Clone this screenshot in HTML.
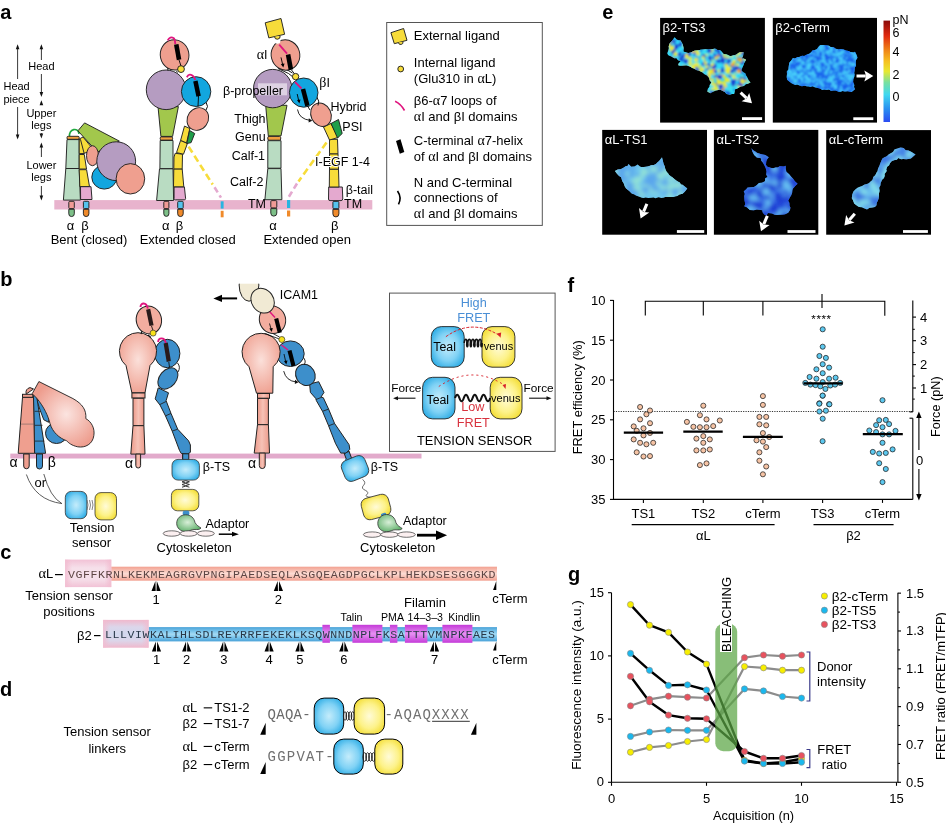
<!DOCTYPE html>
<html><head><meta charset="utf-8"><style>
html,body{margin:0;padding:0;background:#fff;width:946px;height:823px;overflow:hidden}
svg{display:block;filter:blur(0.4px)}
text{font-family:"Liberation Sans",sans-serif}
.m{font-family:"Liberation Mono",monospace}
</style></head><body>
<svg width="946" height="823" viewBox="0 0 946 823">
<text x="0.3" y="18.6" font-size="20" font-weight="bold" font-family="Liberation Sans, sans-serif">a</text>
<text x="0.3" y="285.6" font-size="20" font-weight="bold" font-family="Liberation Sans, sans-serif">b</text>
<text x="0.2" y="559.4" font-size="20" font-weight="bold" font-family="Liberation Sans, sans-serif">c</text>
<text x="0" y="695.5" font-size="20" font-weight="bold" font-family="Liberation Sans, sans-serif">d</text>
<text x="602.2" y="18.8" font-size="20" font-weight="bold" font-family="Liberation Sans, sans-serif">e</text>
<text x="567.6" y="291.5" font-size="20" font-weight="bold" font-family="Liberation Sans, sans-serif">f</text>
<text x="568" y="580.5" font-size="20" font-weight="bold" font-family="Liberation Sans, sans-serif">g</text>
<rect x="54.3" y="200.1" width="318" height="9.4" fill="#e8b3cd"/>
<line x1="17.6" y1="46" x2="17.6" y2="79" stroke="#222" stroke-width="0.9"/>
<line x1="17.6" y1="107" x2="17.6" y2="138" stroke="#222" stroke-width="0.9"/>
<path d="M15.8,49.3 L17.6,44.3 L19.400000000000002,49.3 Z" fill="#111"/>
<path d="M15.8,134.5 L17.6,139.5 L19.400000000000002,134.5 Z" fill="#111"/>
<text x="16.6" y="89.8" font-size="11" text-anchor="middle">Head</text>
<text x="16.6" y="103.3" font-size="11" text-anchor="middle">piece</text>
<line x1="41.4" y1="46" x2="41.4" y2="60" stroke="#222" stroke-width="0.9"/>
<line x1="41.4" y1="74" x2="41.4" y2="95" stroke="#222" stroke-width="0.9"/>
<path d="M39.6,49.3 L41.4,44.3 L43.199999999999996,49.3 Z" fill="#111"/>
<path d="M39.6,92.1 L41.4,97.1 L43.199999999999996,92.1 Z" fill="#111"/>
<text x="41.4" y="70.2" font-size="11" text-anchor="middle">Head</text>
<line x1="41.4" y1="102" x2="41.4" y2="105" stroke="#222" stroke-width="0.9"/>
<path d="M39.6,105.2 L41.4,100.2 L43.199999999999996,105.2 Z" fill="#111"/>
<path d="M39.6,133.5 L41.4,138.5 L43.199999999999996,133.5 Z" fill="#111"/>
<line x1="41.4" y1="133" x2="41.4" y2="137" stroke="#222" stroke-width="0.9"/>
<text x="41.4" y="116.7" font-size="11" text-anchor="middle">Upper</text>
<text x="41.4" y="129.1" font-size="11" text-anchor="middle">legs</text>
<line x1="41.4" y1="144" x2="41.4" y2="157" stroke="#222" stroke-width="0.9"/>
<path d="M39.6,147.6 L41.4,142.6 L43.199999999999996,147.6 Z" fill="#111"/>
<line x1="41.4" y1="186" x2="41.4" y2="199" stroke="#222" stroke-width="0.9"/>
<path d="M39.6,195.5 L41.4,200.5 L43.199999999999996,195.5 Z" fill="#111"/>
<text x="41.4" y="168.5" font-size="11" text-anchor="middle">Lower</text>
<text x="41.4" y="180.9" font-size="11" text-anchor="middle">legs</text>
<path d="M69.5,136.5 C69,129 78,126.5 79,134" fill="none" stroke="#1faa3f" stroke-width="1.6"/>
<polygon points="77.9,130.8 84.6,122.9 119.3,141.1 97.4,152.1" fill="#a2c74c" stroke="#222" stroke-width="0.95" stroke-linejoin="round"/>
<polygon points="79.2,139 83,137 92,148 88,152 82,154" fill="#f7dc3a" stroke="#222" stroke-width="0.95"/>
<ellipse cx="92.5" cy="155.7" rx="6" ry="10" fill="#ef9f8f" stroke="#222" stroke-width="0.95"/>
<ellipse cx="104.3" cy="177.2" rx="12.5" ry="11.9" fill="#12a6df" stroke="#222" stroke-width="0.95"/>
<circle cx="116.2" cy="161.2" r="19.4" fill="#b59cc1" stroke="#222" stroke-width="0.95"/>
<ellipse cx="130.4" cy="178.8" rx="14.3" ry="15.2" fill="#ef9f8f" stroke="#222" stroke-width="0.95"/>
<rect x="67" y="136.3" width="12.2" height="3" rx="1.2" fill="#f0a040" stroke="#222" stroke-width="0.95"/>
<polygon points="67,139.6 79.2,139.6 79.2,168.5 65.8,168.5" fill="#b9dcc2" stroke="#222" stroke-width="0.95" stroke-linejoin="round"/>
<polygon points="65.8,168.5 79.2,168.5 80.4,200.1 63.4,200.1" fill="#b9dcc2" stroke="#222" stroke-width="0.95" stroke-linejoin="round"/>
<polygon points="79.2,139.5 80.5,139.5 84.2,153.6 79.2,153.6" fill="#f7dc3a" stroke="#222" stroke-width="0.95"/>
<polygon points="79.2,154.5 84.3,154.5 86.5,169 79.2,169" fill="#f7dc3a" stroke="#222" stroke-width="0.95"/>
<polygon points="79.2,169.7 86.6,169.7 89.5,186.6 79.8,186.6" fill="#f7dc3a" stroke="#222" stroke-width="0.95"/>
<path d="M80.5,186.7 H91 L92,199.5 H80.6 Z" fill="#e4a9cf" stroke="#222" stroke-width="0.95"/>
<rect x="68.8" y="201.3" width="5.5" height="7.3" rx="1" fill="#f09a96" stroke="#222" stroke-width="0.95"/>
<path d="M68.8,209.3 h5.5 v4.5 a2.75,2.75 0 0 1 -5.5,0 Z" fill="#7dc088" stroke="#222" stroke-width="0.95"/>
<rect x="83.4" y="201.3" width="5.5" height="7.3" rx="1" fill="#55c3ee" stroke="#222" stroke-width="0.95"/>
<path d="M83.4,209.3 h5.5 v4.5 a2.75,2.75 0 0 1 -5.5,0 Z" fill="#f08a2a" stroke="#222" stroke-width="0.95"/>
<polygon points="158,106.6 178.4,106.6 172.6,136.4 160.9,136.4" fill="#a2c74c" stroke="#222" stroke-width="0.95"/>
<circle cx="166.1" cy="89.8" r="19.8" fill="#b59cc1" stroke="#222" stroke-width="0.95"/>
<rect x="160.2" y="136.9" width="12.4" height="3.2" rx="1.2" fill="#f0a040" stroke="#222" stroke-width="0.95"/>
<polygon points="160.2,140.5 173,140.5 173,168.5 159.9,168.5" fill="#b9dcc2" stroke="#222" stroke-width="0.95"/>
<polygon points="159.5,168.8 173,168.8 173.6,200.5 156.6,200.5" fill="#b9dcc2" stroke="#222" stroke-width="0.95"/>
<rect x="163.8" y="201.3" width="5.1" height="7.3" rx="1" fill="#f09a96" stroke="#222" stroke-width="0.95"/>
<path d="M163.8,209.3 h5.1 v4.5 a2.55,2.55 0 0 1 -5.1,0 Z" fill="#7dc088" stroke="#222" stroke-width="0.95"/>
<path d="M174.1,186.9 H184.4 L185.6,198.5 Q185.6,199.8 184.3,199.8 H175.3 Q174.1,199.8 174.1,198.5 Z" fill="#e4a9cf" stroke="#222" stroke-width="0.95"/>
<path d="M173.8,168.9 H182.2 L183.8,186.8 H173.5 Z" fill="#f7dc3a" stroke="#222" stroke-width="0.95" stroke-linejoin="round"/>
<path d="M175.2,153.3 L182.5,154.2 L182.2,168.9 H173.8 L174,157 Z" fill="#f7dc3a" stroke="#222" stroke-width="0.95" stroke-linejoin="round"/>
<path d="M180.6,140.4 L187.4,143.5 L183.5,154.2 L176.5,152.6 Z" fill="#f7dc3a" stroke="#222" stroke-width="0.95" stroke-linejoin="round"/>
<path d="M184.5,126.1 L189.8,128.5 L186.6,142.9 L180.6,140.4 Z" fill="#f7dc3a" stroke="#222" stroke-width="0.95" stroke-linejoin="round"/>
<path d="M189.6,130.5 L194.7,133.5 L191.1,142.6 L186.8,143.6 Z" fill="#1f9f4a" stroke="#222" stroke-width="0.95" stroke-linejoin="round"/>
<rect x="177.7" y="201.3" width="5.5" height="7.3" rx="1" fill="#55c3ee" stroke="#222" stroke-width="0.95"/>
<path d="M177.7,209.3 h5.5 v4.5 a2.75,2.75 0 0 1 -5.5,0 Z" fill="#f08a2a" stroke="#222" stroke-width="0.95"/>
<ellipse cx="197.8" cy="119" rx="10.3" ry="11.8" transform="rotate(35 197.8 119)" fill="#ef9f8f" stroke="#222" stroke-width="0.95"/>
<path d="M206,102 Q209,107 206,110" fill="none" stroke="#111" stroke-width="1"/>
<ellipse cx="196.1" cy="91.6" rx="14.7" ry="14.9" fill="#12a6df" stroke="#222" stroke-width="0.95"/>
<path d="M186.8,77.2 Q189.5,72.5 193.5,76.5 L195.5,80" fill="none" stroke="#e0157f" stroke-width="1.8"/>
<polygon points="193.2,81.5 197.6,80.6 200.8,95.8 196.4,96.7" fill="#000"/>
<line x1="198.5" y1="96" x2="198" y2="106.5" stroke="#000" stroke-width="0.9"/>
<line x1="167.5" y1="66" x2="168" y2="70.5" stroke="#000" stroke-width="0.9"/><line x1="176.5" y1="71" x2="177.5" y2="72.5" stroke="#000" stroke-width="0.9"/>
<ellipse cx="174.6" cy="54.9" rx="14.3" ry="15.2" transform="rotate(-12 174.6 54.9)" fill="#ef9f8f" stroke="#222" stroke-width="0.95"/>
<path d="M167.7,40.5 Q170,35.8 173.8,38.2 Q175,39.5 175.3,44" fill="none" stroke="#e0157f" stroke-width="1.8"/>
<polygon points="174,44.8 178.5,43.9 181.3,59.3 176.8,60.2" fill="#000"/>
<line x1="179" y1="60" x2="181" y2="66" stroke="#000" stroke-width="0.9"/>
<circle cx="181" cy="69.1" r="3.4" fill="#f7dc3a" stroke="#222" stroke-width="0.95"/>
<path d="M188.6,146.6 L212.7,184.5" stroke="#f7dc3a" stroke-width="2.6" stroke-dasharray="7,3.8"/>
<path d="M214.5,187.3 L221,197.6" stroke="#e4a9cf" stroke-width="2.6" stroke-dasharray="6,3.5"/>
<rect x="220.7" y="201.3" width="2.9" height="7.3" fill="#28b4e0"/><rect x="220.7" y="210.8" width="2.9" height="6.5" fill="#f08a2a"/>
<polygon points="265.7,105.3 287,105.3 281,135.9 268.3,135.9" fill="#a2c74c" stroke="#222" stroke-width="0.95"/>
<circle cx="272.7" cy="88.6" r="19.2" fill="#b59cc1" stroke="#222" stroke-width="0.95"/>
<rect x="258" y="83.3" width="29" height="12" fill="#fff" fill-opacity="0.55"/>
<rect x="267.8" y="136.4" width="12.9" height="3.8" rx="1.2" fill="#f0a040" stroke="#222" stroke-width="0.95"/>
<polygon points="267.8,140.7 281,140.7 281,168.2 267.8,168.2" fill="#b9dcc2" stroke="#222" stroke-width="0.95"/>
<polygon points="267.8,168.6 281,168.6 281.9,199.7 264.9,199.7" fill="#b9dcc2" stroke="#222" stroke-width="0.95"/>
<rect x="270.8" y="200.6" width="6" height="7.3" rx="1" fill="#f09a96" stroke="#222" stroke-width="0.95"/>
<path d="M270.8,208.6 h6 v4.5 a3.0,3.0 0 0 1 -6,0 Z" fill="#7dc088" stroke="#222" stroke-width="0.95"/>
<path d="M328.7,187 H342.3 L342.8,199 Q342.5,200.6 341,200.6 H330 Q328.5,200.6 328.5,199 Z" fill="#e4a9cf" stroke="#222" stroke-width="0.95"/>
<path d="M329.5,169.1 H338.5 L339,187 H329.3 Z" fill="#f7dc3a" stroke="#222" stroke-width="0.95"/>
<path d="M329.5,153.8 H338 L338.5,169.1 H329.5 Z" fill="#f7dc3a" stroke="#222" stroke-width="0.95"/>
<path d="M329.5,139.3 H337.5 L338,153.8 H329.5 Z" fill="#f7dc3a" stroke="#222" stroke-width="0.95"/>
<path d="M323.5,127 L331,123.5 L338,137.5 L329.5,140 Z" fill="#f7dc3a" stroke="#222" stroke-width="0.95"/>
<path d="M331,123.5 L338.5,119.5 L342.2,133.5 L337.5,138 Z" fill="#1f9f4a" stroke="#222" stroke-width="0.95"/>
<rect x="332.9" y="201.4" width="6" height="7.3" rx="1" fill="#55c3ee" stroke="#222" stroke-width="0.95"/>
<path d="M332.9,209.4 h6 v4.5 a3.0,3.0 0 0 1 -6,0 Z" fill="#f08a2a" stroke="#222" stroke-width="0.95"/>
<ellipse cx="321" cy="114.7" rx="10" ry="12" transform="rotate(-25 321 114.7)" fill="#ef9f8f" stroke="#222" stroke-width="0.95"/>
<path d="M297.5,109.5 Q299,119 310.5,120.5" fill="none" stroke="#111" stroke-width="0.9"/><path d="M308.8,118.2 L312.3,120.7 L308.6,122.5 Z" fill="#111"/>
<path d="M316.8,97 Q320,101 318,105.5" fill="none" stroke="#111" stroke-width="1"/>
<ellipse cx="303.7" cy="92.6" rx="14.3" ry="14.6" fill="#12a6df" stroke="#222" stroke-width="0.95"/>
<line x1="295" y1="82" x2="301.5" y2="88.5" stroke="#e0157f" stroke-width="1.8"/>
<polygon points="300.8,89.5 305.2,88.5 309.6,105.2 305.2,106.2" fill="#000"/>
<line x1="307.5" y1="106" x2="310" y2="110" stroke="#000" stroke-width="0.9"/>
<path d="M297.2,94 L299,102" stroke="#000" stroke-width="0.9"/><path d="M297,100 L299.4,103.5 L300.5,99.5 Z" fill="#000"/>
<path d="M278,68.5 L288.5,73.5 L293,77" fill="none" stroke="#000" stroke-width="0.9"/><path d="M283,67.5 L292.5,73" fill="none" stroke="#000" stroke-width="0.9"/>
<ellipse cx="285.5" cy="55" rx="14.3" ry="15.2" transform="rotate(-15 285.5 55)" fill="#ef9f8f" stroke="#222" stroke-width="0.95"/>
<circle cx="277.3" cy="40.5" r="3.2" fill="#fff"/>
<line x1="279.2" y1="44.6" x2="287" y2="53.7" stroke="#e0157f" stroke-width="1.8"/>
<polygon points="285.8,55 290.3,54 293.2,69.2 288.7,70.2" fill="#000"/>
<line x1="291.5" y1="70" x2="295" y2="74.5" stroke="#000" stroke-width="0.9"/>
<path d="M281,57.4 L283,66" stroke="#000" stroke-width="0.9"/><path d="M280.8,64 L283.3,67.5 L284.5,63.5 Z" fill="#000"/>
<circle cx="295.6" cy="76.6" r="3.2" fill="#f7dc3a" stroke="#222" stroke-width="0.95"/>
<polygon points="265.2,22.8 281,18.5 284.6,34.3 268.8,37.9" fill="#f7dc3a" stroke="#222" stroke-width="0.95"/>
<path d="M274.5,36.8 a2.8,2.8 0 0 0 5.6,-0.8" fill="#f7dc3a" stroke="#222" stroke-width="0.95"/>
<path d="M326.5,142.5 L298.5,181.5" stroke="#f7dc3a" stroke-width="2.6" stroke-dasharray="7,3.8"/>
<path d="M297,183.5 L288.7,197" stroke="#e4a9cf" stroke-width="2.6" stroke-dasharray="6,3.5"/>
<rect x="287" y="200" width="3.2" height="8" fill="#28b4e0"/><rect x="287" y="210.5" width="3.2" height="6" fill="#f08a2a"/>
<text x="234.3" y="123.2" font-size="12.5">Thigh</text>
<text x="235.1" y="141" font-size="12.5">Genu</text>
<text x="231.7" y="159.7" font-size="12.5">Calf-1</text>
<text x="230" y="186.1" font-size="12.5">Calf-2</text>
<text x="247.9" y="208.2" font-size="12.5">TM</text>
<text x="223" y="94.5" font-size="12.5">&#946;-propeller</text>
<text x="330.4" y="111.3" font-size="12.5">Hybrid</text>
<text x="342.3" y="130.8" font-size="12.5">PSI</text>
<text x="345.7" y="193.8" font-size="12.5">&#946;-tail</text>
<text x="344" y="208.2" font-size="12.5">TM</text>
<text x="315" y="165.7" font-size="12.5" stroke="#fff" stroke-width="2" paint-order="stroke">I-EGF 1-4</text>
<text x="256.7" y="58.6" font-size="12.5"><tspan font-family="Liberation Serif" font-size="14">&#945;</tspan>I</text>
<text x="319.3" y="86.5" font-size="12.5"><tspan font-family="Liberation Serif" font-size="14">&#946;</tspan>I</text>
<text x="70.6" y="229.9" font-size="13" font-family="Liberation Serif" text-anchor="middle">&#945;</text>
<text x="84.9" y="229.9" font-size="13" font-family="Liberation Serif" text-anchor="middle">&#946;</text>
<text x="165.8" y="229.9" font-size="13" font-family="Liberation Serif" text-anchor="middle">&#945;</text>
<text x="179.5" y="229.9" font-size="13" font-family="Liberation Serif" text-anchor="middle">&#946;</text>
<text x="272.9" y="229.9" font-size="13" font-family="Liberation Serif" text-anchor="middle">&#945;</text>
<text x="334.8" y="229.9" font-size="13" font-family="Liberation Serif" text-anchor="middle">&#946;</text>
<text x="89" y="243.5" font-size="13" text-anchor="middle">Bent (closed)</text>
<text x="187.7" y="243.5" font-size="13" text-anchor="middle">Extended closed</text>
<text x="307.2" y="243.5" font-size="13" text-anchor="middle">Extended open</text>
<rect x="386.7" y="22.5" width="155.6" height="202.9" fill="none" stroke="#555" stroke-width="1"/>
<polygon points="390.9,32.7 403.6,28.5 407,40.3 394.3,43.7" fill="#f7dc3a" stroke="#222" stroke-width="0.95"/>
<path d="M398.4,42.6 a2.3,2.3 0 0 0 4.6,-0.9" fill="#f7dc3a" stroke="#222" stroke-width="0.95"/>
<circle cx="400.7" cy="69" r="2.9" fill="#f7dc3a" stroke="#222" stroke-width="0.95"/>
<path d="M395.1,101.2 Q401,104 404.5,110.5" fill="none" stroke="#e0157f" stroke-width="1.6"/>
<polygon points="396,141 400.5,139.3 404.3,152 399.8,153.7" fill="#000"/>
<path d="M397.5,191 Q402,197.5 398.5,204.4" fill="none" stroke="#000" stroke-width="1.6"/>
<text x="413.8" y="40.4" font-size="13">External ligand</text>
<text x="413.8" y="67" font-size="13">Internal ligand</text>
<text x="413.8" y="83" font-size="13">(Glu310 in <tspan font-family="Liberation Serif" font-size="14">&#945;</tspan>L)</text>
<text x="413.8" y="104.9" font-size="13">&#946;6-<tspan font-family="Liberation Serif" font-size="14">&#945;</tspan>7 loops of</text>
<text x="413.8" y="120.8" font-size="13"><tspan font-family="Liberation Serif" font-size="14">&#945;</tspan>I and &#946;I domains</text>
<text x="413.8" y="145.2" font-size="13">C-terminal <tspan font-family="Liberation Serif" font-size="14">&#945;</tspan>7-helix</text>
<text x="413.8" y="160.9" font-size="13">of <tspan font-family="Liberation Serif" font-size="14">&#945;</tspan>I and &#946;I domains</text>
<text x="413.8" y="186.6" font-size="13">N and C-terminal</text>
<text x="413.8" y="202.3" font-size="13">connections of</text>
<text x="413.8" y="218.4" font-size="13"><tspan font-family="Liberation Serif" font-size="14">&#945;</tspan>I and &#946;I domains</text>
<defs>
<radialGradient id="salR" cx="0.55" cy="0.5" r="0.55"><stop offset="0" stop-color="#fbe4e0"/><stop offset="1" stop-color="#ee9d8e"/></radialGradient>
<radialGradient id="salH" cx="0.5" cy="0.45" r="0.6"><stop offset="0" stop-color="#fbe0da"/><stop offset="1" stop-color="#ef9f8f"/></radialGradient>
<linearGradient id="salL" x1="0" y1="0" x2="1" y2="0"><stop offset="0" stop-color="#ec9a8a"/><stop offset="0.5" stop-color="#f6c2b6"/><stop offset="1" stop-color="#ec9a8a"/></linearGradient>
<radialGradient id="grR" cx="0.45" cy="0.45" r="0.6"><stop offset="0" stop-color="#d8efd8"/><stop offset="1" stop-color="#5fb06a"/></radialGradient>
</defs>
<rect x="10.3" y="453.6" width="411.2" height="4.9" fill="#e2aacb"/>
<ellipse cx="56.5" cy="433.2" rx="11" ry="10.3" fill="#3d8fcb" stroke="#222" stroke-width="1"/>
<polygon points="36.5,399.2 41.9,401.6 49.8,408.9 48.6,422.3 43.8,419.8 40.1,410.1" fill="#3d8fcb" stroke="#222" stroke-width="1"/>
<polygon points="33.4,395.5 36.5,395.5 45.6,453.3 34.6,453.3" fill="#3d8fcb" stroke="#222" stroke-width="1"/>
<line x1="34.6" y1="411.3" x2="41.0" y2="411.3" stroke="#222" stroke-width="0.8"/>
<line x1="34.6" y1="425.3" x2="42.5" y2="425.3" stroke="#222" stroke-width="0.8"/>
<line x1="34.6" y1="441.1" x2="44.3" y2="441.1" stroke="#222" stroke-width="0.8"/>
<path d="M36.5,454 h6 v12 a3,3 0 0 1 -6,0 Z" fill="#3d8fcb" stroke="#222" stroke-width="1"/>
<path d="M22.5,397.3 H33.5 L34.6,453.3 H18.2 Z" fill="#ef9f8f" stroke="#222" stroke-width="1"/>
<rect x="22.5" y="394.3" width="10.3" height="3" fill="#ef9f8f" stroke="#222" stroke-width="1"/>
<line x1="21" y1="424.1" x2="34" y2="424.1" stroke="#555" stroke-width="0.5"/>
<path d="M23.7,454 h5.5 v12 a2.75,2.75 0 0 1 -5.5,0 Z" fill="#ef9f8f" stroke="#222" stroke-width="1"/>
<g transform="translate(0,370) scale(0.12155)">
<path d="M265,195 L320,95 L600,235 C680,280 712,330 706,400 C752,425 782,480 772,540 C762,610 702,642 640,632 C590,622 562,598 548,582 C490,562 432,512 412,442 C397,382 362,302 302,232 Z" fill="url(#salR)" stroke="#222" stroke-width="7.5" stroke-linejoin="round"/>
</g>
<path d="M26.2,394 Q25,389 30,387.6 L33.5,389 Z" fill="#ef9f8f" stroke="#222" stroke-width="1"/>
<text x="13.5" y="467.2" font-size="14" font-family="Liberation Serif" text-anchor="middle">&#945;</text>
<text x="51.7" y="467.2" font-size="14" font-family="Liberation Serif" text-anchor="middle">&#946;</text>
<path d="M26.4,474.5 Q35,500 61.9,503.6 M43.8,474 Q50,497 61.9,503.6" fill="none" stroke="#333" stroke-width="0.8"/>
<text x="34.5" y="486.7" font-size="13">or</text>
<rect x="65.3" y="491.4" width="21.6" height="27.3" rx="6" fill="url(#cyG)" stroke="#333" stroke-width="0.8"/>
<path d="M87,500 q2,5 0,10 M89.5,500 q2,5 0,10 M92,500 q2,5 0,10" fill="none" stroke="#666" stroke-width="0.8"/>
<rect x="95" y="492.6" width="21.5" height="27.3" rx="6" fill="url(#yeG)" stroke="#333" stroke-width="0.8"/>
<text x="92.1" y="532.1" font-size="13" text-anchor="middle">Tension</text>
<text x="91.5" y="547.2" font-size="13" text-anchor="middle">sensor</text>
<path d="M182.5,453.5 h5.5 v6.5 h-5.5 Z" fill="#3d8fcb" stroke="#222" stroke-width="1"/>
<path d="M158.2,387.9 L168.5,392.8 L166.1,400.7 L171.0,413.4 L177.7,429.2 L188.6,440.8 L190.4,445.0 L190.4,452.3 L187.4,454.1 L181.3,453.5 L179.5,450.5 L172.2,431.1 L165.5,415.9 L160.0,405.0 L155.2,398.9 Z" fill="#3d8fcb" stroke="#222" stroke-width="1" stroke-linejoin="round"/>
<path d="M160,404.5 L166,401.5 M165.5,415.9 L171,413.4 M172.2,431.1 L177.7,429.2" stroke="#222" stroke-width="0.9"/>
<ellipse cx="167.9" cy="378.5" rx="8.3" ry="12" transform="rotate(40 167.9 378.5)" fill="#3d8fcb" stroke="#222" stroke-width="1"/>
<path d="M177.5,363 Q181,367 178,372" fill="none" stroke="#111" stroke-width="0.9"/>
<ellipse cx="167.3" cy="353.5" rx="12.6" ry="14.2" fill="#3d8fcb" stroke="#222" stroke-width="1"/>
<path d="M158.2,342 C158.2,337.5 164.5,336.5 165.8,343" fill="none" stroke="#e0157f" stroke-width="1.9"/>
<polygon points="163.6,343.5 167.8,342.6 170.9,361 166.7,361.9" fill="#2a1a1a"/>
<line x1="168.8" y1="362" x2="169.5" y2="367.5" stroke="#000" stroke-width="0.8"/>
<path d="M138,332.7 A18.6,18.6 0 0 1 150,365.5 L145,392.8 H131.9 L126,365.5 A18.6,18.6 0 0 1 138,332.7 Z" fill="url(#salH)" stroke="#222" stroke-width="1"/>
<rect x="131.9" y="393" width="13.1" height="5" fill="url(#salL)" stroke="#222" stroke-width="1"/>
<path d="M133,398.3 H143.9 V425.7 H133 Z" fill="url(#salL)" stroke="#222" stroke-width="1"/>
<path d="M133,425.7 H143.9 L145,454.1 H130.8 Z" fill="url(#salL)" stroke="#222" stroke-width="1"/>
<path d="M135.8,454.1 h4.8 v11.5 a2.4,2.4 0 0 1 -4.8,0 Z" fill="url(#salL)" stroke="#222" stroke-width="1"/>
<line x1="142.5" y1="329.5" x2="141" y2="334" stroke="#111" stroke-width="1.1"/><line x1="148" y1="335" x2="151" y2="337.5" stroke="#111" stroke-width="1.1"/>
<ellipse cx="148.9" cy="320" rx="12.6" ry="14" transform="rotate(-15 148.9 320)" fill="#f3ad9f" stroke="#222" stroke-width="1"/>
<path d="M140.5,307 C140.5,302.5 146.5,301.5 147.8,308.6" fill="none" stroke="#e0157f" stroke-width="1.9"/>
<polygon points="146.1,309.7 150.2,308.8 153.6,325.2 149.5,326.1" fill="#2a1a1a"/>
<line x1="151.5" y1="326" x2="153" y2="330.5" stroke="#000" stroke-width="0.8"/>
<circle cx="153.1" cy="333.1" r="3" fill="#f7e21a" stroke="#333" stroke-width="0.7"/>
<text x="13.5" y="0" font-size="1"> </text>
<text x="129" y="467.5" font-size="14" font-family="Liberation Serif" text-anchor="middle">&#945;</text>
<rect x="182.7" y="453.8" width="6.1" height="6" fill="#3d8fcb" stroke="#222" stroke-width="1"/>
<rect x="172" y="459.4" width="27.4" height="20.7" rx="6" fill="url(#cyG)" stroke="#333" stroke-width="0.8"/>
<path d="M182,481.8 q3.7,-2.2 7.4,0 q-3.7,2.2 -7.4,0.1 M182,484.5 q3.7,-2.2 7.4,0 q-3.7,2.2 -7.4,0.1 M182,487.2 q3.7,-2.2 7.4,0" fill="none" stroke="#333" stroke-width="1"/>
<rect x="171.4" y="489.4" width="27.4" height="21.4" rx="6" fill="url(#yeG)" stroke="#333" stroke-width="0.8"/>
<rect x="182.7" y="510.8" width="6.7" height="5" rx="2" fill="#3d8fcb"/>
<path d="M185.5,514.8 C180.5,514.8 176.7,518.5 176.7,523.3 C176.7,528 180.5,531.5 185.5,531.5 C189,531.5 191.5,529.5 194,529.5 C197,529.5 199.5,530 201,528 C199,526.5 196.5,525.5 195,522.5 C194,518 191,514.8 185.5,514.8 Z" fill="url(#grR)" stroke="#333" stroke-width="0.8"/>
<ellipse cx="171.7" cy="533.5" rx="8.5" ry="2.7" fill="#fbeff0" stroke="#333" stroke-width="0.7"/>
<ellipse cx="188.6" cy="533.5" rx="8.5" ry="2.7" fill="#fbeff0" stroke="#333" stroke-width="0.7"/>
<ellipse cx="205.8" cy="533.5" rx="8.5" ry="2.7" fill="#fbeff0" stroke="#333" stroke-width="0.7"/>
<line x1="218.8" y1="534.2" x2="233" y2="534.2" stroke="#000" stroke-width="1.5"/><path d="M232,531.8 L238.9,534.2 L232,536.6 Z" fill="#000"/>
<text x="202.8" y="471.4" font-size="12.5">&#946;-TS</text>
<text x="205.5" y="527.5" font-size="12.5">Adaptor</text>
<text x="194.2" y="551.5" font-size="13" text-anchor="middle">Cytoskeleton</text>
<path d="M345.3,452 h5.3 v8 h-5.3 Z" fill="#3d8fcb" stroke="#222" stroke-width="1" transform="rotate(-20 348 456)"/>
<path d="M309.6,384.0 L318.7,381.7 L324.0,392.4 L321.0,397.0 L323.3,397.7 L328.6,409.1 L334.6,423.5 L349.1,444.7 L349.8,449.3 L346.0,453.1 L340.7,453.1 L335.4,443.2 L328.6,425.8 L322.5,411.3 L316.4,400.7 L315.7,398.4 L310.4,392.4 Z" fill="#3d8fcb" stroke="#222" stroke-width="1" stroke-linejoin="round"/>
<path d="M316,399.5 L321.5,397.3 M322.5,411.3 L328.6,409.1 M328.6,425.8 L334.6,423.5" stroke="#222" stroke-width="0.9"/>
<ellipse cx="305.4" cy="374.9" rx="9.5" ry="11" transform="rotate(-30 305.4 374.9)" fill="#3d8fcb" stroke="#222" stroke-width="1"/>
<path d="M302.5,356.5 Q307,361 304,365" fill="none" stroke="#111" stroke-width="0.9"/>
<path d="M283.7,371.1 Q286,381 296.5,382" fill="none" stroke="#111" stroke-width="0.9"/><path d="M295,379.8 L298.5,382.3 L294.8,384 Z" fill="#111"/>
<ellipse cx="290.4" cy="353.7" rx="13.8" ry="12.8" fill="#3d8fcb" stroke="#222" stroke-width="1"/>
<line x1="281.5" y1="345" x2="288" y2="350" stroke="#e0157f" stroke-width="1.4"/>
<polygon points="287.5,351 291.5,350 295.5,365.5 291.5,366.5" fill="#000"/>
<path d="M284,354 L286,363" stroke="#000" stroke-width="0.8"/><path d="M284,361 L286.3,364.5 L287.5,360.5 Z" fill="#000"/>
<path d="M261.1,333.3 A18.8,18.8 0 0 1 273.2,366.7 L272.8,393.2 H256.5 L249,366.7 A18.8,18.8 0 0 1 261.1,333.3 Z" fill="url(#salH)" stroke="#222" stroke-width="1"/>
<rect x="257.5" y="393.5" width="12" height="4.8" fill="url(#salL)" stroke="#222" stroke-width="1"/>
<path d="M257.5,398.4 H268.4 V424.7 H257.5 Z" fill="url(#salL)" stroke="#222" stroke-width="1"/>
<path d="M257.5,424.7 H268.4 L269.5,453.1 H254.2 Z" fill="url(#salL)" stroke="#222" stroke-width="1"/>
<path d="M259.3,453.1 h5.9 v12.5 a2.95,2.95 0 0 1 -5.9,0 Z" fill="url(#salL)" stroke="#222" stroke-width="1"/>
<text x="252" y="467.5" font-size="14" font-family="Liberation Serif" text-anchor="middle">&#945;</text>
<path d="M264.5,333.5 L278,338.5 L281,340 M270,332 L279.5,337" fill="none" stroke="#000" stroke-width="0.8"/>
<ellipse cx="272.5" cy="319.7" rx="13" ry="14" transform="rotate(-25 272.5 319.7)" fill="#f3ad9f" stroke="#222" stroke-width="1"/>
<line x1="269.5" y1="311.5" x2="275" y2="317.5" stroke="#e0157f" stroke-width="1.4"/>
<polygon points="274.2,319 278.2,318 281.8,332.2 277.8,333.2" fill="#000"/>
<path d="M269.5,323.5 L271.5,330.5" stroke="#000" stroke-width="0.8"/><path d="M269.3,328.5 L271.7,332 L272.8,328 Z" fill="#000"/>
<circle cx="281.8" cy="339.5" r="3" fill="#f7e21a" stroke="#333" stroke-width="0.7"/>
<ellipse cx="249" cy="285" rx="9.85" ry="16.2" fill="#f1ead4" stroke="#222" stroke-width="1"/>
<rect x="236" y="262" width="26" height="21.7" fill="#fff"/>
<ellipse cx="262.6" cy="300.7" rx="11" ry="13" transform="rotate(-35 262.6 300.7)" fill="#f1ead4" stroke="#222" stroke-width="1"/>
<line x1="220" y1="298.4" x2="237.1" y2="298.4" stroke="#000" stroke-width="2"/><path d="M222,294.8 L213.4,298.4 L222,302 Z" fill="#000"/>
<text x="279.8" y="298.9" font-size="12.5">ICAM1</text>
<rect x="345" y="459" width="6" height="4" fill="#3d8fcb"/>
<rect x="342.5" y="457.5" width="25" height="22" rx="6.5" transform="rotate(-22 355 468.5)" fill="url(#cyG)" stroke="#333" stroke-width="0.8"/>
<path d="M362.5,479.4 q4,3 1,6 q-3,3 2,5 q4,2 1,4.5 q-2,2 5,2.5" fill="none" stroke="#444" stroke-width="0.8"/>
<rect x="362" y="496" width="28" height="22" rx="6.5" transform="rotate(-15 376 507)" fill="url(#yeG)" stroke="#333" stroke-width="0.8"/>
<rect x="381" y="513" width="5.5" height="4" rx="1.5" transform="rotate(-15 384 515)" fill="#3d8fcb"/>
<path d="M386.5,514.5 C381.5,514.5 377.8,518.5 377.8,523.3 C377.8,528.2 381.5,531.8 386.5,531.8 C390,531.8 392.5,529.8 395,529.8 C398,529.8 400.5,530.5 402.2,528.5 C400.2,527 397.5,526 396,522.8 C395,518 392,514.5 386.5,514.5 Z" fill="url(#grR)" stroke="#333" stroke-width="0.8"/>
<ellipse cx="372.2" cy="534.6" rx="8.8" ry="2.7" fill="#fbeff0" stroke="#333" stroke-width="0.7"/>
<ellipse cx="389.5" cy="534.6" rx="8.8" ry="2.7" fill="#fbeff0" stroke="#333" stroke-width="0.7"/>
<ellipse cx="406.5" cy="534.6" rx="8.8" ry="2.7" fill="#fbeff0" stroke="#333" stroke-width="0.7"/>
<line x1="417" y1="535.2" x2="438" y2="535.2" stroke="#000" stroke-width="2.8"/><path d="M436,530.5 L447.1,535.2 L436,539.9 Z" fill="#000"/>
<text x="370.8" y="470.9" font-size="12.5">&#946;-TS</text>
<text x="403" y="525.1" font-size="12.5">Adaptor</text>
<text x="397.7" y="551.5" font-size="13" text-anchor="middle">Cytoskeleton</text>
<rect x="389.5" y="293.1" width="165.6" height="158.3" fill="#fff" stroke="#555" stroke-width="1"/>
<text x="473.7" y="306.7" font-size="12.7" fill="#4a8fd6" text-anchor="middle">High</text>
<text x="473.8" y="321.5" font-size="12.7" fill="#4a8fd6" text-anchor="middle">FRET</text>
<rect x="431.3" y="326.6" width="32.9" height="40.6" rx="10" fill="url(#cyG)" stroke="#222" stroke-width="0.9"/>
<rect x="482" y="326.6" width="32.9" height="40.6" rx="10" fill="url(#yeG)" stroke="#222" stroke-width="0.9"/>
<path d="M464.2,343 C464.7,338 467.5,338 466.8,343 C466.2,348 468.4,348 467.76,343 C468.26,338 471.06,338 470.36,343 C469.76,348 471.96,348 471.32,343 C471.82,338 474.62,338 473.92,343 C473.32,348 475.52,348 474.88,343 C475.38,338 478.18,338 477.48,343 C476.88,348 479.08,348 478.44,343 C478.94,338 481.74,338 481.04,343 C480.44,348 482.64,348 482.0,343" fill="none" stroke="#111" stroke-width="1.6"/>
<text x="444.6" y="350.9" font-size="12.3" text-anchor="middle">Teal</text>
<text x="498.5" y="349.9" font-size="11" text-anchor="middle">venus</text>
<path d="M445.9,336.7 Q472,318 499.7,335.7" fill="none" stroke="#d8202a" stroke-width="1" stroke-dasharray="3,1.5"/><path d="M497,333.5 L500.5,337.8 L501.2,332.5 Z" fill="#d8202a"/>
<rect x="422.6" y="377.3" width="32.4" height="41.6" rx="10" fill="url(#cyG)" stroke="#222" stroke-width="0.9"/>
<rect x="490.2" y="377.3" width="31.8" height="41.6" rx="10" fill="url(#yeG)" stroke="#222" stroke-width="0.9"/>
<path d="M455,398 Q457.2,391.5 459.4,398 Q461.6,404.5 463.8,398 Q466.0,391.5 468.2,398 Q470.40000000000003,404.5 472.6,398 Q474.8,391.5 477.0,398 Q479.20000000000005,404.5 481.40000000000003,398 Q483.59999999999997,391.5 485.79999999999995,398 Q488.0,404.5 490.2,398" fill="none" stroke="#111" stroke-width="2.1"/>
<text x="437.8" y="404.1" font-size="12.3" text-anchor="middle">Teal</text>
<text x="505.8" y="401.7" font-size="11" text-anchor="middle">venus</text>
<path d="M438.8,386.5 Q472,364 504.8,385.4" fill="none" stroke="#d8202a" stroke-width="1" stroke-dasharray="2,3"/><path d="M502.5,385 L505.5,389 L506,384 Z" fill="#d8202a"/>
<text x="406.3" y="391.5" font-size="11.8" text-anchor="middle">Force</text>
<text x="538.6" y="391.5" font-size="11.8" text-anchor="middle">Force</text>
<line x1="397" y1="398.2" x2="415.5" y2="398.2" stroke="#111" stroke-width="1.1"/><path d="M398,396.2 L393.1,398.2 L398,400.2 Z" fill="#111"/>
<line x1="529.1" y1="398.2" x2="547.5" y2="398.2" stroke="#111" stroke-width="1.1"/><path d="M546.5,396.2 L551.5,398.2 L546.5,400.2 Z" fill="#111"/>
<text x="472.8" y="411.4" font-size="12.7" fill="#d8323e" text-anchor="middle">Low</text>
<text x="473.3" y="427.1" font-size="12.7" fill="#d8323e" text-anchor="middle">FRET</text>
<text x="474.6" y="445.3" font-size="12.9" text-anchor="middle">TENSION SENSOR</text>
<defs>
<linearGradient id="tmG" x1="0" y1="0" x2="0" y2="1"><stop offset="0" stop-color="#f2c2d6"/><stop offset="0.3" stop-color="#f6e0ea"/><stop offset="0.7" stop-color="#f6e0ea"/><stop offset="1" stop-color="#f2c2d6"/></linearGradient>
<linearGradient id="tmG2" x1="0" y1="0" x2="1" y2="0"><stop offset="0" stop-color="#f2bcd0" stop-opacity="0.9"/><stop offset="0.15" stop-color="#f2bcd0" stop-opacity="0"/><stop offset="0.85" stop-color="#f2bcd0" stop-opacity="0"/><stop offset="1" stop-color="#f2bcd0" stop-opacity="0.9"/></linearGradient>
<linearGradient id="tmB" x1="0" y1="0" x2="0" y2="1"><stop offset="0" stop-color="#f0b8cc"/><stop offset="0.25" stop-color="#dcd6ea"/><stop offset="0.5" stop-color="#d2d8ee"/><stop offset="0.75" stop-color="#dcd6ea"/><stop offset="1" stop-color="#f0b8cc"/></linearGradient>
<linearGradient id="salG" x1="0" y1="0" x2="0" y2="1"><stop offset="0" stop-color="#f2a090"/><stop offset="0.3" stop-color="#f8c4b8"/><stop offset="0.5" stop-color="#fcdcd4"/><stop offset="0.7" stop-color="#f8c4b8"/><stop offset="1" stop-color="#f2a090"/></linearGradient>
<linearGradient id="bluG" x1="0" y1="0" x2="0" y2="1"><stop offset="0" stop-color="#4aa2d8"/><stop offset="0.3" stop-color="#7cc6ec"/><stop offset="0.5" stop-color="#a4daf4"/><stop offset="0.7" stop-color="#7cc6ec"/><stop offset="1" stop-color="#4aa2d8"/></linearGradient>
<linearGradient id="magG" x1="0" y1="0" x2="0" y2="1"><stop offset="0" stop-color="#c43ad8"/><stop offset="0.5" stop-color="#e690f2"/><stop offset="1" stop-color="#c43ad8"/></linearGradient>
<radialGradient id="cyG" cx="0.5" cy="0.5" r="0.62"><stop offset="0" stop-color="#c4ecfb"/><stop offset="0.55" stop-color="#80d2f5"/><stop offset="1" stop-color="#20a6e2"/></radialGradient>
<radialGradient id="yeG" cx="0.5" cy="0.5" r="0.62"><stop offset="0" stop-color="#fffbd8"/><stop offset="0.55" stop-color="#fdf28a"/><stop offset="1" stop-color="#f2da28"/></radialGradient>
</defs>
<text x="38.5" y="578.3" font-size="13"><tspan font-family="Liberation Serif" font-size="14.5">&#945;</tspan>L</text>
<rect x="55" y="574" width="7.8" height="1.2" fill="#000"/>
<rect x="111" y="566.7" width="386" height="14" fill="url(#salG)"/>
<rect x="65.1" y="559.6" width="46.2" height="27.5" fill="url(#tmG)"/>
<rect x="65.1" y="559.6" width="46.2" height="27.5" fill="url(#tmG2)"/>
<text class="m" x="67.9" y="577.6" font-size="11.6" fill="#5e4644" textLength="427.5" lengthAdjust="spacing">VGFFKRNLKEKMEAGRGVPNGIPAEDSEQLASGQEAGDPGCLKPLHEKDSESGGGKD</text>
<path d="M151.5,591 L155.4,581 L155.7,591 Z M156.5,591 L156.79999999999998,581 L160.7,591 Z" fill="#000"/>
<text x="156.1" y="603.6" font-size="13" text-anchor="middle">1</text>
<path d="M273.79999999999995,591 L277.7,581 L278.0,591 Z M278.79999999999995,591 L279.09999999999997,581 L283.0,591 Z" fill="#000"/>
<text x="278.4" y="603.6" font-size="13" text-anchor="middle">2</text>
<path d="M493.1,590 L496.3,581 L496.3,590 Z" fill="#000"/>
<text x="492.3" y="603" font-size="13">cTerm</text>
<text x="69" y="600.3" font-size="13" text-anchor="middle">Tension sensor</text>
<text x="69" y="616.3" font-size="13" text-anchor="middle">positions</text>
<text x="77" y="639.6" font-size="13">&#946;2</text>
<rect x="94" y="635" width="6.5" height="1.2" fill="#000"/>
<rect x="148.6" y="627.1" width="348.4" height="14.3" fill="url(#bluG)"/>
<rect x="103.1" y="619.9" width="45.5" height="27.8" fill="url(#tmB)"/>
<rect x="103.1" y="619.9" width="45.5" height="27.8" fill="url(#tmG2)"/>
<rect x="322.4" y="624.8" width="7.5" height="18" fill="url(#magG)"/>
<rect x="352.4" y="624.8" width="30.0" height="18" fill="url(#magG)"/>
<rect x="389.9" y="624.8" width="7.5" height="18" fill="url(#magG)"/>
<rect x="404.9" y="624.8" width="22.5" height="18" fill="url(#magG)"/>
<rect x="442.4" y="624.8" width="30.0" height="18" fill="url(#magG)"/>
<text class="m" x="104.9" y="638.3" font-size="11.6" fill="#283848" textLength="390" lengthAdjust="spacing">LLLVIWKALIHLSDLREYRRFEKEKLKSQWNNDNPLFKSATTTVMNPKFAES</text>
<path d="M151.9,651.6 L155.8,641.6 L156.1,651.6 Z M156.9,651.6 L157.2,641.6 L161.1,651.6 Z" fill="#000"/>
<text x="156.5" y="663.9" font-size="13" text-anchor="middle">1</text>
<path d="M182.1,651.6 L186.0,641.6 L186.29999999999998,651.6 Z M187.1,651.6 L187.39999999999998,641.6 L191.29999999999998,651.6 Z" fill="#000"/>
<text x="186.7" y="663.9" font-size="13" text-anchor="middle">2</text>
<path d="M219.3,651.6 L223.20000000000002,641.6 L223.5,651.6 Z M224.3,651.6 L224.6,641.6 L228.5,651.6 Z" fill="#000"/>
<text x="223.9" y="663.9" font-size="13" text-anchor="middle">3</text>
<path d="M264.5,651.6 L268.40000000000003,641.6 L268.70000000000005,651.6 Z M269.5,651.6 L269.8,641.6 L273.70000000000005,651.6 Z" fill="#000"/>
<text x="269.1" y="663.9" font-size="13" text-anchor="middle">4</text>
<path d="M295.29999999999995,651.6 L299.2,641.6 L299.5,651.6 Z M300.29999999999995,651.6 L300.59999999999997,641.6 L304.5,651.6 Z" fill="#000"/>
<text x="299.9" y="663.9" font-size="13" text-anchor="middle">5</text>
<path d="M339.2,651.6 L343.1,641.6 L343.40000000000003,651.6 Z M344.2,651.6 L344.5,641.6 L348.40000000000003,651.6 Z" fill="#000"/>
<text x="343.8" y="663.9" font-size="13" text-anchor="middle">6</text>
<path d="M429.9,651.6 L433.8,641.6 L434.1,651.6 Z M434.9,651.6 L435.2,641.6 L439.1,651.6 Z" fill="#000"/>
<text x="434.5" y="663.9" font-size="13" text-anchor="middle">7</text>
<path d="M493.1,650.6 L496.3,641.6 L496.3,650.6 Z" fill="#000"/>
<text x="492.3" y="664.1" font-size="13">cTerm</text>
<text x="351.5" y="621" font-size="10.6" text-anchor="middle">Talin</text>
<text x="381" y="621.4" font-size="10.6">PMA</text>
<text x="407.6" y="621.4" font-size="10.6">14&#8211;3&#8211;3</text>
<text x="448.3" y="621.4" font-size="10.6">Kindlin</text>
<text x="425" y="607" font-size="13" text-anchor="middle">Filamin</text>
<text x="107.2" y="736" font-size="13" text-anchor="middle">Tension sensor</text>
<text x="107.2" y="752.5" font-size="13" text-anchor="middle">linkers</text>
<text x="182.5" y="711.9" font-size="13"><tspan font-family="Liberation Serif" font-size="14.5">&#945;</tspan>L</text>
<text x="182.5" y="727.6" font-size="13">&#946;2</text>
<text x="182.5" y="750.5" font-size="13"><tspan font-family="Liberation Serif" font-size="14.5">&#945;</tspan>L</text>
<text x="182.5" y="768.6" font-size="13">&#946;2</text>
<rect x="203.7" y="707.3" width="8.5" height="1.1" fill="#000"/>
<text x="214.2" y="711.9" font-size="13">TS1-2</text>
<rect x="203.7" y="723.0" width="8.5" height="1.1" fill="#000"/>
<text x="214.2" y="727.6" font-size="13">TS1-7</text>
<rect x="203.7" y="745.9" width="8.5" height="1.1" fill="#000"/>
<text x="214.2" y="750.5" font-size="13">cTerm</text>
<rect x="203.7" y="764.0" width="8.5" height="1.1" fill="#000"/>
<text x="214.2" y="768.6" font-size="13">cTerm</text>
<path d="M260.2,734.8 L265.7,722.7 L265.7,734.8 Z" fill="#000"/>
<path d="M470.9,734.8 L476.4,722.7 L476.4,734.8 Z" fill="#000"/>
<path d="M260.2,774.1 L265.7,762 L265.7,774.1 Z" fill="#000"/>
<text class="m" x="267.6" y="719.4" font-size="14" fill="#6a6a6a" textLength="43" lengthAdjust="spacing">QAQA-</text>
<text class="m" x="384.6" y="719.4" font-size="14" fill="#707070" textLength="84" lengthAdjust="spacing">-AQAQXXXX</text>
<line x1="432.1" x2="469.8" y1="721.3" y2="721.3" stroke="#333" stroke-width="1"/>
<text class="m" x="267.6" y="761" font-size="14" fill="#707070" textLength="66" lengthAdjust="spacing">GGPVAT-</text>
<rect x="314.2" y="698.1" width="29.5" height="36" rx="10" fill="url(#cyG)" stroke="#000" stroke-width="1"/>
<ellipse cx="345.0" cy="716" rx="1.61" ry="4.3" fill="none" stroke="#222" stroke-width="0.95"/><ellipse cx="347.6" cy="716" rx="1.61" ry="4.3" fill="none" stroke="#222" stroke-width="0.95"/><ellipse cx="350.2" cy="716" rx="1.61" ry="4.3" fill="none" stroke="#222" stroke-width="0.95"/><ellipse cx="352.8" cy="716" rx="1.61" ry="4.3" fill="none" stroke="#222" stroke-width="0.95"/>
<rect x="354.1" y="698.1" width="30.5" height="36" rx="10" fill="url(#yeG)" stroke="#000" stroke-width="1"/>
<rect x="333.8" y="739.1" width="29.5" height="35" rx="10" fill="url(#cyG)" stroke="#000" stroke-width="1"/>
<ellipse cx="364.7" cy="757" rx="1.78" ry="4.3" fill="none" stroke="#222" stroke-width="0.95"/><ellipse cx="367.6" cy="757" rx="1.78" ry="4.3" fill="none" stroke="#222" stroke-width="0.95"/><ellipse cx="370.5" cy="757" rx="1.78" ry="4.3" fill="none" stroke="#222" stroke-width="0.95"/><ellipse cx="373.4" cy="757" rx="1.78" ry="4.3" fill="none" stroke="#222" stroke-width="0.95"/>
<rect x="374.8" y="739.1" width="28" height="35" rx="10" fill="url(#yeG)" stroke="#000" stroke-width="1"/>
<defs>
<linearGradient id="cbar" x1="0" y1="1" x2="0" y2="0">
<stop offset="0" stop-color="#2b4bf2"/><stop offset="0.13" stop-color="#2a90f0"/><stop offset="0.27" stop-color="#40d8f0"/>
<stop offset="0.39" stop-color="#78e0a0"/><stop offset="0.5" stop-color="#e8e830"/><stop offset="0.6" stop-color="#f6c020"/><stop offset="0.7" stop-color="#f08a18"/>
<stop offset="0.85" stop-color="#e02a10"/><stop offset="1" stop-color="#8a0a0a"/></linearGradient>
<filter id="sm" x="-5%" y="-5%" width="110%" height="110%"><feGaussianBlur stdDeviation="0.85"/></filter><filter id="sm2" x="-5%" y="-5%" width="110%" height="110%"><feGaussianBlur stdDeviation="2.2"/></filter>
<clipPath id="cl0"><polygon points="667.3,53.2 668.1,51.0 668.9,48.0 668.6,46.8 669.5,43.6 671.1,41.7 672.9,39.7 674.6,37.2 676.6,39.4 678.4,40.3 680.6,40.5 682.1,43.2 682.8,44.4 683.6,48.1 683.4,51.6 686.1,52.4 688.3,52.9 690.7,52.6 693.6,50.9 694.9,50.5 698.4,50.3 700.6,49.7 703.2,49.4 705.6,49.2 708.2,49.4 710.5,49.3 713.0,49.1 715.0,48.4 717.5,50.0 719.8,49.9 721.5,51.4 723.7,53.9 726.9,54.5 729.9,56.0 731.1,56.0 733.8,55.3 735.9,54.8 739.1,52.5 741.1,52.1 743.6,52.2 743.1,55.8 741.9,58.5 743.7,58.5 746.1,59.8 744.2,63.0 743.4,65.3 741.3,70.3 743.0,72.3 745.2,73.2 745.9,75.2 747.5,77.8 748.7,80.2 750.6,82.5 747.8,83.8 745.6,84.3 743.9,85.9 740.7,86.5 737.8,88.3 734.6,89.4 734.8,90.9 734.1,93.9 731.9,93.9 729.7,94.7 726.5,94.0 724.8,91.9 720.2,89.8 718.4,90.1 715.9,90.5 713.7,91.4 711.6,92.4 710.2,93.2 707.2,91.6 707.9,88.8 709.6,86.8 709.7,85.1 711.4,82.6 709.6,80.3 709.0,77.8 707.0,75.4 704.2,74.0 703.0,72.8 700.1,71.3 698.5,70.4 696.9,70.3 693.7,68.5 692.2,68.0 689.9,66.6 686.6,65.5 685.2,65.5 682.2,65.7 680.0,65.7 678.3,65.3 678.4,63.8 680.9,61.1 678.1,60.2 676.5,58.3 674.1,58.3 671.3,56.5 668.1,54.9"/></clipPath>
<clipPath id="cl1"><polygon points="786.6,77.0 787.0,74.1 786.8,71.4 788.5,69.6 788.6,67.4 788.9,65.3 789.3,62.8 791.3,60.4 792.9,58.1 794.9,58.6 797.6,57.0 799.2,57.1 802.1,55.7 804.2,55.9 806.5,54.7 809.7,53.4 811.4,51.9 812.4,50.6 815.0,50.0 816.9,48.9 818.7,46.5 820.2,45.0 823.4,45.1 825.8,45.3 829.0,45.8 830.6,47.1 833.7,47.2 835.7,48.8 838.9,49.4 840.7,48.9 843.7,49.6 845.8,50.5 848.6,51.1 850.4,52.1 853.4,52.6 855.0,51.7 856.6,55.0 857.6,57.7 855.9,60.2 855.7,63.2 856.0,65.7 854.7,67.8 854.5,70.9 854.2,72.9 854.7,74.6 854.3,76.8 853.3,79.3 853.1,81.9 854.3,85.1 854.0,86.9 854.9,89.2 851.6,92.0 850.1,91.8 847.8,91.3 844.9,91.4 842.5,91.0 840.6,91.7 838.6,91.7 835.8,90.5 833.4,90.6 830.9,90.8 829.0,89.5 826.8,89.8 824.0,89.4 822.3,90.1 819.9,88.4 816.8,87.8 814.8,87.2 812.7,86.3 810.1,87.0 809.0,86.6 806.7,86.2 804.2,85.8 801.9,86.2 799.6,85.6 797.1,84.6 795.1,84.9 792.0,83.4 789.3,81.6 787.2,79.7"/></clipPath>
<clipPath id="cl2"><polygon points="614.9,171.0 617.7,169.5 620.6,169.2 623.1,168.0 625.7,166.2 627.5,166.0 628.5,163.9 631.2,166.7 634.5,166.4 637.7,164.4 639.7,166.2 641.1,167.1 643.8,167.1 647.5,166.5 649.3,166.1 651.2,165.3 653.9,165.1 656.0,164.1 657.4,162.6 659.1,161.0 662.0,157.3 662.8,160.5 663.6,163.9 664.7,166.2 665.3,169.0 666.6,171.7 668.2,173.6 669.2,175.0 670.5,176.0 672.7,177.6 674.6,179.3 677.3,181.3 679.7,182.4 681.0,184.4 682.6,184.7 685.4,186.9 687.3,188.6 684.7,191.7 682.5,193.7 679.3,194.4 677.3,196.0 675.8,196.2 673.4,197.1 670.7,197.0 667.4,196.9 665.3,197.0 663.5,197.8 661.2,198.0 658.7,197.2 655.4,198.3 653.5,197.5 651.8,197.8 648.2,198.0 645.6,197.6 643.5,198.0 642.0,197.7 639.4,196.8 636.0,195.6 634.6,194.4 631.8,193.5 630.5,192.2 629.3,191.1 626.1,188.4 624.7,186.3 623.8,183.5 622.2,181.0 621.2,177.2 619.1,175.9 617.2,173.9"/></clipPath>
<clipPath id="cl3"><polygon points="751.5,147.9 752.8,150.0 755.3,151.6 756.9,152.7 760.6,153.9 762.8,154.6 765.4,154.9 768.8,157.2 766.8,159.7 766.2,161.8 766.0,164.8 767.0,166.6 770.3,167.8 773.1,168.2 775.7,167.4 777.7,167.6 779.8,166.3 783.5,166.4 785.8,165.7 785.8,169.0 786.4,171.8 788.3,173.4 789.6,174.8 790.7,176.2 793.1,178.7 794.3,180.4 795.1,181.5 797.6,183.8 795.2,186.1 793.0,188.5 792.4,189.7 792.1,192.9 791.1,195.5 790.0,197.2 788.2,200.8 789.4,202.7 789.6,206.0 790.4,207.4 790.0,210.0 788.2,212.7 785.1,214.2 783.3,214.6 779.5,214.8 776.9,215.1 774.7,214.7 772.0,213.4 768.0,213.1 766.5,215.4 764.3,214.4 762.6,212.2 762.4,210.3 759.3,209.7 756.8,209.4 753.9,210.2 749.8,210.1 749.3,209.5 746.8,207.3 744.3,206.2 745.3,204.1 744.6,201.1 744.4,199.7 744.1,195.9 744.7,194.1 743.7,191.3 746.1,189.2 747.5,187.5 751.0,187.3 754.0,187.1 756.7,185.2 759.0,183.0 762.0,182.8 765.0,181.2 765.2,178.2 767.5,177.1 766.1,174.6 766.5,171.5 765.8,168.5 764.2,164.9 762.8,162.5 761.3,160.8 761.0,158.2 756.8,157.6 754.2,155.1 753.4,153.4 752.1,151.1"/></clipPath>
<clipPath id="cl4"><polygon points="853.4,191.4 855.3,189.4 857.6,187.8 859.3,187.1 862.2,185.9 864.2,184.8 866.4,184.2 868.9,183.3 870.4,181.8 872.5,180.0 873.3,177.1 875.3,175.2 876.6,172.4 877.5,171.2 878.0,168.8 879.5,165.5 880.3,163.2 881.1,161.4 882.3,158.8 884.1,157.5 886.8,156.3 888.9,154.3 890.9,153.2 893.1,152.1 894.5,149.6 897.3,148.4 900.5,147.5 903.6,148.1 905.7,150.2 908.5,150.6 911.6,152.0 913.1,153.0 915.6,154.4 913.5,156.2 910.9,158.4 908.1,158.9 906.5,159.3 903.1,158.9 901.1,159.3 898.3,158.1 896.8,159.8 894.8,160.1 891.9,161.0 889.9,163.3 889.1,165.2 887.1,166.7 886.2,169.5 886.7,170.9 884.5,173.9 884.7,175.7 884.0,178.1 882.1,179.8 880.7,183.0 880.5,185.2 879.2,187.8 879.6,190.8 879.0,193.5 879.0,195.5 878.6,198.5 877.9,200.5 876.6,203.1 876.5,205.3 874.9,206.9 871.8,207.4 869.6,207.7 867.0,209.5 864.4,208.6 861.8,207.3 859.2,207.1 858.2,206.4 856.1,205.1 854.2,203.6 852.9,199.9 851.8,198.2 852.2,194.8"/></clipPath>
</defs>
<rect x="660.1" y="17.9" width="104.8" height="104.7" fill="#000"/>
<text x="662.6" y="31.7" font-size="13" fill="#fff">&#946;2-TS3</text>
<rect x="772.8" y="17.9" width="104.2" height="104.7" fill="#000"/>
<text x="775.3" y="31.7" font-size="13" fill="#fff">&#946;2-cTerm</text>
<rect x="602.2" y="129.9" width="104.8" height="104.8" fill="#000"/>
<text x="604.7" y="143.70000000000002" font-size="13" fill="#fff">&#945;L-TS1</text>
<rect x="713.9" y="129.9" width="104.4" height="104.8" fill="#000"/>
<text x="716.4" y="143.70000000000002" font-size="13" fill="#fff">&#945;L-TS2</text>
<rect x="826.2" y="130.1" width="104.8" height="104.6" fill="#000"/>
<text x="828.7" y="143.9" font-size="13" fill="#fff">&#945;L-cTerm</text>
<g clip-path="url(#cl0)"><rect x="665.7039315324953" y="35.73335116341268" width="86.2412409735224" height="60.8333779085317" fill="#3ecdf0"/><g filter="url(#sm)"><circle cx="686.4" cy="41.6" r="1.5" fill="#30e0f8"/><circle cx="741.7" cy="70.5" r="2.1" fill="#1a3ad0"/><circle cx="681.8" cy="54.8" r="1.8" fill="#30e0f8"/><circle cx="701.7" cy="91.1" r="1.6" fill="#30e0f8"/><circle cx="688.5" cy="86.7" r="2.1" fill="#ecec30"/><circle cx="696.6" cy="48.9" r="2.2" fill="#30e0f8"/><circle cx="734.0" cy="84.5" r="2.0" fill="#1a3ad0"/><circle cx="738.6" cy="40.6" r="1.5" fill="#ecec30"/><circle cx="711.1" cy="61.8" r="2.1" fill="#ecec30"/><circle cx="667.9" cy="40.8" r="1.3" fill="#1a3ad0"/><circle cx="674.8" cy="66.3" r="1.6" fill="#ecec30"/><circle cx="696.6" cy="74.5" r="1.6" fill="#30e0f8"/><circle cx="683.4" cy="56.4" r="1.9" fill="#1a3ad0"/><circle cx="726.6" cy="59.3" r="1.4" fill="#1a3ad0"/><circle cx="698.4" cy="72.1" r="1.7" fill="#30e0f8"/><circle cx="733.6" cy="73.1" r="1.6" fill="#ecec30"/><circle cx="708.5" cy="77.7" r="2.0" fill="#ecec30"/><circle cx="705.6" cy="51.7" r="2.0" fill="#30e0f8"/><circle cx="673.6" cy="61.9" r="2.3" fill="#ecec30"/><circle cx="732.7" cy="52.6" r="1.3" fill="#ecec30"/><circle cx="732.9" cy="75.7" r="1.9" fill="#30e0f8"/><circle cx="676.2" cy="71.1" r="1.4" fill="#1a3ad0"/><circle cx="731.4" cy="40.3" r="1.3" fill="#1a3ad0"/><circle cx="740.1" cy="47.9" r="2.2" fill="#1a3ad0"/><circle cx="677.7" cy="85.7" r="2.2" fill="#30e0f8"/><circle cx="746.0" cy="70.6" r="1.2" fill="#f0a020"/><circle cx="730.8" cy="66.8" r="1.3" fill="#30e0f8"/><circle cx="729.3" cy="90.8" r="1.6" fill="#1a3ad0"/><circle cx="714.1" cy="84.8" r="1.4" fill="#1a3ad0"/><circle cx="688.3" cy="72.7" r="1.7" fill="#30e0f8"/><circle cx="697.9" cy="60.3" r="1.7" fill="#ecec30"/><circle cx="701.7" cy="80.2" r="2.0" fill="#1a3ad0"/><circle cx="729.9" cy="76.0" r="1.8" fill="#30e0f8"/><circle cx="720.6" cy="88.7" r="1.3" fill="#1a3ad0"/><circle cx="729.2" cy="89.8" r="1.7" fill="#30e0f8"/><circle cx="726.8" cy="48.3" r="1.4" fill="#1a3ad0"/><circle cx="715.9" cy="55.6" r="2.0" fill="#1a3ad0"/><circle cx="746.1" cy="54.5" r="1.7" fill="#30e0f8"/><circle cx="737.9" cy="71.0" r="1.5" fill="#1a3ad0"/><circle cx="669.6" cy="65.0" r="1.4" fill="#ecec30"/><circle cx="697.3" cy="56.0" r="1.4" fill="#30e0f8"/><circle cx="749.2" cy="65.0" r="1.8" fill="#30e0f8"/><circle cx="736.3" cy="84.4" r="1.8" fill="#30e0f8"/><circle cx="727.0" cy="86.4" r="2.1" fill="#ecec30"/><circle cx="746.7" cy="64.3" r="1.5" fill="#1a3ad0"/><circle cx="737.9" cy="51.5" r="1.5" fill="#1a3ad0"/><circle cx="693.5" cy="61.8" r="1.3" fill="#30e0f8"/><circle cx="675.3" cy="85.1" r="1.6" fill="#ecec30"/><circle cx="715.4" cy="76.1" r="1.6" fill="#1a3ad0"/><circle cx="703.6" cy="65.3" r="1.9" fill="#1a3ad0"/><circle cx="746.3" cy="60.0" r="1.3" fill="#30e0f8"/><circle cx="690.3" cy="75.6" r="2.3" fill="#1a3ad0"/><circle cx="698.5" cy="81.6" r="1.6" fill="#30e0f8"/><circle cx="723.3" cy="74.9" r="1.5" fill="#f0a020"/><circle cx="729.7" cy="92.4" r="1.8" fill="#30e0f8"/><circle cx="677.0" cy="65.8" r="2.1" fill="#ecec30"/><circle cx="723.5" cy="69.9" r="2.0" fill="#1a3ad0"/><circle cx="679.3" cy="56.6" r="1.9" fill="#30e0f8"/><circle cx="713.3" cy="74.5" r="1.6" fill="#ecec30"/><circle cx="682.2" cy="41.6" r="2.1" fill="#30e0f8"/><circle cx="712.4" cy="79.8" r="1.5" fill="#ecec30"/><circle cx="699.2" cy="87.3" r="1.8" fill="#1a3ad0"/><circle cx="688.0" cy="81.4" r="1.6" fill="#ecec30"/><circle cx="700.9" cy="68.5" r="1.6" fill="#30e0f8"/><circle cx="737.4" cy="44.1" r="1.3" fill="#ecec30"/><circle cx="677.0" cy="82.0" r="1.4" fill="#30e0f8"/><circle cx="683.3" cy="61.4" r="2.2" fill="#30e0f8"/><circle cx="729.3" cy="71.4" r="1.7" fill="#1a3ad0"/><circle cx="683.6" cy="67.7" r="1.4" fill="#30e0f8"/><circle cx="688.3" cy="82.2" r="2.2" fill="#1a3ad0"/><circle cx="741.0" cy="91.7" r="1.9" fill="#ecec30"/><circle cx="707.5" cy="71.9" r="1.2" fill="#30e0f8"/><circle cx="731.1" cy="75.4" r="1.8" fill="#ecec30"/><circle cx="705.6" cy="48.7" r="1.2" fill="#30e0f8"/><circle cx="708.9" cy="74.4" r="1.9" fill="#ecec30"/><circle cx="746.6" cy="88.4" r="2.2" fill="#1a3ad0"/><circle cx="719.0" cy="40.6" r="1.5" fill="#ecec30"/><circle cx="694.3" cy="87.2" r="1.4" fill="#30e0f8"/><circle cx="726.6" cy="79.8" r="2.2" fill="#ecec30"/><circle cx="744.3" cy="86.7" r="2.1" fill="#ecec30"/><circle cx="707.6" cy="43.9" r="1.3" fill="#1a3ad0"/><circle cx="684.2" cy="46.9" r="2.0" fill="#ecec30"/><circle cx="711.9" cy="61.7" r="1.6" fill="#30e0f8"/><circle cx="705.9" cy="80.8" r="1.4" fill="#ecec30"/><circle cx="741.7" cy="78.6" r="1.6" fill="#ecec30"/><circle cx="711.2" cy="71.6" r="1.2" fill="#1a3ad0"/><circle cx="684.9" cy="82.2" r="1.8" fill="#1a3ad0"/><circle cx="683.8" cy="49.6" r="1.7" fill="#1a3ad0"/><circle cx="681.5" cy="39.3" r="1.4" fill="#1a3ad0"/><circle cx="708.0" cy="41.1" r="1.7" fill="#1a3ad0"/><circle cx="701.2" cy="77.7" r="1.7" fill="#1a3ad0"/><circle cx="685.7" cy="43.1" r="1.4" fill="#ecec30"/><circle cx="718.9" cy="57.4" r="1.3" fill="#1a3ad0"/><circle cx="727.5" cy="53.4" r="1.8" fill="#30e0f8"/><circle cx="744.4" cy="54.8" r="1.5" fill="#1a3ad0"/><circle cx="734.7" cy="73.5" r="1.3" fill="#ecec30"/><circle cx="723.8" cy="92.8" r="1.2" fill="#30e0f8"/><circle cx="670.2" cy="42.9" r="1.2" fill="#1a3ad0"/><circle cx="684.2" cy="93.1" r="2.2" fill="#ecec30"/><circle cx="743.2" cy="91.2" r="1.6" fill="#1a3ad0"/><circle cx="717.6" cy="91.5" r="1.6" fill="#1a3ad0"/><circle cx="737.6" cy="44.3" r="1.6" fill="#ecec30"/><circle cx="723.6" cy="90.5" r="2.1" fill="#1a3ad0"/><circle cx="728.1" cy="85.2" r="2.3" fill="#30e0f8"/><circle cx="697.5" cy="61.3" r="2.1" fill="#1a3ad0"/><circle cx="707.2" cy="53.0" r="2.1" fill="#1a3ad0"/><circle cx="717.5" cy="78.1" r="1.8" fill="#ecec30"/><circle cx="680.4" cy="78.1" r="1.8" fill="#1a3ad0"/><circle cx="730.1" cy="76.2" r="1.5" fill="#1a3ad0"/><circle cx="728.0" cy="56.7" r="1.3" fill="#ecec30"/><circle cx="700.5" cy="92.0" r="1.9" fill="#1a3ad0"/><circle cx="676.8" cy="42.3" r="1.5" fill="#30e0f8"/><circle cx="671.7" cy="46.4" r="1.9" fill="#30e0f8"/><circle cx="685.8" cy="69.7" r="2.1" fill="#ecec30"/><circle cx="717.4" cy="82.6" r="1.4" fill="#30e0f8"/><circle cx="684.1" cy="88.5" r="1.8" fill="#1a3ad0"/><circle cx="686.0" cy="84.9" r="2.0" fill="#30e0f8"/><circle cx="730.3" cy="87.3" r="1.9" fill="#ecec30"/><circle cx="716.6" cy="84.0" r="1.8" fill="#1a3ad0"/><circle cx="705.9" cy="79.1" r="1.6" fill="#1a3ad0"/><circle cx="707.6" cy="41.8" r="2.1" fill="#30e0f8"/><circle cx="702.5" cy="74.6" r="1.5" fill="#30e0f8"/><circle cx="696.5" cy="94.3" r="1.7" fill="#ecec30"/><circle cx="674.6" cy="50.1" r="2.3" fill="#1a3ad0"/><circle cx="718.0" cy="90.7" r="1.7" fill="#30e0f8"/><circle cx="707.5" cy="81.7" r="2.4" fill="#ecec30"/><circle cx="682.9" cy="43.2" r="1.6" fill="#30e0f8"/><circle cx="710.4" cy="74.1" r="2.1" fill="#1a3ad0"/><circle cx="690.4" cy="62.3" r="2.1" fill="#ecec30"/><circle cx="729.1" cy="54.1" r="1.6" fill="#1a3ad0"/><circle cx="701.5" cy="42.1" r="2.1" fill="#1a3ad0"/><circle cx="739.8" cy="58.9" r="1.6" fill="#1a3ad0"/><circle cx="705.8" cy="67.6" r="1.6" fill="#30e0f8"/><circle cx="737.8" cy="53.9" r="2.3" fill="#ecec30"/><circle cx="734.1" cy="54.6" r="2.2" fill="#1a3ad0"/><circle cx="668.5" cy="45.2" r="1.8" fill="#30e0f8"/><circle cx="681.3" cy="40.6" r="2.1" fill="#1a3ad0"/><circle cx="706.0" cy="93.4" r="2.4" fill="#30e0f8"/><circle cx="670.6" cy="48.2" r="1.7" fill="#1a3ad0"/><circle cx="695.5" cy="40.6" r="1.3" fill="#30e0f8"/><circle cx="693.3" cy="51.8" r="1.7" fill="#f0a020"/><circle cx="689.1" cy="40.2" r="2.0" fill="#ecec30"/><circle cx="723.2" cy="89.6" r="1.5" fill="#f0a020"/><circle cx="678.9" cy="80.8" r="1.8" fill="#30e0f8"/><circle cx="736.0" cy="69.1" r="1.4" fill="#ecec30"/><circle cx="742.2" cy="64.3" r="2.3" fill="#30e0f8"/><circle cx="734.6" cy="72.0" r="1.8" fill="#ecec30"/><circle cx="681.7" cy="48.1" r="2.4" fill="#30e0f8"/><circle cx="712.7" cy="60.9" r="1.7" fill="#ecec30"/><circle cx="680.5" cy="55.6" r="1.7" fill="#30e0f8"/><circle cx="718.1" cy="39.5" r="1.9" fill="#30e0f8"/><circle cx="707.8" cy="53.6" r="2.3" fill="#30e0f8"/><circle cx="676.1" cy="75.7" r="1.8" fill="#ecec30"/><circle cx="741.4" cy="92.3" r="1.4" fill="#30e0f8"/><circle cx="743.4" cy="48.0" r="2.2" fill="#ecec30"/><circle cx="745.3" cy="55.8" r="1.5" fill="#ecec30"/><circle cx="674.2" cy="50.8" r="1.3" fill="#1a3ad0"/><circle cx="719.6" cy="84.2" r="1.5" fill="#1a3ad0"/><circle cx="746.8" cy="41.7" r="1.8" fill="#1a3ad0"/><circle cx="689.7" cy="68.8" r="1.5" fill="#1a3ad0"/><circle cx="682.3" cy="94.2" r="2.0" fill="#30e0f8"/><circle cx="679.4" cy="40.8" r="1.4" fill="#30e0f8"/><circle cx="671.7" cy="92.3" r="1.7" fill="#30e0f8"/><circle cx="690.8" cy="45.2" r="1.4" fill="#1a3ad0"/><circle cx="696.7" cy="89.7" r="1.4" fill="#1a3ad0"/><circle cx="707.6" cy="77.7" r="1.2" fill="#ecec30"/><circle cx="696.1" cy="80.3" r="1.9" fill="#30e0f8"/><circle cx="705.9" cy="68.3" r="1.8" fill="#ecec30"/><circle cx="736.2" cy="49.1" r="2.3" fill="#30e0f8"/><circle cx="736.8" cy="47.3" r="1.4" fill="#1a3ad0"/><circle cx="672.1" cy="93.3" r="2.2" fill="#ecec30"/><circle cx="733.0" cy="94.1" r="1.8" fill="#30e0f8"/><circle cx="730.7" cy="43.0" r="1.7" fill="#30e0f8"/><circle cx="679.7" cy="71.9" r="1.8" fill="#ecec30"/><circle cx="698.4" cy="55.8" r="1.9" fill="#ecec30"/><circle cx="689.9" cy="44.7" r="2.1" fill="#ecec30"/><circle cx="695.7" cy="74.4" r="2.4" fill="#ecec30"/><circle cx="705.0" cy="64.9" r="2.2" fill="#30e0f8"/><circle cx="748.8" cy="67.8" r="1.9" fill="#ecec30"/><circle cx="699.3" cy="93.5" r="1.5" fill="#ecec30"/><circle cx="712.8" cy="88.0" r="2.2" fill="#ecec30"/><circle cx="726.2" cy="58.3" r="1.8" fill="#ecec30"/><circle cx="700.5" cy="58.9" r="2.3" fill="#30e0f8"/><circle cx="715.8" cy="46.0" r="1.6" fill="#1a3ad0"/><circle cx="718.3" cy="45.7" r="1.6" fill="#1a3ad0"/><circle cx="691.0" cy="39.4" r="2.3" fill="#30e0f8"/><circle cx="736.6" cy="89.6" r="2.0" fill="#ecec30"/><circle cx="677.6" cy="87.7" r="1.8" fill="#ecec30"/><circle cx="740.9" cy="54.0" r="2.2" fill="#1a3ad0"/><circle cx="717.0" cy="42.6" r="1.6" fill="#1a3ad0"/><circle cx="668.3" cy="85.0" r="1.5" fill="#1a3ad0"/><circle cx="699.7" cy="66.8" r="2.0" fill="#ecec30"/><circle cx="722.0" cy="62.5" r="2.4" fill="#1a3ad0"/><circle cx="724.6" cy="42.5" r="2.1" fill="#ecec30"/><circle cx="749.3" cy="41.5" r="1.8" fill="#1a3ad0"/><circle cx="695.0" cy="61.5" r="2.3" fill="#30e0f8"/><circle cx="684.3" cy="60.0" r="2.0" fill="#1a3ad0"/><circle cx="669.9" cy="90.9" r="1.9" fill="#30e0f8"/><circle cx="674.7" cy="50.9" r="2.2" fill="#ecec30"/><circle cx="722.1" cy="67.8" r="1.6" fill="#1a3ad0"/><circle cx="741.7" cy="45.3" r="1.9" fill="#30e0f8"/><circle cx="738.2" cy="79.7" r="1.3" fill="#1a3ad0"/><circle cx="703.3" cy="55.5" r="2.2" fill="#1a3ad0"/><circle cx="677.6" cy="89.7" r="1.5" fill="#ecec30"/><circle cx="683.0" cy="39.9" r="1.7" fill="#ecec30"/><circle cx="737.7" cy="85.1" r="1.7" fill="#1a3ad0"/><circle cx="699.7" cy="47.8" r="1.5" fill="#1a3ad0"/><circle cx="724.8" cy="57.1" r="1.5" fill="#1a3ad0"/><circle cx="704.1" cy="69.8" r="2.0" fill="#1a3ad0"/><circle cx="685.4" cy="75.9" r="1.4" fill="#30e0f8"/><circle cx="729.5" cy="60.1" r="1.9" fill="#30e0f8"/><circle cx="719.4" cy="62.9" r="2.1" fill="#1a3ad0"/><circle cx="738.4" cy="65.6" r="1.5" fill="#30e0f8"/><circle cx="741.6" cy="76.7" r="2.2" fill="#1a3ad0"/><circle cx="707.4" cy="47.9" r="1.6" fill="#30e0f8"/><circle cx="727.9" cy="70.9" r="1.8" fill="#1a3ad0"/><circle cx="737.7" cy="64.9" r="2.2" fill="#30e0f8"/><circle cx="704.4" cy="65.7" r="2.2" fill="#30e0f8"/><circle cx="684.4" cy="43.1" r="1.9" fill="#30e0f8"/><circle cx="729.2" cy="54.3" r="2.0" fill="#1a3ad0"/><circle cx="728.2" cy="57.7" r="1.9" fill="#ecec30"/><circle cx="688.3" cy="77.4" r="1.7" fill="#30e0f8"/><circle cx="676.7" cy="69.2" r="2.1" fill="#ecec30"/><circle cx="681.9" cy="60.1" r="1.7" fill="#1a3ad0"/><circle cx="715.1" cy="43.8" r="1.8" fill="#1a3ad0"/><circle cx="684.3" cy="66.4" r="1.3" fill="#1a3ad0"/><circle cx="710.1" cy="60.3" r="1.5" fill="#1a3ad0"/><circle cx="693.5" cy="91.2" r="2.3" fill="#1a3ad0"/><circle cx="706.9" cy="62.4" r="2.4" fill="#1a3ad0"/><circle cx="683.0" cy="70.2" r="1.4" fill="#30e0f8"/><circle cx="686.0" cy="93.7" r="2.1" fill="#f0a020"/><circle cx="742.0" cy="43.3" r="2.1" fill="#30e0f8"/><circle cx="694.6" cy="81.1" r="2.0" fill="#1a3ad0"/><circle cx="689.9" cy="66.7" r="2.2" fill="#ecec30"/><circle cx="729.0" cy="66.4" r="1.7" fill="#30e0f8"/><circle cx="733.8" cy="52.4" r="1.9" fill="#30e0f8"/><circle cx="699.6" cy="40.4" r="2.0" fill="#1a3ad0"/><circle cx="685.1" cy="80.8" r="2.3" fill="#ecec30"/><circle cx="737.4" cy="79.1" r="1.3" fill="#ecec30"/><circle cx="728.5" cy="65.3" r="1.4" fill="#30e0f8"/><circle cx="712.4" cy="75.7" r="1.4" fill="#30e0f8"/><circle cx="679.1" cy="38.1" r="2.1" fill="#1a3ad0"/><circle cx="718.0" cy="52.7" r="1.2" fill="#30e0f8"/><circle cx="690.9" cy="77.4" r="1.2" fill="#1a3ad0"/><circle cx="676.1" cy="83.3" r="2.2" fill="#ecec30"/><circle cx="704.3" cy="75.7" r="1.5" fill="#ecec30"/><circle cx="704.9" cy="83.2" r="1.5" fill="#ecec30"/><circle cx="701.9" cy="43.2" r="1.9" fill="#ecec30"/><circle cx="712.6" cy="71.7" r="1.2" fill="#ecec30"/><circle cx="669.9" cy="57.0" r="1.9" fill="#1a3ad0"/><circle cx="689.5" cy="81.0" r="2.0" fill="#30e0f8"/><circle cx="728.2" cy="67.4" r="1.6" fill="#ecec30"/><circle cx="672.9" cy="82.9" r="1.3" fill="#ecec30"/><circle cx="743.9" cy="70.8" r="1.7" fill="#30e0f8"/><circle cx="678.1" cy="94.5" r="1.6" fill="#1a3ad0"/><circle cx="749.9" cy="44.7" r="1.8" fill="#ecec30"/><circle cx="688.1" cy="90.3" r="1.2" fill="#ecec30"/><circle cx="706.6" cy="38.0" r="2.2" fill="#30e0f8"/><circle cx="742.2" cy="40.5" r="1.6" fill="#30e0f8"/><circle cx="706.6" cy="54.8" r="1.4" fill="#ecec30"/><circle cx="671.3" cy="92.5" r="1.3" fill="#1a3ad0"/><circle cx="729.0" cy="67.9" r="1.8" fill="#30e0f8"/><circle cx="719.6" cy="42.4" r="1.8" fill="#30e0f8"/><circle cx="746.8" cy="38.1" r="2.0" fill="#1a3ad0"/><circle cx="743.9" cy="61.7" r="1.9" fill="#30e0f8"/><circle cx="699.9" cy="64.2" r="1.2" fill="#30e0f8"/><circle cx="692.8" cy="79.7" r="1.8" fill="#1a3ad0"/><circle cx="688.8" cy="58.1" r="2.1" fill="#30e0f8"/><circle cx="746.4" cy="64.8" r="1.6" fill="#1a3ad0"/><circle cx="672.5" cy="51.3" r="1.9" fill="#30e0f8"/><circle cx="687.6" cy="48.1" r="1.4" fill="#1a3ad0"/><circle cx="714.2" cy="57.1" r="1.2" fill="#ecec30"/><circle cx="728.0" cy="80.4" r="2.1" fill="#ecec30"/><circle cx="690.1" cy="50.2" r="1.4" fill="#1a3ad0"/><circle cx="717.5" cy="74.2" r="1.3" fill="#30e0f8"/><circle cx="730.7" cy="64.9" r="1.8" fill="#ecec30"/><circle cx="703.3" cy="49.1" r="2.0" fill="#ecec30"/><circle cx="726.5" cy="89.7" r="2.3" fill="#1a3ad0"/><circle cx="703.5" cy="46.0" r="2.2" fill="#1a3ad0"/><circle cx="702.4" cy="55.7" r="2.3" fill="#ecec30"/><circle cx="686.6" cy="88.9" r="1.6" fill="#ecec30"/><circle cx="685.5" cy="68.6" r="1.7" fill="#30e0f8"/><circle cx="744.5" cy="80.5" r="1.3" fill="#f0a020"/><circle cx="688.3" cy="49.3" r="2.4" fill="#1a3ad0"/><circle cx="742.2" cy="89.7" r="1.3" fill="#30e0f8"/><circle cx="684.2" cy="90.2" r="2.0" fill="#ecec30"/><circle cx="676.5" cy="88.8" r="1.6" fill="#ecec30"/><circle cx="721.5" cy="71.5" r="1.3" fill="#1a3ad0"/><circle cx="696.0" cy="47.4" r="1.3" fill="#ecec30"/><circle cx="693.7" cy="68.6" r="1.6" fill="#ecec30"/><circle cx="691.6" cy="65.4" r="1.7" fill="#30e0f8"/><circle cx="730.9" cy="65.2" r="1.4" fill="#1a3ad0"/><circle cx="737.4" cy="65.0" r="1.8" fill="#ecec30"/><circle cx="737.3" cy="59.1" r="1.6" fill="#ecec30"/><circle cx="668.6" cy="68.7" r="1.8" fill="#ecec30"/><circle cx="704.8" cy="64.6" r="1.4" fill="#30e0f8"/><circle cx="682.1" cy="82.9" r="1.3" fill="#1a3ad0"/><circle cx="739.8" cy="93.4" r="1.7" fill="#1a3ad0"/><circle cx="676.5" cy="80.7" r="2.1" fill="#ecec30"/><circle cx="733.1" cy="94.5" r="2.3" fill="#30e0f8"/><circle cx="690.8" cy="75.4" r="1.5" fill="#1a3ad0"/><circle cx="726.6" cy="39.9" r="2.3" fill="#30e0f8"/><circle cx="685.3" cy="77.8" r="1.9" fill="#30e0f8"/><circle cx="730.7" cy="77.4" r="1.4" fill="#1a3ad0"/><circle cx="711.8" cy="92.9" r="1.9" fill="#1a3ad0"/><circle cx="678.3" cy="85.9" r="1.8" fill="#ecec30"/><circle cx="722.8" cy="45.5" r="2.2" fill="#30e0f8"/><circle cx="738.4" cy="53.7" r="1.4" fill="#1a3ad0"/><circle cx="741.7" cy="62.6" r="1.8" fill="#ecec30"/><circle cx="725.2" cy="55.8" r="2.1" fill="#ecec30"/><circle cx="731.6" cy="54.6" r="2.3" fill="#1a3ad0"/><circle cx="727.7" cy="71.5" r="2.4" fill="#ecec30"/><circle cx="703.1" cy="50.0" r="1.6" fill="#1a3ad0"/><circle cx="721.1" cy="63.8" r="1.9" fill="#30e0f8"/><circle cx="718.5" cy="65.9" r="1.8" fill="#30e0f8"/><circle cx="736.1" cy="48.6" r="1.6" fill="#30e0f8"/><circle cx="737.5" cy="41.9" r="1.7" fill="#ecec30"/><circle cx="726.2" cy="49.2" r="1.4" fill="#1a3ad0"/><circle cx="713.9" cy="70.5" r="1.4" fill="#1a3ad0"/><circle cx="684.1" cy="92.1" r="1.9" fill="#ecec30"/><circle cx="691.5" cy="75.2" r="2.0" fill="#f0a020"/><circle cx="667.8" cy="62.7" r="1.3" fill="#ecec30"/><circle cx="732.7" cy="55.9" r="2.0" fill="#ecec30"/><circle cx="710.4" cy="57.2" r="1.9" fill="#1a3ad0"/><circle cx="697.6" cy="68.2" r="1.2" fill="#ecec30"/><circle cx="670.8" cy="46.7" r="2.2" fill="#1a3ad0"/><circle cx="715.5" cy="51.3" r="2.0" fill="#30e0f8"/><circle cx="672.8" cy="80.4" r="2.4" fill="#1a3ad0"/><circle cx="679.4" cy="54.0" r="2.2" fill="#1a3ad0"/><circle cx="735.0" cy="70.7" r="1.7" fill="#1a3ad0"/><circle cx="736.9" cy="90.7" r="1.9" fill="#30e0f8"/><circle cx="747.9" cy="52.9" r="1.3" fill="#ecec30"/><circle cx="682.5" cy="83.1" r="2.1" fill="#1a3ad0"/><circle cx="700.3" cy="87.6" r="2.0" fill="#30e0f8"/><circle cx="737.2" cy="40.2" r="1.6" fill="#1a3ad0"/><circle cx="728.6" cy="90.5" r="1.6" fill="#30e0f8"/><circle cx="709.5" cy="80.3" r="1.6" fill="#f0a020"/><circle cx="696.9" cy="72.7" r="2.3" fill="#1a3ad0"/><circle cx="667.7" cy="74.6" r="1.4" fill="#ecec30"/><circle cx="736.2" cy="94.0" r="1.7" fill="#30e0f8"/><circle cx="684.7" cy="74.8" r="2.1" fill="#1a3ad0"/><circle cx="714.9" cy="84.7" r="1.6" fill="#ecec30"/><circle cx="742.1" cy="75.4" r="1.9" fill="#ecec30"/><circle cx="703.5" cy="74.3" r="1.5" fill="#30e0f8"/><circle cx="748.3" cy="88.0" r="1.5" fill="#30e0f8"/><circle cx="721.4" cy="49.9" r="1.8" fill="#30e0f8"/><circle cx="698.4" cy="71.2" r="2.0" fill="#ecec30"/><circle cx="729.5" cy="93.6" r="1.9" fill="#1a3ad0"/><circle cx="745.5" cy="75.1" r="2.2" fill="#30e0f8"/><circle cx="670.3" cy="82.8" r="1.9" fill="#30e0f8"/><circle cx="693.3" cy="72.9" r="1.8" fill="#1a3ad0"/><circle cx="688.9" cy="90.7" r="1.8" fill="#f0a020"/><circle cx="729.8" cy="59.6" r="1.4" fill="#30e0f8"/><circle cx="738.3" cy="81.2" r="1.3" fill="#30e0f8"/><circle cx="735.1" cy="38.4" r="1.8" fill="#30e0f8"/><circle cx="719.0" cy="55.6" r="1.6" fill="#f0a020"/><circle cx="741.5" cy="60.5" r="2.4" fill="#1a3ad0"/><circle cx="673.5" cy="52.1" r="1.3" fill="#30e0f8"/><circle cx="712.5" cy="86.6" r="1.6" fill="#30e0f8"/><circle cx="730.0" cy="84.7" r="2.0" fill="#30e0f8"/><circle cx="747.6" cy="37.8" r="1.5" fill="#1a3ad0"/><circle cx="732.9" cy="49.1" r="2.1" fill="#1a3ad0"/><circle cx="681.6" cy="93.3" r="2.3" fill="#ecec30"/><circle cx="735.1" cy="49.5" r="1.7" fill="#30e0f8"/><circle cx="686.0" cy="40.4" r="1.9" fill="#30e0f8"/><circle cx="692.6" cy="85.1" r="1.7" fill="#1a3ad0"/><circle cx="708.8" cy="46.5" r="2.0" fill="#1a3ad0"/><circle cx="690.5" cy="88.2" r="2.2" fill="#1a3ad0"/><circle cx="718.9" cy="84.5" r="1.3" fill="#ecec30"/><circle cx="681.9" cy="73.4" r="1.3" fill="#1a3ad0"/><circle cx="725.1" cy="69.4" r="1.2" fill="#ecec30"/><circle cx="675.1" cy="51.9" r="1.3" fill="#ecec30"/><circle cx="747.5" cy="70.5" r="2.3" fill="#30e0f8"/><circle cx="689.7" cy="44.9" r="2.3" fill="#f0a020"/><circle cx="733.4" cy="60.9" r="1.3" fill="#30e0f8"/><circle cx="687.0" cy="61.5" r="1.3" fill="#30e0f8"/><circle cx="687.2" cy="84.3" r="2.3" fill="#f0a020"/><circle cx="706.4" cy="77.4" r="2.2" fill="#ecec30"/><circle cx="676.7" cy="88.0" r="1.3" fill="#30e0f8"/><circle cx="745.1" cy="55.7" r="1.5" fill="#1a3ad0"/><circle cx="669.9" cy="53.7" r="2.4" fill="#30e0f8"/><circle cx="726.5" cy="59.6" r="1.4" fill="#1a3ad0"/><circle cx="712.7" cy="49.3" r="1.6" fill="#30e0f8"/><circle cx="715.3" cy="68.8" r="1.4" fill="#30e0f8"/><circle cx="688.8" cy="76.9" r="2.0" fill="#1a3ad0"/><circle cx="718.2" cy="91.4" r="2.1" fill="#30e0f8"/><circle cx="723.8" cy="48.8" r="1.9" fill="#30e0f8"/><circle cx="733.1" cy="83.9" r="2.0" fill="#1a3ad0"/><circle cx="719.3" cy="91.1" r="1.4" fill="#1a3ad0"/><circle cx="747.9" cy="58.9" r="1.9" fill="#30e0f8"/><circle cx="700.4" cy="62.7" r="2.4" fill="#30e0f8"/><circle cx="711.6" cy="82.6" r="2.1" fill="#ecec30"/><circle cx="674.3" cy="92.7" r="1.5" fill="#30e0f8"/><circle cx="705.9" cy="43.2" r="2.2" fill="#1a3ad0"/><circle cx="726.2" cy="87.0" r="1.3" fill="#1a3ad0"/><circle cx="698.9" cy="65.9" r="1.6" fill="#30e0f8"/><circle cx="728.3" cy="70.9" r="2.1" fill="#ecec30"/><circle cx="673.8" cy="71.4" r="1.3" fill="#1a3ad0"/><circle cx="707.0" cy="67.3" r="1.7" fill="#30e0f8"/><circle cx="744.1" cy="82.3" r="1.2" fill="#1a3ad0"/><circle cx="746.7" cy="61.1" r="1.4" fill="#1a3ad0"/><circle cx="725.3" cy="47.8" r="2.0" fill="#ecec30"/><circle cx="732.9" cy="73.4" r="1.6" fill="#30e0f8"/><circle cx="720.4" cy="74.6" r="1.8" fill="#30e0f8"/><circle cx="729.5" cy="49.4" r="2.4" fill="#30e0f8"/><circle cx="674.5" cy="84.2" r="1.3" fill="#30e0f8"/><circle cx="678.9" cy="60.6" r="2.1" fill="#1a3ad0"/><circle cx="675.5" cy="41.9" r="2.2" fill="#1a3ad0"/><circle cx="688.0" cy="56.1" r="1.9" fill="#ecec30"/><circle cx="701.7" cy="91.6" r="1.8" fill="#ecec30"/><circle cx="738.6" cy="51.6" r="2.2" fill="#1a3ad0"/><circle cx="698.4" cy="56.7" r="2.2" fill="#1a3ad0"/><circle cx="704.1" cy="57.2" r="1.5" fill="#1a3ad0"/><circle cx="739.6" cy="45.2" r="1.9" fill="#30e0f8"/><circle cx="710.5" cy="66.3" r="1.4" fill="#ecec30"/><circle cx="735.2" cy="88.7" r="1.5" fill="#30e0f8"/><circle cx="742.7" cy="49.2" r="2.0" fill="#1a3ad0"/><circle cx="736.1" cy="70.3" r="2.4" fill="#1a3ad0"/><circle cx="732.9" cy="80.7" r="2.2" fill="#1a3ad0"/><circle cx="700.6" cy="38.3" r="2.3" fill="#30e0f8"/><circle cx="695.0" cy="55.0" r="1.7" fill="#30e0f8"/><circle cx="725.8" cy="48.8" r="1.9" fill="#30e0f8"/><circle cx="707.4" cy="69.9" r="1.4" fill="#ecec30"/><circle cx="742.7" cy="58.6" r="2.4" fill="#1a3ad0"/><circle cx="709.7" cy="76.1" r="1.4" fill="#ecec30"/><circle cx="695.0" cy="85.1" r="2.3" fill="#ecec30"/><circle cx="692.7" cy="88.7" r="1.7" fill="#1a3ad0"/><circle cx="678.3" cy="46.2" r="1.6" fill="#30e0f8"/><circle cx="711.9" cy="50.0" r="1.6" fill="#ecec30"/><circle cx="741.6" cy="42.3" r="2.2" fill="#ecec30"/><circle cx="676.6" cy="45.5" r="1.7" fill="#1a3ad0"/><circle cx="738.3" cy="53.8" r="2.2" fill="#ecec30"/><circle cx="674.1" cy="38.7" r="1.3" fill="#30e0f8"/><circle cx="711.1" cy="46.0" r="2.2" fill="#30e0f8"/><circle cx="705.0" cy="53.3" r="2.0" fill="#30e0f8"/><circle cx="672.4" cy="51.4" r="1.8" fill="#ecec30"/><circle cx="690.2" cy="75.1" r="2.3" fill="#1a3ad0"/><circle cx="696.6" cy="50.3" r="1.4" fill="#1a3ad0"/><circle cx="685.4" cy="87.9" r="1.7" fill="#ecec30"/><circle cx="746.6" cy="92.7" r="1.5" fill="#30e0f8"/><circle cx="694.6" cy="66.4" r="1.6" fill="#1a3ad0"/><circle cx="685.2" cy="51.4" r="1.9" fill="#30e0f8"/><circle cx="704.3" cy="64.5" r="2.0" fill="#30e0f8"/><circle cx="669.6" cy="85.7" r="1.6" fill="#ecec30"/><circle cx="746.5" cy="80.7" r="1.2" fill="#ecec30"/><circle cx="703.7" cy="62.7" r="1.3" fill="#ecec30"/><circle cx="715.1" cy="52.2" r="1.8" fill="#30e0f8"/><circle cx="691.8" cy="84.7" r="1.3" fill="#ecec30"/><circle cx="690.7" cy="40.7" r="2.3" fill="#ecec30"/><circle cx="745.0" cy="74.8" r="1.5" fill="#1a3ad0"/><circle cx="684.4" cy="58.9" r="1.2" fill="#30e0f8"/><circle cx="708.0" cy="61.9" r="2.2" fill="#30e0f8"/><circle cx="700.3" cy="72.0" r="1.7" fill="#ecec30"/><circle cx="719.9" cy="40.7" r="1.8" fill="#30e0f8"/><circle cx="696.4" cy="48.7" r="1.8" fill="#ecec30"/><circle cx="700.5" cy="57.7" r="1.5" fill="#ecec30"/><circle cx="709.2" cy="71.8" r="1.9" fill="#1a3ad0"/><circle cx="678.5" cy="77.3" r="1.3" fill="#ecec30"/><circle cx="739.7" cy="89.4" r="2.0" fill="#30e0f8"/><circle cx="748.1" cy="69.3" r="2.0" fill="#30e0f8"/><circle cx="738.4" cy="86.4" r="1.4" fill="#ecec30"/><circle cx="712.6" cy="71.2" r="2.2" fill="#ecec30"/><circle cx="737.5" cy="76.8" r="2.0" fill="#30e0f8"/><circle cx="683.8" cy="83.6" r="2.3" fill="#1a3ad0"/><circle cx="719.1" cy="53.5" r="1.9" fill="#1a3ad0"/><circle cx="705.9" cy="77.3" r="2.3" fill="#1a3ad0"/><circle cx="703.0" cy="62.7" r="1.9" fill="#30e0f8"/><circle cx="704.3" cy="54.4" r="1.2" fill="#ecec30"/><circle cx="688.8" cy="84.7" r="1.3" fill="#1a3ad0"/><circle cx="737.5" cy="59.0" r="1.9" fill="#30e0f8"/><circle cx="726.7" cy="55.8" r="1.2" fill="#30e0f8"/><circle cx="737.4" cy="55.3" r="1.6" fill="#30e0f8"/><circle cx="729.3" cy="59.1" r="1.6" fill="#30e0f8"/><circle cx="736.2" cy="81.9" r="2.1" fill="#1a3ad0"/><circle cx="745.2" cy="51.2" r="2.3" fill="#1a3ad0"/><circle cx="746.9" cy="45.1" r="2.3" fill="#30e0f8"/><circle cx="689.4" cy="82.1" r="2.1" fill="#ecec30"/><circle cx="709.5" cy="64.6" r="2.0" fill="#1a3ad0"/><circle cx="725.3" cy="54.3" r="1.3" fill="#1a3ad0"/><circle cx="689.0" cy="94.4" r="2.3" fill="#30e0f8"/><circle cx="729.4" cy="45.3" r="2.3" fill="#ecec30"/><circle cx="737.7" cy="94.1" r="2.1" fill="#f0a020"/><circle cx="730.5" cy="89.7" r="1.2" fill="#ecec30"/><circle cx="693.4" cy="38.5" r="1.9" fill="#ecec30"/><circle cx="690.3" cy="51.8" r="1.6" fill="#1a3ad0"/><circle cx="673.5" cy="52.2" r="2.3" fill="#1a3ad0"/><circle cx="719.7" cy="75.0" r="1.2" fill="#f0a020"/><circle cx="742.0" cy="56.6" r="1.7" fill="#30e0f8"/><circle cx="729.0" cy="54.9" r="1.5" fill="#ecec30"/><circle cx="727.3" cy="63.6" r="1.6" fill="#1a3ad0"/><circle cx="714.4" cy="58.9" r="2.2" fill="#30e0f8"/><circle cx="720.4" cy="83.3" r="2.2" fill="#ecec30"/><circle cx="745.1" cy="67.8" r="1.3" fill="#1a3ad0"/><circle cx="730.0" cy="87.0" r="1.8" fill="#30e0f8"/><circle cx="712.1" cy="44.3" r="2.4" fill="#30e0f8"/><circle cx="721.2" cy="57.7" r="2.1" fill="#1a3ad0"/><circle cx="744.0" cy="87.6" r="2.1" fill="#ecec30"/><circle cx="734.4" cy="59.1" r="1.7" fill="#30e0f8"/><circle cx="684.2" cy="37.8" r="2.1" fill="#30e0f8"/><circle cx="671.2" cy="41.3" r="1.4" fill="#ecec30"/><circle cx="727.9" cy="48.5" r="1.9" fill="#30e0f8"/><circle cx="696.4" cy="86.3" r="1.8" fill="#ecec30"/><circle cx="722.5" cy="60.7" r="2.3" fill="#1a3ad0"/><circle cx="729.5" cy="68.7" r="1.9" fill="#ecec30"/><circle cx="692.0" cy="41.9" r="2.3" fill="#30e0f8"/><circle cx="675.8" cy="93.5" r="2.4" fill="#ecec30"/><circle cx="731.0" cy="53.2" r="2.3" fill="#1a3ad0"/><circle cx="748.3" cy="83.5" r="1.9" fill="#30e0f8"/><circle cx="714.9" cy="38.3" r="2.0" fill="#1a3ad0"/><circle cx="702.7" cy="89.9" r="2.0" fill="#30e0f8"/><circle cx="680.2" cy="67.6" r="2.3" fill="#30e0f8"/><circle cx="741.9" cy="52.7" r="2.4" fill="#ecec30"/><circle cx="675.1" cy="41.8" r="2.1" fill="#1a3ad0"/><circle cx="734.2" cy="40.0" r="2.2" fill="#30e0f8"/><circle cx="725.5" cy="86.8" r="1.9" fill="#f0a020"/><circle cx="738.9" cy="68.7" r="1.5" fill="#1a3ad0"/><circle cx="744.4" cy="56.9" r="2.2" fill="#ecec30"/><circle cx="724.1" cy="82.7" r="1.8" fill="#ecec30"/><circle cx="674.0" cy="49.1" r="1.8" fill="#1a3ad0"/><circle cx="711.0" cy="41.8" r="1.3" fill="#30e0f8"/><circle cx="699.4" cy="39.2" r="1.4" fill="#ecec30"/><circle cx="690.3" cy="67.0" r="2.4" fill="#30e0f8"/><circle cx="725.6" cy="40.7" r="2.3" fill="#ecec30"/><circle cx="738.0" cy="58.7" r="1.5" fill="#1a3ad0"/><circle cx="689.5" cy="76.9" r="1.5" fill="#30e0f8"/><circle cx="710.4" cy="73.4" r="1.8" fill="#1a3ad0"/><circle cx="719.3" cy="92.1" r="1.4" fill="#ecec30"/><circle cx="709.4" cy="71.6" r="2.3" fill="#ecec30"/><circle cx="684.3" cy="66.6" r="1.4" fill="#ecec30"/><circle cx="705.1" cy="63.5" r="2.1" fill="#ecec30"/><circle cx="748.8" cy="92.8" r="1.6" fill="#1a3ad0"/><circle cx="745.8" cy="42.5" r="1.3" fill="#1a3ad0"/><circle cx="746.7" cy="66.5" r="1.3" fill="#ecec30"/><circle cx="740.4" cy="94.2" r="2.3" fill="#30e0f8"/><circle cx="714.4" cy="55.4" r="1.6" fill="#1a3ad0"/><circle cx="680.0" cy="58.7" r="1.2" fill="#1a3ad0"/><circle cx="741.5" cy="85.9" r="1.6" fill="#f0a020"/><circle cx="704.8" cy="68.6" r="1.6" fill="#30e0f8"/><circle cx="696.4" cy="37.9" r="2.3" fill="#ecec30"/><circle cx="682.1" cy="73.3" r="1.5" fill="#1a3ad0"/><circle cx="719.1" cy="43.6" r="1.9" fill="#ecec30"/><circle cx="690.7" cy="81.0" r="1.9" fill="#30e0f8"/><circle cx="716.3" cy="70.0" r="2.0" fill="#30e0f8"/><circle cx="690.0" cy="74.7" r="1.8" fill="#30e0f8"/><circle cx="741.4" cy="55.6" r="1.9" fill="#30e0f8"/><circle cx="717.3" cy="48.2" r="1.3" fill="#30e0f8"/><circle cx="711.6" cy="63.4" r="2.2" fill="#30e0f8"/><circle cx="706.5" cy="66.4" r="2.2" fill="#1a3ad0"/><circle cx="686.5" cy="53.5" r="1.5" fill="#ecec30"/><circle cx="691.5" cy="54.1" r="1.6" fill="#30e0f8"/><circle cx="698.6" cy="76.5" r="2.1" fill="#30e0f8"/><circle cx="700.5" cy="48.7" r="2.0" fill="#30e0f8"/><circle cx="696.6" cy="75.6" r="2.1" fill="#1a3ad0"/><circle cx="741.6" cy="92.9" r="2.0" fill="#1a3ad0"/><circle cx="732.0" cy="45.8" r="1.4" fill="#30e0f8"/><circle cx="685.6" cy="39.3" r="2.2" fill="#ecec30"/><circle cx="721.1" cy="56.7" r="1.7" fill="#1a3ad0"/><circle cx="698.3" cy="52.5" r="2.0" fill="#30e0f8"/><circle cx="689.0" cy="47.5" r="2.1" fill="#ecec30"/><circle cx="730.0" cy="62.9" r="2.0" fill="#30e0f8"/><circle cx="695.8" cy="47.2" r="2.1" fill="#ecec30"/><circle cx="729.4" cy="55.0" r="1.3" fill="#30e0f8"/><circle cx="716.9" cy="63.3" r="2.2" fill="#30e0f8"/><circle cx="672.0" cy="92.6" r="2.4" fill="#1a3ad0"/><circle cx="748.7" cy="50.3" r="1.4" fill="#ecec30"/><circle cx="734.1" cy="58.2" r="1.6" fill="#30e0f8"/><circle cx="694.8" cy="61.9" r="1.6" fill="#30e0f8"/><circle cx="713.8" cy="70.0" r="1.8" fill="#f0a020"/><circle cx="702.3" cy="69.3" r="2.1" fill="#ecec30"/><circle cx="676.5" cy="47.8" r="1.7" fill="#1a3ad0"/><circle cx="737.5" cy="71.8" r="2.3" fill="#30e0f8"/><circle cx="735.3" cy="54.4" r="1.8" fill="#1a3ad0"/><circle cx="686.6" cy="71.6" r="1.7" fill="#1a3ad0"/><circle cx="727.1" cy="52.2" r="2.1" fill="#1a3ad0"/><circle cx="683.6" cy="89.0" r="2.3" fill="#30e0f8"/><circle cx="711.5" cy="65.5" r="1.3" fill="#1a3ad0"/><circle cx="746.1" cy="50.2" r="2.3" fill="#1a3ad0"/><circle cx="727.9" cy="52.5" r="2.0" fill="#ecec30"/><circle cx="723.7" cy="50.5" r="1.8" fill="#1a3ad0"/><circle cx="672.6" cy="83.5" r="1.4" fill="#30e0f8"/><circle cx="715.4" cy="71.4" r="1.7" fill="#1a3ad0"/><circle cx="732.8" cy="63.6" r="1.5" fill="#30e0f8"/><circle cx="749.8" cy="75.7" r="1.2" fill="#30e0f8"/><circle cx="697.0" cy="37.9" r="1.4" fill="#ecec30"/><circle cx="687.8" cy="55.1" r="1.5" fill="#1a3ad0"/><circle cx="709.1" cy="45.4" r="2.3" fill="#30e0f8"/><circle cx="727.0" cy="92.0" r="2.0" fill="#1a3ad0"/><circle cx="687.5" cy="90.9" r="2.1" fill="#ecec30"/><circle cx="731.5" cy="45.3" r="2.2" fill="#1a3ad0"/><circle cx="735.1" cy="62.4" r="1.2" fill="#1a3ad0"/><circle cx="733.6" cy="77.2" r="2.0" fill="#ecec30"/><circle cx="734.1" cy="38.1" r="2.4" fill="#30e0f8"/><circle cx="739.2" cy="88.0" r="1.9" fill="#ecec30"/><circle cx="677.1" cy="82.8" r="1.7" fill="#30e0f8"/><circle cx="671.8" cy="47.9" r="2.3" fill="#ecec30"/><circle cx="706.5" cy="86.9" r="1.5" fill="#1a3ad0"/><circle cx="687.2" cy="54.1" r="1.6" fill="#f0a020"/><circle cx="694.0" cy="76.4" r="2.3" fill="#ecec30"/><circle cx="724.9" cy="85.0" r="1.7" fill="#ecec30"/><circle cx="714.4" cy="65.8" r="2.2" fill="#1a3ad0"/><circle cx="717.9" cy="61.1" r="1.8" fill="#1a3ad0"/><circle cx="726.0" cy="53.0" r="1.8" fill="#1a3ad0"/><circle cx="708.5" cy="38.1" r="1.6" fill="#1a3ad0"/><circle cx="726.0" cy="59.4" r="1.5" fill="#1a3ad0"/><circle cx="683.8" cy="81.2" r="2.4" fill="#1a3ad0"/><circle cx="691.4" cy="48.0" r="1.8" fill="#1a3ad0"/><circle cx="710.1" cy="82.1" r="1.9" fill="#30e0f8"/><circle cx="672.1" cy="90.4" r="1.5" fill="#1a3ad0"/><circle cx="682.0" cy="71.1" r="1.6" fill="#30e0f8"/><circle cx="688.8" cy="38.4" r="2.1" fill="#30e0f8"/><circle cx="677.6" cy="51.4" r="2.1" fill="#30e0f8"/><circle cx="678.9" cy="93.9" r="2.1" fill="#30e0f8"/><circle cx="694.1" cy="92.7" r="2.0" fill="#ecec30"/><circle cx="748.5" cy="85.2" r="1.4" fill="#1a3ad0"/><circle cx="712.4" cy="64.8" r="1.8" fill="#ecec30"/><circle cx="703.6" cy="79.0" r="2.2" fill="#ecec30"/><circle cx="737.3" cy="87.1" r="1.4" fill="#30e0f8"/><circle cx="702.4" cy="85.5" r="1.9" fill="#ecec30"/><circle cx="685.1" cy="84.6" r="1.6" fill="#ecec30"/><circle cx="734.9" cy="42.8" r="1.7" fill="#1a3ad0"/><circle cx="704.3" cy="44.1" r="2.1" fill="#ecec30"/><circle cx="740.4" cy="90.1" r="1.3" fill="#f0a020"/><circle cx="697.8" cy="63.2" r="2.1" fill="#1a3ad0"/><circle cx="690.6" cy="82.1" r="1.5" fill="#30e0f8"/><circle cx="695.8" cy="63.3" r="1.2" fill="#1a3ad0"/><circle cx="702.4" cy="50.7" r="2.1" fill="#1a3ad0"/><circle cx="728.8" cy="61.1" r="2.1" fill="#1a3ad0"/><circle cx="689.3" cy="43.4" r="2.3" fill="#30e0f8"/><circle cx="710.4" cy="57.6" r="1.2" fill="#1a3ad0"/><circle cx="741.0" cy="83.9" r="2.0" fill="#1a3ad0"/><circle cx="683.5" cy="80.2" r="2.0" fill="#ecec30"/><circle cx="711.7" cy="42.4" r="2.0" fill="#30e0f8"/><circle cx="671.5" cy="39.8" r="2.1" fill="#1a3ad0"/><circle cx="726.1" cy="53.2" r="2.2" fill="#ecec30"/><circle cx="707.4" cy="66.5" r="1.4" fill="#30e0f8"/><circle cx="705.5" cy="67.3" r="2.0" fill="#30e0f8"/><circle cx="690.0" cy="64.7" r="1.3" fill="#ecec30"/><circle cx="732.4" cy="92.3" r="1.7" fill="#30e0f8"/><circle cx="698.1" cy="63.5" r="1.5" fill="#ecec30"/><circle cx="745.7" cy="58.6" r="2.0" fill="#1a3ad0"/><circle cx="668.1" cy="57.8" r="2.2" fill="#30e0f8"/><circle cx="668.7" cy="61.5" r="2.4" fill="#30e0f8"/><circle cx="697.0" cy="51.5" r="1.7" fill="#ecec30"/><circle cx="679.7" cy="88.9" r="2.1" fill="#30e0f8"/><circle cx="686.7" cy="92.1" r="2.1" fill="#ecec30"/><circle cx="717.2" cy="40.8" r="1.8" fill="#1a3ad0"/><circle cx="695.6" cy="41.0" r="1.6" fill="#f0a020"/><circle cx="742.0" cy="58.6" r="1.7" fill="#1a3ad0"/><circle cx="735.7" cy="89.1" r="1.5" fill="#30e0f8"/><circle cx="711.1" cy="52.6" r="1.2" fill="#ecec30"/><circle cx="669.2" cy="90.7" r="1.5" fill="#30e0f8"/><circle cx="718.1" cy="78.7" r="1.7" fill="#ecec30"/><circle cx="734.8" cy="55.8" r="1.3" fill="#1a3ad0"/><circle cx="743.1" cy="53.5" r="1.9" fill="#1a3ad0"/><circle cx="678.4" cy="62.0" r="1.5" fill="#30e0f8"/><circle cx="677.8" cy="93.7" r="1.3" fill="#1a3ad0"/><circle cx="706.6" cy="72.3" r="2.2" fill="#30e0f8"/><circle cx="676.6" cy="79.0" r="2.3" fill="#ecec30"/><circle cx="719.2" cy="77.0" r="2.3" fill="#1a3ad0"/><circle cx="691.5" cy="49.6" r="2.1" fill="#ecec30"/><circle cx="694.2" cy="64.5" r="1.5" fill="#30e0f8"/><circle cx="677.5" cy="60.8" r="2.0" fill="#30e0f8"/><circle cx="725.6" cy="48.1" r="2.4" fill="#1a3ad0"/><circle cx="726.1" cy="53.3" r="1.9" fill="#30e0f8"/><circle cx="719.5" cy="58.1" r="1.7" fill="#30e0f8"/><circle cx="699.3" cy="56.2" r="2.2" fill="#30e0f8"/><circle cx="691.7" cy="42.0" r="2.1" fill="#1a3ad0"/><circle cx="703.4" cy="41.6" r="1.8" fill="#30e0f8"/><circle cx="740.3" cy="59.6" r="1.8" fill="#f0a020"/><circle cx="721.3" cy="50.1" r="1.3" fill="#30e0f8"/><circle cx="738.5" cy="47.9" r="2.2" fill="#30e0f8"/><circle cx="735.7" cy="86.4" r="1.3" fill="#ecec30"/><circle cx="701.4" cy="62.8" r="1.9" fill="#30e0f8"/><circle cx="731.8" cy="71.1" r="1.8" fill="#1a3ad0"/><circle cx="675.5" cy="86.3" r="1.6" fill="#1a3ad0"/><circle cx="732.9" cy="56.6" r="2.1" fill="#ecec30"/><circle cx="709.7" cy="73.9" r="1.9" fill="#ecec30"/><circle cx="716.4" cy="88.9" r="2.2" fill="#ecec30"/><circle cx="685.3" cy="54.2" r="2.3" fill="#1a3ad0"/><circle cx="675.5" cy="54.1" r="2.1" fill="#ecec30"/><circle cx="722.1" cy="44.6" r="2.1" fill="#ecec30"/><circle cx="667.7" cy="42.3" r="2.2" fill="#1a3ad0"/><circle cx="696.4" cy="62.1" r="2.3" fill="#30e0f8"/><circle cx="671.0" cy="48.7" r="2.0" fill="#ecec30"/><circle cx="678.6" cy="62.5" r="1.3" fill="#30e0f8"/><circle cx="668.6" cy="46.8" r="1.5" fill="#30e0f8"/><circle cx="714.5" cy="57.8" r="1.8" fill="#1a3ad0"/><circle cx="731.3" cy="78.4" r="1.8" fill="#30e0f8"/><circle cx="744.6" cy="60.4" r="2.3" fill="#30e0f8"/><circle cx="732.7" cy="64.7" r="2.1" fill="#f0a020"/><circle cx="691.9" cy="60.5" r="1.6" fill="#30e0f8"/><circle cx="696.5" cy="68.3" r="1.5" fill="#1a3ad0"/><circle cx="748.9" cy="51.9" r="1.2" fill="#f0a020"/><circle cx="693.0" cy="67.0" r="2.3" fill="#ecec30"/><circle cx="746.5" cy="54.6" r="2.3" fill="#1a3ad0"/><circle cx="733.1" cy="67.2" r="1.2" fill="#1a3ad0"/><circle cx="724.3" cy="76.7" r="1.6" fill="#ecec30"/><circle cx="690.4" cy="58.8" r="1.9" fill="#ecec30"/><circle cx="701.8" cy="56.9" r="2.0" fill="#1a3ad0"/><circle cx="744.7" cy="48.2" r="2.0" fill="#30e0f8"/><circle cx="679.9" cy="44.5" r="2.2" fill="#1a3ad0"/><circle cx="698.8" cy="37.8" r="1.8" fill="#ecec30"/><circle cx="725.0" cy="53.3" r="1.5" fill="#ecec30"/><circle cx="669.5" cy="72.4" r="2.0" fill="#ecec30"/><circle cx="736.6" cy="55.9" r="1.6" fill="#ecec30"/><circle cx="706.8" cy="40.4" r="1.6" fill="#ecec30"/><circle cx="676.8" cy="85.1" r="1.8" fill="#30e0f8"/><circle cx="673.7" cy="79.1" r="2.3" fill="#ecec30"/><circle cx="720.9" cy="51.4" r="1.9" fill="#30e0f8"/><circle cx="696.8" cy="82.9" r="1.4" fill="#ecec30"/><circle cx="671.3" cy="72.6" r="1.4" fill="#ecec30"/><circle cx="671.6" cy="81.7" r="2.2" fill="#ecec30"/><circle cx="741.2" cy="84.2" r="2.3" fill="#1a3ad0"/><circle cx="691.6" cy="43.4" r="1.9" fill="#1a3ad0"/><circle cx="693.0" cy="91.5" r="1.7" fill="#1a3ad0"/><circle cx="738.6" cy="72.0" r="1.8" fill="#ecec30"/><circle cx="685.8" cy="52.2" r="1.7" fill="#30e0f8"/><circle cx="695.0" cy="65.0" r="1.9" fill="#ecec30"/><circle cx="731.9" cy="91.0" r="2.3" fill="#30e0f8"/><circle cx="697.9" cy="64.6" r="2.4" fill="#ecec30"/><circle cx="678.3" cy="50.5" r="1.5" fill="#30e0f8"/><circle cx="673.1" cy="58.7" r="1.7" fill="#ecec30"/><circle cx="686.9" cy="57.5" r="1.4" fill="#ecec30"/><circle cx="709.4" cy="50.7" r="2.3" fill="#1a3ad0"/><circle cx="740.6" cy="59.3" r="1.3" fill="#30e0f8"/><circle cx="674.2" cy="63.6" r="1.2" fill="#f0a020"/><circle cx="715.9" cy="52.6" r="2.2" fill="#30e0f8"/><circle cx="740.3" cy="82.1" r="2.0" fill="#1a3ad0"/><circle cx="713.7" cy="54.9" r="1.8" fill="#1a3ad0"/><circle cx="686.7" cy="86.4" r="2.0" fill="#1a3ad0"/><circle cx="704.2" cy="60.1" r="1.4" fill="#ecec30"/><circle cx="685.8" cy="61.1" r="2.2" fill="#1a3ad0"/><circle cx="724.5" cy="73.5" r="1.4" fill="#30e0f8"/><circle cx="707.8" cy="93.1" r="1.7" fill="#ecec30"/><circle cx="721.1" cy="85.9" r="1.8" fill="#ecec30"/><circle cx="742.1" cy="62.5" r="2.2" fill="#1a3ad0"/><circle cx="705.9" cy="80.2" r="1.3" fill="#ecec30"/><circle cx="681.6" cy="57.2" r="1.5" fill="#1a3ad0"/><circle cx="721.2" cy="43.0" r="1.3" fill="#1a3ad0"/><circle cx="668.8" cy="67.0" r="2.1" fill="#1a3ad0"/><circle cx="747.5" cy="55.2" r="2.0" fill="#30e0f8"/><circle cx="683.1" cy="82.3" r="2.0" fill="#1a3ad0"/><circle cx="742.2" cy="74.7" r="2.0" fill="#30e0f8"/><circle cx="701.5" cy="44.0" r="1.6" fill="#ecec30"/><circle cx="669.4" cy="68.8" r="1.3" fill="#1a3ad0"/><circle cx="704.1" cy="77.8" r="1.6" fill="#1a3ad0"/><circle cx="707.5" cy="68.7" r="1.4" fill="#1a3ad0"/><circle cx="683.0" cy="80.6" r="2.2" fill="#30e0f8"/><circle cx="733.8" cy="41.2" r="2.2" fill="#ecec30"/><circle cx="720.8" cy="86.3" r="2.2" fill="#1a3ad0"/><circle cx="700.3" cy="82.5" r="1.6" fill="#30e0f8"/><circle cx="739.6" cy="74.6" r="2.1" fill="#30e0f8"/><circle cx="703.8" cy="51.5" r="2.4" fill="#30e0f8"/><circle cx="739.1" cy="83.1" r="1.6" fill="#1a3ad0"/><circle cx="718.8" cy="70.9" r="1.4" fill="#ecec30"/><circle cx="721.3" cy="76.8" r="1.2" fill="#1a3ad0"/><circle cx="669.7" cy="38.7" r="2.4" fill="#1a3ad0"/><circle cx="715.2" cy="50.3" r="1.2" fill="#1a3ad0"/><circle cx="668.8" cy="45.4" r="1.4" fill="#ecec30"/><circle cx="686.5" cy="73.3" r="1.4" fill="#1a3ad0"/><circle cx="731.2" cy="53.7" r="1.5" fill="#30e0f8"/><circle cx="725.0" cy="38.3" r="2.2" fill="#ecec30"/><circle cx="691.8" cy="73.9" r="1.3" fill="#1a3ad0"/><circle cx="702.6" cy="63.8" r="1.8" fill="#1a3ad0"/><circle cx="702.5" cy="58.1" r="2.3" fill="#30e0f8"/><circle cx="701.2" cy="55.0" r="2.1" fill="#30e0f8"/><circle cx="709.8" cy="72.6" r="2.1" fill="#ecec30"/><circle cx="715.3" cy="86.5" r="1.3" fill="#ecec30"/><circle cx="738.9" cy="71.0" r="2.1" fill="#f0a020"/><circle cx="718.4" cy="60.9" r="1.3" fill="#1a3ad0"/><circle cx="686.6" cy="55.9" r="1.9" fill="#ecec30"/><circle cx="746.6" cy="69.8" r="1.2" fill="#30e0f8"/><circle cx="724.9" cy="68.1" r="1.6" fill="#30e0f8"/><circle cx="720.7" cy="66.8" r="1.7" fill="#30e0f8"/><circle cx="735.6" cy="87.1" r="1.8" fill="#30e0f8"/><circle cx="744.5" cy="66.0" r="1.3" fill="#30e0f8"/><circle cx="742.1" cy="72.9" r="1.2" fill="#1a3ad0"/><circle cx="737.2" cy="82.2" r="1.7" fill="#30e0f8"/><circle cx="719.5" cy="40.2" r="1.3" fill="#1a3ad0"/><circle cx="703.1" cy="55.7" r="1.5" fill="#1a3ad0"/><circle cx="696.0" cy="59.8" r="2.1" fill="#ecec30"/><circle cx="738.3" cy="59.3" r="1.6" fill="#f0a020"/><circle cx="689.6" cy="83.0" r="1.3" fill="#1a3ad0"/><circle cx="749.3" cy="64.5" r="2.1" fill="#ecec30"/><circle cx="740.9" cy="58.8" r="1.4" fill="#f0a020"/><circle cx="740.8" cy="61.3" r="1.2" fill="#ecec30"/><circle cx="673.3" cy="59.9" r="2.0" fill="#1a3ad0"/><circle cx="749.7" cy="54.2" r="1.9" fill="#30e0f8"/><circle cx="718.6" cy="81.9" r="2.2" fill="#ecec30"/><circle cx="680.8" cy="76.5" r="1.4" fill="#30e0f8"/><circle cx="686.5" cy="91.6" r="1.8" fill="#30e0f8"/><circle cx="708.9" cy="86.0" r="1.5" fill="#30e0f8"/><circle cx="744.9" cy="86.0" r="2.1" fill="#30e0f8"/><circle cx="726.3" cy="47.0" r="1.7" fill="#f0a020"/><circle cx="672.7" cy="87.9" r="1.7" fill="#1a3ad0"/><circle cx="675.5" cy="67.4" r="2.2" fill="#30e0f8"/><circle cx="746.1" cy="88.1" r="1.7" fill="#30e0f8"/><circle cx="744.9" cy="50.7" r="1.9" fill="#ecec30"/><circle cx="698.0" cy="70.0" r="1.5" fill="#1a3ad0"/><circle cx="669.4" cy="62.2" r="2.2" fill="#1a3ad0"/><circle cx="688.7" cy="48.6" r="1.4" fill="#30e0f8"/><circle cx="736.7" cy="67.8" r="2.0" fill="#1a3ad0"/><circle cx="749.7" cy="55.2" r="1.9" fill="#30e0f8"/><circle cx="745.9" cy="93.9" r="1.7" fill="#1a3ad0"/><circle cx="734.1" cy="61.5" r="1.9" fill="#ecec30"/><circle cx="700.3" cy="63.0" r="2.1" fill="#30e0f8"/><circle cx="741.1" cy="42.5" r="1.2" fill="#30e0f8"/><circle cx="712.6" cy="84.1" r="1.6" fill="#ecec30"/><circle cx="712.2" cy="55.3" r="1.8" fill="#30e0f8"/><circle cx="720.8" cy="39.6" r="2.1" fill="#30e0f8"/><circle cx="671.6" cy="94.0" r="1.8" fill="#1a3ad0"/><circle cx="726.2" cy="65.5" r="1.8" fill="#ecec30"/><circle cx="749.1" cy="83.5" r="1.6" fill="#ecec30"/><circle cx="742.5" cy="90.1" r="2.1" fill="#ecec30"/><circle cx="696.4" cy="40.9" r="2.3" fill="#ecec30"/><circle cx="674.7" cy="66.4" r="1.7" fill="#1a3ad0"/><circle cx="713.8" cy="67.3" r="1.8" fill="#1a3ad0"/><circle cx="692.7" cy="83.3" r="2.4" fill="#1a3ad0"/><circle cx="677.4" cy="42.3" r="2.1" fill="#30e0f8"/><circle cx="726.2" cy="60.8" r="1.4" fill="#30e0f8"/><circle cx="694.7" cy="54.1" r="1.3" fill="#1a3ad0"/><circle cx="685.3" cy="68.5" r="1.6" fill="#30e0f8"/><circle cx="718.0" cy="56.5" r="1.2" fill="#f0a020"/><circle cx="731.2" cy="88.9" r="2.0" fill="#30e0f8"/><circle cx="748.5" cy="46.0" r="1.8" fill="#1a3ad0"/><circle cx="727.2" cy="68.2" r="1.7" fill="#ecec30"/><circle cx="705.6" cy="87.6" r="2.0" fill="#1a3ad0"/><circle cx="675.3" cy="85.7" r="2.2" fill="#1a3ad0"/><circle cx="694.0" cy="73.8" r="2.3" fill="#ecec30"/><circle cx="706.6" cy="66.8" r="1.5" fill="#ecec30"/><circle cx="745.1" cy="57.2" r="1.4" fill="#1a3ad0"/><circle cx="726.8" cy="89.1" r="2.3" fill="#30e0f8"/><circle cx="686.1" cy="88.1" r="1.5" fill="#30e0f8"/><circle cx="675.3" cy="61.8" r="1.8" fill="#ecec30"/><circle cx="727.0" cy="50.7" r="1.6" fill="#1a3ad0"/><circle cx="681.0" cy="62.8" r="1.5" fill="#30e0f8"/><circle cx="678.9" cy="79.2" r="2.2" fill="#1a3ad0"/><circle cx="718.3" cy="50.6" r="2.2" fill="#1a3ad0"/><circle cx="669.5" cy="80.6" r="2.0" fill="#30e0f8"/><circle cx="684.2" cy="79.3" r="1.9" fill="#1a3ad0"/><circle cx="747.1" cy="71.6" r="1.5" fill="#1a3ad0"/><circle cx="701.3" cy="84.9" r="1.7" fill="#f0a020"/><circle cx="716.0" cy="57.9" r="1.6" fill="#ecec30"/><circle cx="745.4" cy="58.9" r="1.9" fill="#ecec30"/><circle cx="685.8" cy="44.1" r="2.2" fill="#ecec30"/><circle cx="697.9" cy="53.8" r="1.9" fill="#ecec30"/><circle cx="689.9" cy="68.0" r="1.2" fill="#30e0f8"/><circle cx="694.2" cy="84.4" r="2.1" fill="#1a3ad0"/><circle cx="673.9" cy="65.5" r="2.0" fill="#ecec30"/><circle cx="668.1" cy="44.7" r="2.3" fill="#ecec30"/><circle cx="709.0" cy="86.7" r="2.4" fill="#30e0f8"/><circle cx="674.1" cy="87.1" r="1.5" fill="#1a3ad0"/><circle cx="744.7" cy="78.9" r="1.5" fill="#1a3ad0"/><circle cx="704.0" cy="56.0" r="1.4" fill="#1a3ad0"/><circle cx="689.4" cy="54.7" r="1.6" fill="#1a3ad0"/><circle cx="746.0" cy="85.3" r="2.3" fill="#30e0f8"/><circle cx="744.9" cy="43.0" r="1.6" fill="#1a3ad0"/><circle cx="711.5" cy="94.4" r="2.0" fill="#1a3ad0"/><circle cx="732.9" cy="52.7" r="2.2" fill="#30e0f8"/><circle cx="675.4" cy="75.1" r="2.1" fill="#ecec30"/><circle cx="680.0" cy="75.4" r="1.2" fill="#1a3ad0"/><circle cx="703.2" cy="57.4" r="1.5" fill="#ecec30"/><circle cx="749.5" cy="61.3" r="1.6" fill="#ecec30"/><circle cx="683.5" cy="87.5" r="1.9" fill="#ecec30"/><circle cx="687.1" cy="84.2" r="2.1" fill="#1a3ad0"/><circle cx="733.6" cy="47.6" r="1.3" fill="#f0a020"/><circle cx="734.4" cy="90.1" r="1.2" fill="#1a3ad0"/><circle cx="734.4" cy="57.6" r="2.2" fill="#30e0f8"/><circle cx="742.6" cy="81.6" r="2.3" fill="#ecec30"/></g></g>
<g clip-path="url(#cl1)"><rect x="784.7441860465117" y="42.76744186046511" width="74.32558139534876" height="51.44186046511628" fill="#2a90f2"/><g filter="url(#sm)"><circle cx="798.4" cy="59.8" r="1.8" fill="#1a60ec"/><circle cx="813.6" cy="80.3" r="0.9" fill="#1a60ec"/><circle cx="789.4" cy="88.5" r="1.3" fill="#1a60ec"/><circle cx="805.2" cy="75.3" r="1.6" fill="#1a60ec"/><circle cx="824.1" cy="90.0" r="1.7" fill="#1a60ec"/><circle cx="814.2" cy="92.1" r="1.1" fill="#48d0fa"/><circle cx="840.8" cy="52.7" r="1.6" fill="#48d0fa"/><circle cx="800.0" cy="80.8" r="1.1" fill="#48d0fa"/><circle cx="847.2" cy="62.4" r="1.7" fill="#1a60ec"/><circle cx="794.4" cy="82.4" r="1.1" fill="#48d0fa"/><circle cx="814.7" cy="59.9" r="1.3" fill="#48d0fa"/><circle cx="816.9" cy="76.4" r="1.0" fill="#1a60ec"/><circle cx="821.4" cy="85.8" r="1.1" fill="#1a60ec"/><circle cx="808.1" cy="54.7" r="1.7" fill="#48d0fa"/><circle cx="819.6" cy="57.6" r="0.9" fill="#1a60ec"/><circle cx="836.3" cy="79.9" r="1.3" fill="#1a60ec"/><circle cx="840.5" cy="77.8" r="1.7" fill="#48d0fa"/><circle cx="803.8" cy="90.9" r="1.2" fill="#48d0fa"/><circle cx="834.7" cy="59.2" r="1.6" fill="#48d0fa"/><circle cx="843.5" cy="73.1" r="1.7" fill="#48d0fa"/><circle cx="791.0" cy="65.9" r="1.4" fill="#1a60ec"/><circle cx="841.6" cy="46.4" r="1.3" fill="#48d0fa"/><circle cx="833.8" cy="87.4" r="1.0" fill="#48d0fa"/><circle cx="811.6" cy="66.8" r="1.7" fill="#1a60ec"/><circle cx="812.0" cy="61.8" r="1.4" fill="#1a60ec"/><circle cx="843.5" cy="50.0" r="1.2" fill="#48d0fa"/><circle cx="791.1" cy="63.6" r="1.5" fill="#48d0fa"/><circle cx="847.6" cy="80.6" r="1.2" fill="#1a60ec"/><circle cx="847.6" cy="46.0" r="1.7" fill="#1a60ec"/><circle cx="807.4" cy="68.4" r="1.5" fill="#1a60ec"/><circle cx="845.1" cy="47.6" r="1.7" fill="#48d0fa"/><circle cx="815.8" cy="91.1" r="1.4" fill="#1a60ec"/><circle cx="798.9" cy="86.0" r="1.6" fill="#48d0fa"/><circle cx="791.5" cy="88.7" r="1.1" fill="#48d0fa"/><circle cx="827.2" cy="61.3" r="1.8" fill="#48d0fa"/><circle cx="818.6" cy="72.3" r="1.0" fill="#1a60ec"/><circle cx="826.9" cy="86.9" r="1.7" fill="#48d0fa"/><circle cx="809.2" cy="46.0" r="1.5" fill="#48d0fa"/><circle cx="800.5" cy="55.0" r="1.7" fill="#48d0fa"/><circle cx="833.8" cy="65.3" r="1.2" fill="#48d0fa"/><circle cx="814.5" cy="53.5" r="0.9" fill="#48d0fa"/><circle cx="823.6" cy="49.0" r="1.6" fill="#1a60ec"/><circle cx="836.6" cy="70.3" r="0.9" fill="#48d0fa"/><circle cx="793.6" cy="80.3" r="1.8" fill="#1a60ec"/><circle cx="804.8" cy="58.2" r="1.7" fill="#1a60ec"/><circle cx="825.2" cy="56.9" r="1.4" fill="#1a60ec"/><circle cx="787.8" cy="85.7" r="1.6" fill="#1a60ec"/><circle cx="847.4" cy="58.5" r="1.5" fill="#48d0fa"/><circle cx="804.8" cy="71.6" r="1.4" fill="#1a60ec"/><circle cx="855.0" cy="63.5" r="1.2" fill="#48d0fa"/><circle cx="809.7" cy="46.9" r="1.4" fill="#48d0fa"/><circle cx="829.4" cy="67.0" r="1.5" fill="#1a60ec"/><circle cx="804.3" cy="57.2" r="1.0" fill="#1a60ec"/><circle cx="801.3" cy="76.8" r="1.3" fill="#1a60ec"/><circle cx="803.0" cy="57.0" r="1.7" fill="#48d0fa"/><circle cx="825.1" cy="87.2" r="1.6" fill="#1a60ec"/><circle cx="794.5" cy="55.0" r="0.9" fill="#1a60ec"/><circle cx="840.1" cy="61.3" r="1.6" fill="#1a60ec"/><circle cx="804.5" cy="85.5" r="1.8" fill="#1a60ec"/><circle cx="846.2" cy="89.9" r="1.3" fill="#1a60ec"/><circle cx="808.0" cy="65.9" r="1.7" fill="#48d0fa"/><circle cx="809.8" cy="71.1" r="1.3" fill="#1a60ec"/><circle cx="790.3" cy="70.5" r="1.4" fill="#48d0fa"/><circle cx="847.8" cy="69.4" r="1.8" fill="#1a60ec"/><circle cx="815.1" cy="54.0" r="1.5" fill="#48d0fa"/><circle cx="805.5" cy="55.8" r="1.4" fill="#1a60ec"/><circle cx="813.1" cy="82.5" r="1.5" fill="#1a60ec"/><circle cx="797.3" cy="54.2" r="1.5" fill="#1a60ec"/><circle cx="843.1" cy="85.8" r="1.3" fill="#48d0fa"/><circle cx="816.0" cy="82.5" r="1.1" fill="#1a60ec"/><circle cx="856.9" cy="89.1" r="1.6" fill="#48d0fa"/><circle cx="790.5" cy="81.4" r="1.2" fill="#48d0fa"/><circle cx="839.2" cy="46.8" r="1.2" fill="#48d0fa"/><circle cx="802.7" cy="47.4" r="1.1" fill="#48d0fa"/><circle cx="806.1" cy="72.1" r="1.6" fill="#48d0fa"/><circle cx="792.0" cy="66.5" r="1.7" fill="#48d0fa"/><circle cx="811.2" cy="77.0" r="0.9" fill="#48d0fa"/><circle cx="839.5" cy="84.5" r="1.2" fill="#1a60ec"/><circle cx="799.6" cy="63.5" r="0.9" fill="#1a60ec"/><circle cx="800.8" cy="74.3" r="1.3" fill="#48d0fa"/><circle cx="846.3" cy="49.0" r="1.0" fill="#1a60ec"/><circle cx="850.8" cy="82.6" r="1.0" fill="#48d0fa"/><circle cx="853.0" cy="76.3" r="1.6" fill="#48d0fa"/><circle cx="796.4" cy="84.5" r="1.3" fill="#1a60ec"/><circle cx="848.1" cy="45.1" r="1.6" fill="#1a60ec"/><circle cx="815.0" cy="87.6" r="1.1" fill="#48d0fa"/><circle cx="821.4" cy="61.6" r="1.5" fill="#48d0fa"/><circle cx="819.0" cy="47.1" r="1.0" fill="#48d0fa"/><circle cx="798.8" cy="54.6" r="1.4" fill="#1a60ec"/><circle cx="791.9" cy="60.4" r="1.4" fill="#1a60ec"/><circle cx="833.8" cy="57.9" r="1.2" fill="#48d0fa"/><circle cx="810.7" cy="47.4" r="0.9" fill="#48d0fa"/><circle cx="816.4" cy="55.5" r="1.5" fill="#48d0fa"/><circle cx="842.9" cy="86.0" r="1.2" fill="#48d0fa"/><circle cx="813.5" cy="62.7" r="1.2" fill="#1a60ec"/><circle cx="800.3" cy="58.1" r="1.3" fill="#48d0fa"/><circle cx="791.0" cy="50.1" r="1.3" fill="#1a60ec"/><circle cx="832.2" cy="86.6" r="1.4" fill="#1a60ec"/><circle cx="842.0" cy="70.2" r="1.0" fill="#48d0fa"/><circle cx="834.7" cy="79.3" r="1.5" fill="#1a60ec"/><circle cx="801.4" cy="49.9" r="1.4" fill="#1a60ec"/><circle cx="836.0" cy="58.1" r="1.5" fill="#1a60ec"/><circle cx="851.6" cy="78.9" r="1.8" fill="#48d0fa"/><circle cx="835.6" cy="50.6" r="1.3" fill="#48d0fa"/><circle cx="827.4" cy="52.2" r="1.5" fill="#48d0fa"/><circle cx="805.9" cy="74.4" r="1.5" fill="#1a60ec"/><circle cx="819.7" cy="90.3" r="0.9" fill="#48d0fa"/><circle cx="791.6" cy="77.5" r="1.6" fill="#1a60ec"/><circle cx="821.6" cy="61.2" r="1.7" fill="#48d0fa"/><circle cx="824.7" cy="64.6" r="1.4" fill="#48d0fa"/><circle cx="818.7" cy="78.4" r="1.2" fill="#48d0fa"/><circle cx="795.2" cy="66.3" r="1.1" fill="#1a60ec"/><circle cx="822.7" cy="57.9" r="1.3" fill="#48d0fa"/><circle cx="790.4" cy="83.1" r="1.8" fill="#48d0fa"/><circle cx="794.6" cy="52.6" r="1.0" fill="#1a60ec"/><circle cx="796.1" cy="87.5" r="1.3" fill="#1a60ec"/><circle cx="796.9" cy="59.6" r="1.2" fill="#1a60ec"/><circle cx="800.2" cy="66.9" r="1.8" fill="#48d0fa"/><circle cx="791.3" cy="75.9" r="1.4" fill="#48d0fa"/><circle cx="836.0" cy="77.7" r="1.6" fill="#1a60ec"/><circle cx="827.6" cy="55.7" r="1.1" fill="#1a60ec"/><circle cx="843.8" cy="85.7" r="1.4" fill="#1a60ec"/><circle cx="792.0" cy="47.7" r="1.4" fill="#48d0fa"/><circle cx="817.0" cy="65.4" r="1.2" fill="#48d0fa"/><circle cx="806.8" cy="89.1" r="1.4" fill="#1a60ec"/><circle cx="799.2" cy="62.0" r="1.0" fill="#1a60ec"/><circle cx="829.7" cy="46.3" r="1.5" fill="#48d0fa"/><circle cx="826.9" cy="49.6" r="1.2" fill="#48d0fa"/><circle cx="843.2" cy="85.8" r="1.6" fill="#48d0fa"/><circle cx="815.9" cy="91.2" r="1.7" fill="#48d0fa"/><circle cx="798.3" cy="77.7" r="1.5" fill="#48d0fa"/><circle cx="849.6" cy="55.6" r="1.4" fill="#1a60ec"/><circle cx="820.6" cy="83.1" r="1.7" fill="#48d0fa"/><circle cx="805.5" cy="50.1" r="1.5" fill="#48d0fa"/><circle cx="845.1" cy="75.2" r="1.6" fill="#1a60ec"/><circle cx="812.9" cy="51.2" r="1.8" fill="#1a60ec"/><circle cx="836.8" cy="62.4" r="1.4" fill="#1a60ec"/><circle cx="824.5" cy="79.2" r="1.1" fill="#48d0fa"/><circle cx="848.2" cy="82.8" r="1.0" fill="#48d0fa"/><circle cx="818.6" cy="85.7" r="1.2" fill="#1a60ec"/><circle cx="814.5" cy="79.5" r="0.9" fill="#1a60ec"/><circle cx="788.7" cy="90.8" r="0.9" fill="#1a60ec"/><circle cx="810.4" cy="50.7" r="1.4" fill="#1a60ec"/><circle cx="796.9" cy="49.8" r="0.9" fill="#1a60ec"/><circle cx="848.5" cy="52.1" r="1.5" fill="#1a60ec"/><circle cx="810.6" cy="50.4" r="1.1" fill="#48d0fa"/><circle cx="792.2" cy="68.8" r="1.2" fill="#1a60ec"/><circle cx="821.5" cy="91.9" r="1.4" fill="#48d0fa"/><circle cx="808.0" cy="66.6" r="1.7" fill="#1a60ec"/><circle cx="852.1" cy="84.4" r="1.5" fill="#48d0fa"/><circle cx="843.3" cy="49.7" r="1.2" fill="#1a60ec"/><circle cx="848.1" cy="79.5" r="1.0" fill="#1a60ec"/><circle cx="842.8" cy="86.3" r="1.2" fill="#1a60ec"/><circle cx="794.6" cy="65.2" r="1.2" fill="#1a60ec"/><circle cx="797.4" cy="88.8" r="1.2" fill="#48d0fa"/><circle cx="813.2" cy="62.5" r="1.4" fill="#1a60ec"/><circle cx="796.1" cy="72.8" r="1.1" fill="#48d0fa"/><circle cx="854.0" cy="58.4" r="1.5" fill="#48d0fa"/><circle cx="838.6" cy="72.3" r="1.3" fill="#48d0fa"/><circle cx="838.7" cy="47.7" r="1.7" fill="#48d0fa"/><circle cx="818.6" cy="67.7" r="1.6" fill="#48d0fa"/><circle cx="809.7" cy="73.3" r="1.5" fill="#48d0fa"/><circle cx="801.5" cy="92.0" r="1.5" fill="#1a60ec"/><circle cx="790.5" cy="77.1" r="1.7" fill="#48d0fa"/><circle cx="803.0" cy="45.8" r="1.3" fill="#1a60ec"/><circle cx="834.9" cy="59.4" r="1.7" fill="#48d0fa"/><circle cx="789.0" cy="91.5" r="1.1" fill="#1a60ec"/><circle cx="840.9" cy="57.1" r="1.7" fill="#48d0fa"/><circle cx="848.1" cy="67.7" r="1.0" fill="#48d0fa"/><circle cx="814.6" cy="83.0" r="1.1" fill="#1a60ec"/><circle cx="826.5" cy="45.6" r="1.6" fill="#1a60ec"/><circle cx="823.8" cy="77.4" r="1.4" fill="#1a60ec"/><circle cx="824.1" cy="67.7" r="1.0" fill="#48d0fa"/><circle cx="830.0" cy="61.3" r="1.1" fill="#48d0fa"/><circle cx="823.4" cy="58.2" r="1.2" fill="#48d0fa"/><circle cx="824.0" cy="62.0" r="1.8" fill="#1a60ec"/><circle cx="854.9" cy="69.0" r="1.6" fill="#48d0fa"/><circle cx="831.2" cy="64.5" r="1.6" fill="#48d0fa"/><circle cx="791.3" cy="64.3" r="1.4" fill="#1a60ec"/><circle cx="788.6" cy="65.6" r="1.2" fill="#1a60ec"/><circle cx="855.3" cy="55.9" r="1.6" fill="#1a60ec"/><circle cx="801.3" cy="55.5" r="1.5" fill="#48d0fa"/><circle cx="801.2" cy="56.9" r="1.1" fill="#1a60ec"/><circle cx="814.2" cy="72.9" r="1.4" fill="#1a60ec"/><circle cx="841.9" cy="58.1" r="1.6" fill="#48d0fa"/><circle cx="851.8" cy="79.9" r="1.5" fill="#48d0fa"/><circle cx="813.5" cy="87.2" r="1.2" fill="#1a60ec"/><circle cx="790.7" cy="54.0" r="0.9" fill="#48d0fa"/><circle cx="832.2" cy="65.1" r="1.2" fill="#1a60ec"/><circle cx="830.9" cy="84.3" r="1.4" fill="#1a60ec"/><circle cx="832.4" cy="55.7" r="1.2" fill="#48d0fa"/><circle cx="789.6" cy="59.4" r="1.4" fill="#48d0fa"/><circle cx="802.4" cy="68.8" r="1.4" fill="#48d0fa"/><circle cx="818.0" cy="52.6" r="1.2" fill="#48d0fa"/><circle cx="807.8" cy="83.0" r="0.9" fill="#48d0fa"/><circle cx="828.3" cy="62.6" r="1.6" fill="#1a60ec"/><circle cx="835.8" cy="89.2" r="1.2" fill="#1a60ec"/><circle cx="827.2" cy="61.1" r="1.2" fill="#1a60ec"/><circle cx="817.1" cy="68.2" r="1.3" fill="#48d0fa"/><circle cx="821.9" cy="77.2" r="1.3" fill="#1a60ec"/><circle cx="846.1" cy="81.7" r="1.7" fill="#48d0fa"/><circle cx="821.0" cy="84.5" r="1.2" fill="#48d0fa"/><circle cx="840.6" cy="67.8" r="1.0" fill="#48d0fa"/><circle cx="838.5" cy="60.5" r="1.4" fill="#48d0fa"/><circle cx="833.6" cy="58.6" r="1.5" fill="#48d0fa"/><circle cx="811.5" cy="87.8" r="1.4" fill="#1a60ec"/><circle cx="855.2" cy="54.8" r="1.7" fill="#48d0fa"/><circle cx="852.5" cy="65.8" r="1.4" fill="#48d0fa"/><circle cx="851.1" cy="54.9" r="1.6" fill="#48d0fa"/><circle cx="847.1" cy="85.4" r="1.5" fill="#1a60ec"/><circle cx="811.0" cy="51.4" r="1.0" fill="#48d0fa"/><circle cx="808.1" cy="65.3" r="1.2" fill="#48d0fa"/><circle cx="820.9" cy="68.9" r="1.1" fill="#1a60ec"/><circle cx="810.2" cy="45.7" r="1.7" fill="#48d0fa"/><circle cx="804.1" cy="86.7" r="1.3" fill="#1a60ec"/><circle cx="841.7" cy="65.7" r="1.7" fill="#48d0fa"/><circle cx="791.6" cy="65.7" r="1.3" fill="#1a60ec"/><circle cx="825.4" cy="77.5" r="1.7" fill="#1a60ec"/><circle cx="853.7" cy="81.7" r="1.6" fill="#48d0fa"/><circle cx="790.6" cy="74.2" r="1.2" fill="#48d0fa"/><circle cx="794.2" cy="57.3" r="1.0" fill="#48d0fa"/><circle cx="795.0" cy="76.9" r="1.0" fill="#1a60ec"/><circle cx="836.1" cy="85.5" r="1.5" fill="#48d0fa"/><circle cx="806.6" cy="88.0" r="1.6" fill="#48d0fa"/><circle cx="824.6" cy="55.7" r="1.2" fill="#48d0fa"/><circle cx="830.6" cy="51.5" r="1.4" fill="#1a60ec"/><circle cx="796.5" cy="52.4" r="1.3" fill="#48d0fa"/><circle cx="844.6" cy="91.4" r="1.5" fill="#48d0fa"/><circle cx="816.6" cy="73.5" r="1.7" fill="#1a60ec"/><circle cx="822.6" cy="56.3" r="1.7" fill="#48d0fa"/><circle cx="789.0" cy="91.9" r="1.4" fill="#48d0fa"/><circle cx="806.5" cy="56.7" r="1.6" fill="#1a60ec"/><circle cx="831.1" cy="68.4" r="1.3" fill="#1a60ec"/><circle cx="796.8" cy="62.6" r="0.9" fill="#48d0fa"/><circle cx="853.2" cy="45.6" r="1.2" fill="#48d0fa"/><circle cx="824.4" cy="57.2" r="0.9" fill="#48d0fa"/><circle cx="835.8" cy="51.3" r="1.4" fill="#48d0fa"/><circle cx="842.9" cy="66.7" r="1.2" fill="#48d0fa"/><circle cx="809.7" cy="51.2" r="1.8" fill="#1a60ec"/><circle cx="843.6" cy="65.5" r="1.6" fill="#1a60ec"/><circle cx="787.0" cy="80.3" r="1.2" fill="#48d0fa"/><circle cx="818.4" cy="86.3" r="1.2" fill="#1a60ec"/><circle cx="823.0" cy="44.8" r="1.0" fill="#48d0fa"/><circle cx="811.6" cy="83.5" r="1.1" fill="#1a60ec"/><circle cx="830.1" cy="71.1" r="1.2" fill="#48d0fa"/><circle cx="843.0" cy="51.6" r="1.7" fill="#48d0fa"/><circle cx="817.9" cy="54.7" r="1.0" fill="#48d0fa"/><circle cx="792.1" cy="72.7" r="1.3" fill="#1a60ec"/><circle cx="809.0" cy="82.6" r="1.3" fill="#1a60ec"/><circle cx="831.5" cy="52.7" r="1.1" fill="#48d0fa"/><circle cx="853.7" cy="82.7" r="1.3" fill="#1a60ec"/><circle cx="812.5" cy="62.6" r="1.5" fill="#48d0fa"/><circle cx="787.1" cy="72.8" r="1.6" fill="#1a60ec"/><circle cx="852.4" cy="76.4" r="1.8" fill="#48d0fa"/><circle cx="851.1" cy="58.5" r="1.3" fill="#48d0fa"/><circle cx="823.3" cy="64.9" r="1.2" fill="#1a60ec"/><circle cx="788.8" cy="86.8" r="1.0" fill="#48d0fa"/><circle cx="831.8" cy="86.5" r="1.5" fill="#48d0fa"/><circle cx="820.7" cy="63.2" r="1.0" fill="#1a60ec"/><circle cx="808.3" cy="54.7" r="1.2" fill="#48d0fa"/><circle cx="808.4" cy="91.8" r="1.3" fill="#1a60ec"/><circle cx="844.6" cy="62.1" r="1.4" fill="#1a60ec"/><circle cx="810.8" cy="82.5" r="1.2" fill="#1a60ec"/><circle cx="822.7" cy="74.5" r="1.0" fill="#1a60ec"/><circle cx="843.8" cy="70.0" r="1.1" fill="#1a60ec"/><circle cx="788.1" cy="72.5" r="1.6" fill="#48d0fa"/><circle cx="793.0" cy="62.1" r="1.7" fill="#1a60ec"/><circle cx="849.2" cy="75.3" r="1.1" fill="#48d0fa"/><circle cx="815.5" cy="90.1" r="1.2" fill="#1a60ec"/><circle cx="853.2" cy="81.4" r="1.2" fill="#1a60ec"/><circle cx="802.3" cy="74.7" r="1.4" fill="#48d0fa"/><circle cx="814.8" cy="47.8" r="1.7" fill="#1a60ec"/><circle cx="838.5" cy="73.0" r="1.3" fill="#48d0fa"/><circle cx="788.1" cy="54.5" r="0.9" fill="#1a60ec"/><circle cx="811.6" cy="59.9" r="1.3" fill="#48d0fa"/><circle cx="826.5" cy="60.1" r="1.5" fill="#48d0fa"/><circle cx="787.6" cy="71.3" r="1.1" fill="#1a60ec"/><circle cx="814.2" cy="46.9" r="1.0" fill="#48d0fa"/><circle cx="803.2" cy="70.7" r="1.2" fill="#1a60ec"/><circle cx="832.2" cy="46.4" r="1.0" fill="#48d0fa"/><circle cx="816.5" cy="81.4" r="1.6" fill="#1a60ec"/><circle cx="821.8" cy="55.7" r="1.3" fill="#48d0fa"/><circle cx="789.2" cy="87.7" r="1.6" fill="#1a60ec"/><circle cx="799.0" cy="66.3" r="1.1" fill="#48d0fa"/><circle cx="826.8" cy="91.7" r="1.5" fill="#1a60ec"/><circle cx="851.5" cy="74.6" r="1.1" fill="#1a60ec"/><circle cx="802.8" cy="69.1" r="1.7" fill="#1a60ec"/><circle cx="854.9" cy="48.5" r="1.3" fill="#48d0fa"/><circle cx="823.2" cy="66.1" r="1.4" fill="#1a60ec"/><circle cx="828.0" cy="59.7" r="1.2" fill="#1a60ec"/><circle cx="799.9" cy="74.7" r="1.6" fill="#48d0fa"/><circle cx="831.8" cy="74.3" r="1.3" fill="#1a60ec"/><circle cx="833.4" cy="68.8" r="1.4" fill="#1a60ec"/><circle cx="841.0" cy="68.4" r="1.0" fill="#48d0fa"/><circle cx="806.5" cy="68.8" r="1.0" fill="#1a60ec"/><circle cx="807.2" cy="77.2" r="1.3" fill="#1a60ec"/><circle cx="823.7" cy="73.2" r="1.5" fill="#48d0fa"/><circle cx="849.3" cy="75.3" r="1.7" fill="#48d0fa"/><circle cx="818.0" cy="70.0" r="1.5" fill="#1a60ec"/><circle cx="827.9" cy="88.8" r="1.1" fill="#1a60ec"/><circle cx="840.1" cy="82.0" r="1.1" fill="#48d0fa"/><circle cx="844.9" cy="76.3" r="1.5" fill="#48d0fa"/><circle cx="829.7" cy="75.4" r="1.5" fill="#48d0fa"/><circle cx="796.5" cy="84.5" r="1.1" fill="#48d0fa"/><circle cx="825.7" cy="49.8" r="1.2" fill="#1a60ec"/><circle cx="840.0" cy="59.8" r="1.0" fill="#1a60ec"/><circle cx="825.3" cy="62.8" r="1.3" fill="#48d0fa"/><circle cx="833.2" cy="80.8" r="1.3" fill="#48d0fa"/><circle cx="834.3" cy="54.1" r="1.0" fill="#48d0fa"/><circle cx="808.2" cy="65.8" r="1.2" fill="#48d0fa"/><circle cx="848.0" cy="57.7" r="1.6" fill="#48d0fa"/><circle cx="801.4" cy="58.2" r="1.4" fill="#48d0fa"/><circle cx="829.3" cy="85.6" r="1.1" fill="#1a60ec"/><circle cx="856.4" cy="59.4" r="1.2" fill="#48d0fa"/><circle cx="795.6" cy="83.4" r="1.2" fill="#48d0fa"/><circle cx="793.4" cy="81.2" r="1.6" fill="#1a60ec"/><circle cx="804.1" cy="91.7" r="1.2" fill="#1a60ec"/><circle cx="802.4" cy="74.4" r="1.0" fill="#48d0fa"/><circle cx="825.0" cy="88.9" r="1.5" fill="#1a60ec"/><circle cx="843.1" cy="66.8" r="1.0" fill="#1a60ec"/><circle cx="847.2" cy="71.8" r="1.3" fill="#48d0fa"/><circle cx="787.4" cy="53.3" r="1.7" fill="#1a60ec"/><circle cx="852.6" cy="64.5" r="1.4" fill="#48d0fa"/><circle cx="855.2" cy="91.2" r="1.7" fill="#1a60ec"/><circle cx="830.0" cy="61.8" r="0.9" fill="#48d0fa"/><circle cx="843.8" cy="86.3" r="1.1" fill="#1a60ec"/><circle cx="855.9" cy="89.5" r="1.8" fill="#48d0fa"/><circle cx="790.2" cy="60.4" r="1.4" fill="#1a60ec"/><circle cx="854.5" cy="56.5" r="1.1" fill="#1a60ec"/><circle cx="852.4" cy="50.5" r="1.2" fill="#1a60ec"/><circle cx="818.3" cy="81.9" r="1.6" fill="#48d0fa"/><circle cx="820.3" cy="83.9" r="1.4" fill="#1a60ec"/><circle cx="813.0" cy="64.3" r="1.7" fill="#1a60ec"/><circle cx="811.3" cy="89.4" r="1.0" fill="#48d0fa"/><circle cx="849.6" cy="84.9" r="1.1" fill="#48d0fa"/><circle cx="848.3" cy="48.3" r="1.8" fill="#1a60ec"/><circle cx="843.1" cy="55.9" r="1.7" fill="#48d0fa"/><circle cx="787.8" cy="51.9" r="1.2" fill="#48d0fa"/><circle cx="832.2" cy="64.5" r="1.5" fill="#48d0fa"/><circle cx="838.4" cy="50.2" r="1.8" fill="#48d0fa"/><circle cx="854.1" cy="48.9" r="1.1" fill="#48d0fa"/><circle cx="815.0" cy="88.4" r="1.4" fill="#1a60ec"/><circle cx="828.8" cy="64.4" r="1.6" fill="#1a60ec"/><circle cx="844.7" cy="75.2" r="1.3" fill="#48d0fa"/><circle cx="804.0" cy="57.3" r="0.9" fill="#48d0fa"/><circle cx="836.5" cy="48.7" r="1.0" fill="#1a60ec"/><circle cx="828.4" cy="80.4" r="0.9" fill="#48d0fa"/><circle cx="852.9" cy="81.8" r="1.7" fill="#1a60ec"/><circle cx="851.7" cy="58.9" r="0.9" fill="#48d0fa"/><circle cx="838.2" cy="56.6" r="1.0" fill="#48d0fa"/><circle cx="851.8" cy="59.0" r="1.3" fill="#1a60ec"/><circle cx="814.2" cy="77.7" r="1.1" fill="#48d0fa"/><circle cx="806.3" cy="71.2" r="1.1" fill="#1a60ec"/><circle cx="800.1" cy="54.1" r="1.4" fill="#1a60ec"/><circle cx="808.0" cy="68.3" r="1.5" fill="#48d0fa"/><circle cx="852.4" cy="47.0" r="1.0" fill="#1a60ec"/><circle cx="794.0" cy="62.4" r="1.6" fill="#48d0fa"/><circle cx="847.1" cy="72.9" r="1.3" fill="#48d0fa"/><circle cx="801.8" cy="55.0" r="1.0" fill="#1a60ec"/><circle cx="810.0" cy="80.7" r="1.1" fill="#1a60ec"/><circle cx="798.7" cy="46.0" r="1.7" fill="#1a60ec"/><circle cx="791.6" cy="89.3" r="1.7" fill="#1a60ec"/><circle cx="811.1" cy="87.8" r="1.2" fill="#48d0fa"/><circle cx="787.5" cy="63.7" r="1.7" fill="#48d0fa"/><circle cx="823.1" cy="84.9" r="1.5" fill="#48d0fa"/><circle cx="829.4" cy="50.6" r="1.5" fill="#48d0fa"/><circle cx="816.0" cy="53.4" r="1.3" fill="#1a60ec"/><circle cx="853.9" cy="66.7" r="1.3" fill="#1a60ec"/><circle cx="839.0" cy="85.1" r="1.3" fill="#1a60ec"/><circle cx="790.4" cy="59.5" r="1.1" fill="#48d0fa"/><circle cx="795.9" cy="82.5" r="1.6" fill="#1a60ec"/><circle cx="796.5" cy="52.6" r="1.6" fill="#1a60ec"/><circle cx="793.0" cy="54.9" r="1.3" fill="#48d0fa"/><circle cx="848.8" cy="58.6" r="1.5" fill="#1a60ec"/><circle cx="815.3" cy="69.7" r="1.7" fill="#1a60ec"/><circle cx="841.6" cy="56.5" r="1.0" fill="#1a60ec"/><circle cx="855.2" cy="51.1" r="1.1" fill="#48d0fa"/><circle cx="820.6" cy="73.5" r="1.4" fill="#1a60ec"/><circle cx="808.4" cy="44.9" r="1.0" fill="#1a60ec"/><circle cx="792.9" cy="87.8" r="1.1" fill="#48d0fa"/><circle cx="813.9" cy="62.4" r="1.1" fill="#1a60ec"/><circle cx="788.0" cy="88.7" r="1.4" fill="#48d0fa"/><circle cx="845.3" cy="71.5" r="1.5" fill="#48d0fa"/><circle cx="823.9" cy="60.4" r="1.0" fill="#48d0fa"/><circle cx="827.5" cy="52.4" r="1.1" fill="#48d0fa"/><circle cx="823.6" cy="61.3" r="1.2" fill="#48d0fa"/><circle cx="794.1" cy="73.4" r="1.6" fill="#48d0fa"/><circle cx="831.5" cy="45.5" r="0.9" fill="#48d0fa"/><circle cx="850.6" cy="71.9" r="1.2" fill="#48d0fa"/><circle cx="790.3" cy="59.3" r="1.1" fill="#1a60ec"/><circle cx="855.4" cy="57.0" r="1.1" fill="#48d0fa"/><circle cx="798.4" cy="57.0" r="1.2" fill="#48d0fa"/><circle cx="792.8" cy="82.3" r="1.2" fill="#1a60ec"/><circle cx="787.7" cy="47.2" r="1.4" fill="#1a60ec"/><circle cx="786.9" cy="65.9" r="1.8" fill="#1a60ec"/><circle cx="855.2" cy="73.0" r="0.9" fill="#48d0fa"/><circle cx="828.4" cy="53.0" r="1.1" fill="#48d0fa"/><circle cx="832.7" cy="75.7" r="1.3" fill="#1a60ec"/><circle cx="823.5" cy="91.7" r="1.6" fill="#48d0fa"/><circle cx="856.4" cy="65.3" r="1.4" fill="#48d0fa"/><circle cx="817.1" cy="59.9" r="1.0" fill="#1a60ec"/><circle cx="811.3" cy="60.3" r="1.3" fill="#1a60ec"/><circle cx="801.5" cy="62.3" r="1.7" fill="#48d0fa"/><circle cx="846.6" cy="83.5" r="1.3" fill="#48d0fa"/><circle cx="790.2" cy="54.2" r="1.3" fill="#48d0fa"/><circle cx="820.1" cy="77.7" r="1.1" fill="#48d0fa"/><circle cx="806.9" cy="88.6" r="1.6" fill="#48d0fa"/><circle cx="834.8" cy="61.2" r="1.4" fill="#48d0fa"/><circle cx="823.2" cy="73.0" r="1.3" fill="#1a60ec"/><circle cx="839.1" cy="57.9" r="1.6" fill="#48d0fa"/><circle cx="832.7" cy="72.3" r="1.5" fill="#1a60ec"/><circle cx="839.2" cy="50.3" r="1.7" fill="#1a60ec"/><circle cx="819.1" cy="82.7" r="1.7" fill="#1a60ec"/><circle cx="828.4" cy="55.5" r="1.4" fill="#48d0fa"/><circle cx="803.1" cy="91.8" r="1.2" fill="#1a60ec"/><circle cx="846.1" cy="86.6" r="1.8" fill="#1a60ec"/><circle cx="793.6" cy="61.6" r="1.0" fill="#48d0fa"/><circle cx="811.2" cy="63.9" r="1.2" fill="#48d0fa"/><circle cx="804.6" cy="66.4" r="1.5" fill="#48d0fa"/><circle cx="794.8" cy="46.5" r="1.5" fill="#48d0fa"/><circle cx="836.5" cy="75.3" r="1.0" fill="#1a60ec"/><circle cx="851.3" cy="69.3" r="1.6" fill="#1a60ec"/><circle cx="802.4" cy="90.7" r="1.1" fill="#48d0fa"/><circle cx="839.8" cy="69.0" r="1.0" fill="#1a60ec"/><circle cx="798.2" cy="69.4" r="1.7" fill="#48d0fa"/><circle cx="832.5" cy="84.2" r="1.1" fill="#48d0fa"/><circle cx="829.5" cy="80.0" r="1.3" fill="#48d0fa"/><circle cx="788.6" cy="72.4" r="1.7" fill="#48d0fa"/><circle cx="829.1" cy="68.0" r="1.1" fill="#1a60ec"/><circle cx="844.0" cy="46.1" r="1.2" fill="#48d0fa"/><circle cx="815.0" cy="92.0" r="1.6" fill="#1a60ec"/><circle cx="837.8" cy="47.4" r="1.2" fill="#1a60ec"/><circle cx="798.9" cy="63.1" r="1.8" fill="#48d0fa"/><circle cx="826.5" cy="66.1" r="1.2" fill="#48d0fa"/><circle cx="825.8" cy="59.2" r="1.3" fill="#48d0fa"/><circle cx="825.8" cy="71.7" r="1.3" fill="#48d0fa"/><circle cx="811.7" cy="63.5" r="0.9" fill="#48d0fa"/><circle cx="831.8" cy="75.5" r="1.7" fill="#1a60ec"/><circle cx="833.8" cy="84.7" r="1.8" fill="#48d0fa"/><circle cx="804.6" cy="70.1" r="1.2" fill="#48d0fa"/><circle cx="820.3" cy="89.8" r="1.6" fill="#1a60ec"/><circle cx="797.7" cy="70.3" r="1.4" fill="#48d0fa"/><circle cx="845.1" cy="82.6" r="1.1" fill="#1a60ec"/><circle cx="838.3" cy="78.2" r="0.9" fill="#48d0fa"/><circle cx="799.4" cy="59.9" r="1.6" fill="#48d0fa"/><circle cx="804.4" cy="75.4" r="1.2" fill="#48d0fa"/><circle cx="846.8" cy="55.6" r="1.1" fill="#48d0fa"/><circle cx="840.4" cy="66.1" r="1.7" fill="#1a60ec"/><circle cx="813.2" cy="81.9" r="1.0" fill="#48d0fa"/><circle cx="808.0" cy="55.3" r="0.9" fill="#1a60ec"/><circle cx="827.8" cy="68.5" r="1.2" fill="#48d0fa"/><circle cx="788.8" cy="85.5" r="1.7" fill="#48d0fa"/><circle cx="792.4" cy="70.8" r="1.2" fill="#1a60ec"/><circle cx="852.5" cy="86.6" r="1.0" fill="#48d0fa"/><circle cx="791.1" cy="57.1" r="0.9" fill="#48d0fa"/><circle cx="813.3" cy="71.6" r="1.6" fill="#1a60ec"/><circle cx="853.6" cy="57.4" r="1.5" fill="#48d0fa"/><circle cx="798.3" cy="69.5" r="1.7" fill="#48d0fa"/><circle cx="827.6" cy="86.7" r="1.0" fill="#48d0fa"/><circle cx="840.1" cy="68.2" r="1.3" fill="#48d0fa"/><circle cx="827.6" cy="64.5" r="1.7" fill="#48d0fa"/><circle cx="801.0" cy="62.2" r="0.9" fill="#1a60ec"/><circle cx="826.3" cy="56.5" r="1.2" fill="#1a60ec"/><circle cx="830.2" cy="49.1" r="1.3" fill="#48d0fa"/><circle cx="792.7" cy="64.4" r="1.0" fill="#48d0fa"/><circle cx="809.4" cy="79.0" r="1.5" fill="#1a60ec"/><circle cx="804.1" cy="45.0" r="1.4" fill="#48d0fa"/><circle cx="826.4" cy="90.5" r="1.4" fill="#1a60ec"/><circle cx="843.9" cy="54.6" r="1.2" fill="#48d0fa"/><circle cx="853.4" cy="46.9" r="1.6" fill="#1a60ec"/><circle cx="793.0" cy="75.9" r="1.5" fill="#1a60ec"/><circle cx="798.7" cy="47.5" r="0.9" fill="#1a60ec"/><circle cx="813.0" cy="91.2" r="1.2" fill="#1a60ec"/><circle cx="789.3" cy="78.8" r="1.4" fill="#48d0fa"/><circle cx="852.5" cy="57.8" r="1.1" fill="#48d0fa"/><circle cx="852.3" cy="91.6" r="1.7" fill="#1a60ec"/><circle cx="799.0" cy="46.7" r="1.2" fill="#1a60ec"/><circle cx="800.8" cy="59.7" r="1.2" fill="#1a60ec"/><circle cx="836.5" cy="55.6" r="1.7" fill="#48d0fa"/><circle cx="822.5" cy="49.4" r="1.0" fill="#1a60ec"/><circle cx="806.8" cy="79.0" r="1.3" fill="#48d0fa"/><circle cx="818.3" cy="70.8" r="1.3" fill="#48d0fa"/><circle cx="853.3" cy="48.1" r="1.7" fill="#48d0fa"/><circle cx="793.8" cy="88.7" r="1.3" fill="#48d0fa"/><circle cx="851.2" cy="90.7" r="1.1" fill="#1a60ec"/><circle cx="791.0" cy="61.0" r="1.2" fill="#48d0fa"/><circle cx="832.5" cy="46.0" r="1.3" fill="#1a60ec"/><circle cx="808.7" cy="64.5" r="1.4" fill="#48d0fa"/><circle cx="790.0" cy="48.4" r="1.6" fill="#1a60ec"/><circle cx="852.9" cy="84.5" r="1.6" fill="#48d0fa"/><circle cx="827.4" cy="48.3" r="1.6" fill="#1a60ec"/><circle cx="823.1" cy="75.4" r="1.1" fill="#1a60ec"/><circle cx="802.1" cy="68.6" r="1.4" fill="#48d0fa"/><circle cx="820.0" cy="79.9" r="1.7" fill="#1a60ec"/><circle cx="800.5" cy="64.3" r="0.9" fill="#1a60ec"/><circle cx="791.3" cy="44.8" r="1.0" fill="#48d0fa"/><circle cx="803.6" cy="58.4" r="1.6" fill="#48d0fa"/><circle cx="787.5" cy="68.6" r="1.7" fill="#48d0fa"/><circle cx="819.5" cy="58.6" r="1.1" fill="#1a60ec"/><circle cx="794.1" cy="66.3" r="1.7" fill="#1a60ec"/><circle cx="797.0" cy="73.7" r="1.2" fill="#1a60ec"/><circle cx="800.1" cy="64.9" r="1.4" fill="#48d0fa"/><circle cx="821.0" cy="55.1" r="1.7" fill="#1a60ec"/><circle cx="792.1" cy="75.5" r="1.4" fill="#48d0fa"/><circle cx="810.4" cy="55.7" r="1.5" fill="#48d0fa"/><circle cx="798.3" cy="60.4" r="0.9" fill="#48d0fa"/><circle cx="849.4" cy="73.9" r="1.7" fill="#1a60ec"/><circle cx="810.6" cy="75.1" r="1.0" fill="#48d0fa"/><circle cx="811.1" cy="51.8" r="1.7" fill="#48d0fa"/><circle cx="790.9" cy="54.3" r="1.4" fill="#48d0fa"/><circle cx="795.6" cy="52.5" r="1.5" fill="#48d0fa"/><circle cx="856.3" cy="87.2" r="1.8" fill="#1a60ec"/><circle cx="827.2" cy="82.4" r="0.9" fill="#48d0fa"/><circle cx="856.9" cy="82.8" r="1.5" fill="#48d0fa"/><circle cx="812.4" cy="71.1" r="1.2" fill="#1a60ec"/><circle cx="815.9" cy="63.8" r="1.3" fill="#48d0fa"/><circle cx="796.8" cy="80.9" r="1.7" fill="#48d0fa"/><circle cx="833.4" cy="44.9" r="1.7" fill="#1a60ec"/><circle cx="792.6" cy="83.9" r="0.9" fill="#1a60ec"/><circle cx="845.7" cy="85.2" r="1.5" fill="#1a60ec"/><circle cx="853.7" cy="86.3" r="1.7" fill="#48d0fa"/><circle cx="799.3" cy="54.2" r="1.7" fill="#1a60ec"/><circle cx="794.1" cy="59.4" r="1.8" fill="#48d0fa"/><circle cx="823.0" cy="91.3" r="1.2" fill="#1a60ec"/><circle cx="810.7" cy="66.1" r="0.9" fill="#48d0fa"/><circle cx="796.1" cy="74.0" r="1.6" fill="#48d0fa"/><circle cx="835.0" cy="80.4" r="1.4" fill="#1a60ec"/><circle cx="833.9" cy="54.4" r="1.0" fill="#48d0fa"/><circle cx="839.8" cy="63.2" r="1.2" fill="#1a60ec"/><circle cx="841.0" cy="63.1" r="1.3" fill="#48d0fa"/><circle cx="791.1" cy="67.3" r="1.6" fill="#48d0fa"/><circle cx="837.3" cy="45.7" r="1.6" fill="#1a60ec"/><circle cx="809.5" cy="59.3" r="1.7" fill="#48d0fa"/><circle cx="833.7" cy="46.1" r="1.8" fill="#48d0fa"/><circle cx="831.7" cy="73.0" r="1.6" fill="#48d0fa"/><circle cx="789.3" cy="85.5" r="1.3" fill="#1a60ec"/><circle cx="803.4" cy="45.9" r="1.3" fill="#1a60ec"/><circle cx="837.5" cy="63.6" r="1.7" fill="#48d0fa"/><circle cx="829.9" cy="76.3" r="1.1" fill="#48d0fa"/><circle cx="853.3" cy="59.1" r="1.7" fill="#1a60ec"/><circle cx="818.4" cy="80.3" r="1.1" fill="#48d0fa"/><circle cx="813.7" cy="61.5" r="1.3" fill="#48d0fa"/><circle cx="787.4" cy="54.2" r="1.3" fill="#48d0fa"/><circle cx="804.0" cy="81.2" r="1.7" fill="#1a60ec"/><circle cx="855.9" cy="71.4" r="1.7" fill="#48d0fa"/><circle cx="831.8" cy="47.7" r="1.7" fill="#48d0fa"/><circle cx="839.7" cy="82.2" r="1.7" fill="#1a60ec"/><circle cx="840.1" cy="62.0" r="1.3" fill="#48d0fa"/><circle cx="802.1" cy="73.7" r="1.6" fill="#48d0fa"/><circle cx="843.0" cy="90.7" r="1.8" fill="#48d0fa"/><circle cx="817.0" cy="59.1" r="1.2" fill="#1a60ec"/><circle cx="813.5" cy="67.3" r="1.4" fill="#1a60ec"/><circle cx="828.2" cy="61.2" r="1.8" fill="#1a60ec"/><circle cx="842.5" cy="82.9" r="1.0" fill="#48d0fa"/><circle cx="807.5" cy="79.1" r="1.1" fill="#48d0fa"/><circle cx="794.6" cy="81.4" r="1.8" fill="#48d0fa"/><circle cx="844.4" cy="56.0" r="1.8" fill="#48d0fa"/><circle cx="827.1" cy="66.5" r="1.3" fill="#1a60ec"/><circle cx="847.4" cy="53.4" r="1.7" fill="#48d0fa"/><circle cx="800.6" cy="60.4" r="1.1" fill="#48d0fa"/><circle cx="834.0" cy="81.5" r="1.7" fill="#1a60ec"/><circle cx="856.6" cy="54.4" r="1.0" fill="#48d0fa"/><circle cx="836.3" cy="47.2" r="1.6" fill="#1a60ec"/><circle cx="832.7" cy="63.7" r="1.6" fill="#1a60ec"/><circle cx="838.1" cy="76.8" r="1.6" fill="#48d0fa"/><circle cx="795.7" cy="55.6" r="1.3" fill="#48d0fa"/><circle cx="807.5" cy="45.2" r="1.6" fill="#1a60ec"/><circle cx="790.1" cy="74.1" r="1.3" fill="#1a60ec"/><circle cx="820.7" cy="83.1" r="1.6" fill="#48d0fa"/><circle cx="854.5" cy="60.1" r="1.2" fill="#48d0fa"/><circle cx="852.7" cy="52.3" r="0.9" fill="#48d0fa"/><circle cx="788.4" cy="48.9" r="1.7" fill="#48d0fa"/><circle cx="792.7" cy="87.5" r="1.1" fill="#48d0fa"/><circle cx="833.1" cy="82.8" r="1.3" fill="#48d0fa"/><circle cx="846.8" cy="87.6" r="1.5" fill="#1a60ec"/><circle cx="854.0" cy="87.1" r="1.8" fill="#1a60ec"/><circle cx="833.3" cy="88.0" r="1.8" fill="#1a60ec"/><circle cx="840.2" cy="55.5" r="0.9" fill="#48d0fa"/><circle cx="837.3" cy="72.4" r="1.4" fill="#1a60ec"/><circle cx="850.0" cy="55.8" r="1.2" fill="#48d0fa"/><circle cx="832.8" cy="92.1" r="1.2" fill="#1a60ec"/><circle cx="804.0" cy="80.2" r="1.0" fill="#1a60ec"/><circle cx="831.1" cy="56.5" r="1.6" fill="#1a60ec"/><circle cx="799.8" cy="55.1" r="1.7" fill="#48d0fa"/><circle cx="792.5" cy="52.6" r="1.1" fill="#48d0fa"/><circle cx="835.8" cy="57.6" r="1.4" fill="#1a60ec"/><circle cx="818.7" cy="89.2" r="1.2" fill="#1a60ec"/><circle cx="809.7" cy="80.6" r="1.4" fill="#48d0fa"/><circle cx="799.6" cy="74.4" r="1.6" fill="#48d0fa"/><circle cx="787.4" cy="88.5" r="1.6" fill="#48d0fa"/><circle cx="818.1" cy="58.0" r="1.4" fill="#1a60ec"/><circle cx="848.6" cy="90.1" r="1.6" fill="#1a60ec"/><circle cx="846.2" cy="89.5" r="1.1" fill="#48d0fa"/><circle cx="830.9" cy="72.7" r="1.1" fill="#1a60ec"/><circle cx="843.8" cy="76.5" r="1.3" fill="#1a60ec"/><circle cx="810.4" cy="91.7" r="1.1" fill="#48d0fa"/><circle cx="806.1" cy="87.4" r="1.4" fill="#48d0fa"/><circle cx="824.6" cy="54.0" r="1.4" fill="#1a60ec"/><circle cx="802.2" cy="86.9" r="1.2" fill="#48d0fa"/><circle cx="851.7" cy="75.9" r="1.6" fill="#48d0fa"/><circle cx="835.7" cy="83.0" r="1.4" fill="#1a60ec"/><circle cx="806.8" cy="84.8" r="1.3" fill="#48d0fa"/><circle cx="834.3" cy="47.1" r="1.7" fill="#1a60ec"/><circle cx="798.5" cy="73.2" r="1.3" fill="#1a60ec"/><circle cx="803.6" cy="75.0" r="1.1" fill="#1a60ec"/><circle cx="843.5" cy="78.8" r="1.1" fill="#48d0fa"/><circle cx="854.9" cy="61.9" r="1.3" fill="#48d0fa"/><circle cx="789.0" cy="82.0" r="1.8" fill="#1a60ec"/><circle cx="801.4" cy="50.9" r="1.3" fill="#48d0fa"/><circle cx="799.4" cy="52.0" r="1.6" fill="#1a60ec"/><circle cx="826.5" cy="77.0" r="1.4" fill="#1a60ec"/><circle cx="787.7" cy="44.9" r="1.0" fill="#1a60ec"/><circle cx="848.2" cy="89.0" r="1.2" fill="#48d0fa"/><circle cx="813.9" cy="81.4" r="1.3" fill="#48d0fa"/><circle cx="799.4" cy="80.6" r="1.7" fill="#1a60ec"/><circle cx="844.6" cy="88.7" r="1.5" fill="#1a60ec"/><circle cx="808.5" cy="66.2" r="1.3" fill="#48d0fa"/><circle cx="854.9" cy="48.9" r="1.0" fill="#1a60ec"/><circle cx="851.4" cy="73.4" r="1.3" fill="#48d0fa"/><circle cx="809.3" cy="45.2" r="1.2" fill="#48d0fa"/><circle cx="817.6" cy="76.2" r="1.1" fill="#1a60ec"/><circle cx="799.4" cy="56.7" r="1.3" fill="#1a60ec"/><circle cx="824.7" cy="87.8" r="1.2" fill="#1a60ec"/><circle cx="854.0" cy="82.5" r="1.4" fill="#1a60ec"/><circle cx="841.7" cy="68.7" r="1.5" fill="#1a60ec"/><circle cx="839.0" cy="76.4" r="1.0" fill="#1a60ec"/><circle cx="808.5" cy="78.5" r="1.8" fill="#48d0fa"/><circle cx="805.9" cy="84.1" r="1.1" fill="#1a60ec"/><circle cx="811.7" cy="58.4" r="1.1" fill="#1a60ec"/><circle cx="811.1" cy="51.2" r="1.3" fill="#48d0fa"/><circle cx="791.6" cy="78.3" r="1.3" fill="#48d0fa"/><circle cx="847.9" cy="59.3" r="1.0" fill="#48d0fa"/><circle cx="856.4" cy="61.2" r="1.5" fill="#48d0fa"/><circle cx="846.1" cy="58.1" r="1.3" fill="#48d0fa"/><circle cx="818.4" cy="64.0" r="1.8" fill="#48d0fa"/><circle cx="831.5" cy="83.2" r="0.9" fill="#48d0fa"/><circle cx="832.4" cy="91.3" r="1.1" fill="#48d0fa"/><circle cx="826.9" cy="91.0" r="1.1" fill="#48d0fa"/><circle cx="853.7" cy="79.4" r="1.3" fill="#1a60ec"/><circle cx="810.7" cy="90.0" r="0.9" fill="#48d0fa"/><circle cx="820.7" cy="80.5" r="1.2" fill="#48d0fa"/><circle cx="854.6" cy="66.2" r="1.4" fill="#1a60ec"/><circle cx="808.4" cy="61.0" r="0.9" fill="#48d0fa"/><circle cx="796.7" cy="53.4" r="1.3" fill="#1a60ec"/><circle cx="794.2" cy="87.1" r="1.0" fill="#1a60ec"/><circle cx="837.7" cy="61.7" r="1.4" fill="#1a60ec"/><circle cx="787.5" cy="55.8" r="1.8" fill="#48d0fa"/><circle cx="815.9" cy="79.7" r="1.0" fill="#48d0fa"/><circle cx="827.5" cy="69.8" r="1.7" fill="#48d0fa"/><circle cx="814.3" cy="88.6" r="1.7" fill="#48d0fa"/><circle cx="834.9" cy="76.0" r="1.3" fill="#48d0fa"/><circle cx="836.7" cy="89.3" r="1.4" fill="#1a60ec"/><circle cx="829.7" cy="75.9" r="1.2" fill="#48d0fa"/><circle cx="840.2" cy="90.1" r="1.7" fill="#48d0fa"/><circle cx="813.2" cy="71.5" r="1.2" fill="#48d0fa"/><circle cx="798.1" cy="51.8" r="1.2" fill="#48d0fa"/><circle cx="814.3" cy="86.6" r="1.0" fill="#48d0fa"/><circle cx="826.2" cy="68.8" r="1.1" fill="#1a60ec"/><circle cx="816.8" cy="85.6" r="1.0" fill="#1a60ec"/><circle cx="846.1" cy="63.4" r="1.3" fill="#1a60ec"/><circle cx="855.6" cy="52.8" r="1.4" fill="#1a60ec"/><circle cx="842.2" cy="45.5" r="1.8" fill="#48d0fa"/><circle cx="820.8" cy="53.2" r="1.6" fill="#1a60ec"/><circle cx="815.3" cy="69.6" r="1.7" fill="#1a60ec"/><circle cx="825.5" cy="79.8" r="1.4" fill="#1a60ec"/><circle cx="787.8" cy="72.1" r="1.1" fill="#48d0fa"/><circle cx="798.8" cy="75.8" r="1.7" fill="#48d0fa"/><circle cx="837.0" cy="90.5" r="0.9" fill="#1a60ec"/><circle cx="823.3" cy="60.6" r="1.4" fill="#48d0fa"/><circle cx="855.1" cy="92.0" r="1.2" fill="#48d0fa"/><circle cx="809.8" cy="55.8" r="1.3" fill="#1a60ec"/><circle cx="834.8" cy="66.5" r="1.2" fill="#48d0fa"/><circle cx="811.7" cy="88.4" r="0.9" fill="#1a60ec"/><circle cx="829.4" cy="71.6" r="1.4" fill="#1a60ec"/><circle cx="842.7" cy="57.3" r="1.5" fill="#1a60ec"/><circle cx="829.3" cy="87.4" r="1.3" fill="#1a60ec"/><circle cx="798.9" cy="92.0" r="1.6" fill="#1a60ec"/><circle cx="805.9" cy="47.2" r="1.5" fill="#1a60ec"/><circle cx="836.4" cy="67.2" r="1.1" fill="#48d0fa"/><circle cx="850.4" cy="48.9" r="1.7" fill="#1a60ec"/><circle cx="850.7" cy="60.9" r="1.4" fill="#1a60ec"/><circle cx="790.5" cy="66.6" r="1.6" fill="#1a60ec"/><circle cx="795.4" cy="67.7" r="1.1" fill="#1a60ec"/><circle cx="792.6" cy="65.0" r="1.3" fill="#1a60ec"/><circle cx="843.9" cy="88.1" r="1.6" fill="#1a60ec"/><circle cx="813.4" cy="90.9" r="1.7" fill="#48d0fa"/><circle cx="790.8" cy="72.8" r="1.7" fill="#48d0fa"/><circle cx="837.3" cy="61.1" r="1.5" fill="#48d0fa"/><circle cx="803.2" cy="79.3" r="1.1" fill="#1a60ec"/><circle cx="792.7" cy="64.3" r="0.9" fill="#1a60ec"/><circle cx="853.0" cy="62.0" r="1.0" fill="#1a60ec"/><circle cx="797.1" cy="60.3" r="1.0" fill="#48d0fa"/><circle cx="830.2" cy="51.1" r="1.1" fill="#48d0fa"/><circle cx="828.6" cy="77.7" r="1.7" fill="#1a60ec"/><circle cx="832.0" cy="60.0" r="1.3" fill="#1a60ec"/><circle cx="856.5" cy="81.9" r="1.7" fill="#1a60ec"/><circle cx="824.6" cy="83.4" r="1.2" fill="#1a60ec"/><circle cx="854.3" cy="85.9" r="1.4" fill="#48d0fa"/><circle cx="804.2" cy="62.4" r="1.3" fill="#48d0fa"/><circle cx="835.4" cy="82.9" r="1.4" fill="#1a60ec"/><circle cx="812.2" cy="50.7" r="1.7" fill="#1a60ec"/><circle cx="857.0" cy="65.8" r="1.4" fill="#1a60ec"/><circle cx="797.6" cy="65.1" r="1.4" fill="#1a60ec"/><circle cx="807.0" cy="59.0" r="1.1" fill="#1a60ec"/><circle cx="840.0" cy="85.5" r="1.0" fill="#1a60ec"/><circle cx="826.4" cy="59.2" r="1.6" fill="#1a60ec"/><circle cx="823.3" cy="73.7" r="1.6" fill="#48d0fa"/><circle cx="853.8" cy="53.0" r="1.5" fill="#48d0fa"/><circle cx="845.5" cy="83.4" r="1.0" fill="#1a60ec"/><circle cx="823.3" cy="69.9" r="0.9" fill="#1a60ec"/><circle cx="816.4" cy="74.5" r="1.1" fill="#1a60ec"/><circle cx="826.4" cy="72.5" r="1.0" fill="#48d0fa"/><circle cx="852.0" cy="57.0" r="1.5" fill="#48d0fa"/><circle cx="856.3" cy="45.2" r="1.4" fill="#1a60ec"/><circle cx="810.6" cy="53.1" r="1.2" fill="#48d0fa"/><circle cx="814.4" cy="85.1" r="0.9" fill="#48d0fa"/><circle cx="837.0" cy="82.3" r="1.5" fill="#1a60ec"/><circle cx="841.1" cy="55.6" r="1.7" fill="#1a60ec"/><circle cx="852.5" cy="53.3" r="1.2" fill="#48d0fa"/><circle cx="846.2" cy="85.0" r="1.4" fill="#1a60ec"/><circle cx="814.0" cy="61.2" r="1.0" fill="#48d0fa"/><circle cx="802.1" cy="78.3" r="1.3" fill="#48d0fa"/><circle cx="803.2" cy="61.1" r="1.7" fill="#48d0fa"/><circle cx="848.2" cy="80.2" r="1.5" fill="#48d0fa"/><circle cx="828.5" cy="89.3" r="1.7" fill="#48d0fa"/><circle cx="840.6" cy="71.5" r="1.3" fill="#48d0fa"/><circle cx="850.8" cy="85.4" r="1.7" fill="#1a60ec"/><circle cx="795.2" cy="64.2" r="0.9" fill="#1a60ec"/><circle cx="818.4" cy="83.7" r="1.0" fill="#1a60ec"/><circle cx="845.0" cy="57.5" r="1.2" fill="#1a60ec"/><circle cx="839.8" cy="87.3" r="1.8" fill="#1a60ec"/><circle cx="843.2" cy="60.2" r="1.2" fill="#48d0fa"/><circle cx="849.1" cy="75.8" r="1.4" fill="#48d0fa"/><circle cx="800.9" cy="78.9" r="1.4" fill="#48d0fa"/><circle cx="813.2" cy="63.1" r="1.7" fill="#1a60ec"/><circle cx="796.2" cy="51.5" r="1.6" fill="#48d0fa"/><circle cx="853.3" cy="76.6" r="1.3" fill="#48d0fa"/><circle cx="844.8" cy="91.0" r="1.5" fill="#48d0fa"/><circle cx="843.9" cy="83.9" r="0.9" fill="#48d0fa"/><circle cx="854.6" cy="65.2" r="1.5" fill="#48d0fa"/><circle cx="794.3" cy="46.6" r="1.7" fill="#48d0fa"/><circle cx="826.8" cy="84.1" r="1.4" fill="#1a60ec"/><circle cx="842.9" cy="58.8" r="1.7" fill="#1a60ec"/><circle cx="803.1" cy="52.1" r="1.2" fill="#48d0fa"/><circle cx="835.4" cy="63.9" r="1.1" fill="#48d0fa"/><circle cx="840.2" cy="88.2" r="1.4" fill="#1a60ec"/><circle cx="853.2" cy="47.6" r="1.2" fill="#1a60ec"/><circle cx="817.0" cy="64.6" r="1.2" fill="#1a60ec"/><circle cx="788.6" cy="63.0" r="1.3" fill="#1a60ec"/><circle cx="828.9" cy="45.1" r="1.4" fill="#48d0fa"/><circle cx="853.6" cy="87.7" r="1.6" fill="#1a60ec"/><circle cx="824.9" cy="78.8" r="1.6" fill="#48d0fa"/><circle cx="819.4" cy="52.8" r="1.0" fill="#48d0fa"/><circle cx="807.6" cy="84.4" r="1.3" fill="#1a60ec"/><circle cx="853.6" cy="84.3" r="1.6" fill="#48d0fa"/><circle cx="797.9" cy="62.9" r="1.1" fill="#48d0fa"/><circle cx="852.1" cy="85.0" r="1.3" fill="#1a60ec"/><circle cx="822.0" cy="45.6" r="1.3" fill="#48d0fa"/><circle cx="802.6" cy="59.4" r="1.4" fill="#1a60ec"/><circle cx="855.9" cy="66.4" r="1.7" fill="#1a60ec"/><circle cx="843.2" cy="65.9" r="1.1" fill="#48d0fa"/><circle cx="843.4" cy="91.7" r="1.3" fill="#1a60ec"/><circle cx="809.8" cy="50.6" r="1.2" fill="#1a60ec"/><circle cx="787.4" cy="71.9" r="1.4" fill="#1a60ec"/><circle cx="852.2" cy="82.2" r="1.0" fill="#1a60ec"/><circle cx="831.5" cy="45.3" r="1.0" fill="#48d0fa"/><circle cx="828.7" cy="67.0" r="1.5" fill="#48d0fa"/><circle cx="811.6" cy="61.6" r="1.0" fill="#1a60ec"/><circle cx="799.9" cy="56.2" r="0.9" fill="#48d0fa"/><circle cx="846.8" cy="45.7" r="1.7" fill="#48d0fa"/><circle cx="829.1" cy="61.0" r="1.5" fill="#48d0fa"/><circle cx="829.4" cy="78.3" r="1.2" fill="#1a60ec"/><circle cx="842.0" cy="76.3" r="1.4" fill="#48d0fa"/><circle cx="800.1" cy="78.0" r="1.1" fill="#48d0fa"/><circle cx="808.4" cy="64.3" r="0.9" fill="#48d0fa"/><circle cx="852.8" cy="91.4" r="1.5" fill="#48d0fa"/><circle cx="814.5" cy="85.0" r="1.0" fill="#1a60ec"/><circle cx="831.3" cy="56.7" r="1.0" fill="#1a60ec"/><circle cx="841.2" cy="85.2" r="0.9" fill="#48d0fa"/><circle cx="838.3" cy="79.3" r="1.1" fill="#1a60ec"/><circle cx="810.3" cy="57.7" r="1.8" fill="#1a60ec"/><circle cx="840.1" cy="68.0" r="1.0" fill="#1a60ec"/><circle cx="826.5" cy="61.4" r="1.0" fill="#48d0fa"/><circle cx="817.5" cy="69.9" r="1.2" fill="#48d0fa"/><circle cx="808.4" cy="82.6" r="1.4" fill="#48d0fa"/><circle cx="792.6" cy="68.5" r="0.9" fill="#1a60ec"/><circle cx="841.1" cy="71.5" r="1.6" fill="#1a60ec"/><circle cx="843.9" cy="68.7" r="1.7" fill="#48d0fa"/><circle cx="823.9" cy="86.4" r="1.1" fill="#48d0fa"/><circle cx="788.4" cy="72.3" r="1.2" fill="#48d0fa"/><circle cx="835.5" cy="62.9" r="1.0" fill="#48d0fa"/><circle cx="788.2" cy="62.3" r="1.7" fill="#1a60ec"/><circle cx="831.7" cy="90.5" r="1.7" fill="#1a60ec"/><circle cx="855.6" cy="85.8" r="1.0" fill="#48d0fa"/><circle cx="850.0" cy="49.2" r="1.1" fill="#1a60ec"/><circle cx="795.4" cy="90.6" r="1.7" fill="#48d0fa"/><circle cx="840.7" cy="45.1" r="1.2" fill="#1a60ec"/><circle cx="824.8" cy="56.1" r="0.9" fill="#1a60ec"/><circle cx="808.4" cy="68.0" r="1.8" fill="#48d0fa"/><circle cx="836.4" cy="57.6" r="1.2" fill="#48d0fa"/><circle cx="802.6" cy="80.8" r="1.2" fill="#48d0fa"/><circle cx="831.8" cy="50.5" r="1.6" fill="#48d0fa"/><circle cx="851.9" cy="70.1" r="1.6" fill="#1a60ec"/><circle cx="856.5" cy="60.5" r="1.1" fill="#1a60ec"/><circle cx="810.4" cy="81.1" r="1.1" fill="#48d0fa"/><circle cx="801.7" cy="52.9" r="1.0" fill="#48d0fa"/><circle cx="802.8" cy="63.2" r="1.7" fill="#48d0fa"/><circle cx="815.8" cy="83.0" r="1.1" fill="#1a60ec"/><circle cx="813.2" cy="73.2" r="1.6" fill="#48d0fa"/><circle cx="802.8" cy="49.8" r="1.0" fill="#1a60ec"/><circle cx="840.8" cy="71.0" r="1.7" fill="#1a60ec"/><circle cx="831.9" cy="92.0" r="1.1" fill="#48d0fa"/><circle cx="799.8" cy="86.2" r="1.3" fill="#1a60ec"/><circle cx="813.0" cy="66.5" r="1.4" fill="#1a60ec"/><circle cx="806.4" cy="90.9" r="1.2" fill="#1a60ec"/><circle cx="816.9" cy="84.0" r="1.5" fill="#48d0fa"/><circle cx="801.9" cy="80.4" r="1.7" fill="#48d0fa"/><circle cx="849.6" cy="63.1" r="1.5" fill="#48d0fa"/><circle cx="851.7" cy="52.2" r="1.6" fill="#48d0fa"/><circle cx="797.3" cy="91.8" r="1.5" fill="#48d0fa"/><circle cx="789.0" cy="66.1" r="1.1" fill="#48d0fa"/><circle cx="856.7" cy="71.5" r="1.6" fill="#1a60ec"/><circle cx="851.3" cy="58.1" r="1.2" fill="#1a60ec"/><circle cx="792.2" cy="64.2" r="1.2" fill="#1a60ec"/><circle cx="806.9" cy="75.9" r="1.4" fill="#1a60ec"/><circle cx="793.8" cy="78.4" r="1.4" fill="#48d0fa"/><circle cx="831.9" cy="69.1" r="1.3" fill="#1a60ec"/><circle cx="848.5" cy="75.9" r="1.7" fill="#48d0fa"/><circle cx="832.3" cy="56.7" r="1.6" fill="#48d0fa"/><circle cx="802.6" cy="56.1" r="1.8" fill="#1a60ec"/><circle cx="807.1" cy="81.2" r="0.9" fill="#1a60ec"/><circle cx="838.0" cy="54.0" r="1.5" fill="#48d0fa"/><circle cx="806.0" cy="73.8" r="1.0" fill="#1a60ec"/><circle cx="790.6" cy="76.5" r="1.3" fill="#48d0fa"/><circle cx="813.4" cy="90.7" r="1.7" fill="#1a60ec"/><circle cx="796.7" cy="70.8" r="1.6" fill="#48d0fa"/><circle cx="827.1" cy="90.5" r="1.8" fill="#48d0fa"/><circle cx="829.3" cy="50.1" r="1.4" fill="#48d0fa"/><circle cx="805.6" cy="81.6" r="1.7" fill="#48d0fa"/><circle cx="819.5" cy="69.5" r="1.6" fill="#48d0fa"/><circle cx="837.0" cy="48.3" r="1.0" fill="#48d0fa"/><circle cx="807.6" cy="49.9" r="0.9" fill="#48d0fa"/><circle cx="852.9" cy="60.3" r="1.5" fill="#1a60ec"/><circle cx="854.0" cy="78.8" r="1.2" fill="#1a60ec"/><circle cx="832.5" cy="57.0" r="1.5" fill="#1a60ec"/><circle cx="794.6" cy="74.5" r="1.7" fill="#48d0fa"/><circle cx="814.7" cy="75.2" r="1.5" fill="#48d0fa"/><circle cx="814.2" cy="64.4" r="1.1" fill="#48d0fa"/><circle cx="853.9" cy="68.9" r="1.2" fill="#1a60ec"/><circle cx="799.2" cy="79.4" r="1.0" fill="#1a60ec"/><circle cx="815.0" cy="83.2" r="0.9" fill="#1a60ec"/><circle cx="815.3" cy="69.8" r="1.1" fill="#48d0fa"/><circle cx="804.8" cy="67.9" r="1.8" fill="#48d0fa"/><circle cx="822.1" cy="51.2" r="1.0" fill="#48d0fa"/><circle cx="823.4" cy="77.1" r="1.2" fill="#1a60ec"/><circle cx="828.8" cy="48.9" r="1.3" fill="#1a60ec"/><circle cx="842.0" cy="75.7" r="1.3" fill="#1a60ec"/><circle cx="826.3" cy="66.7" r="1.3" fill="#1a60ec"/><circle cx="809.7" cy="65.9" r="1.3" fill="#48d0fa"/><circle cx="851.3" cy="48.4" r="1.1" fill="#1a60ec"/><circle cx="822.9" cy="90.3" r="1.4" fill="#48d0fa"/><circle cx="804.6" cy="61.0" r="1.7" fill="#1a60ec"/><circle cx="789.1" cy="77.8" r="1.4" fill="#1a60ec"/><circle cx="855.7" cy="60.2" r="1.8" fill="#48d0fa"/><circle cx="832.1" cy="77.1" r="1.1" fill="#1a60ec"/><circle cx="801.5" cy="56.5" r="1.1" fill="#48d0fa"/><circle cx="836.4" cy="92.2" r="1.0" fill="#48d0fa"/><circle cx="835.6" cy="90.7" r="1.8" fill="#1a60ec"/><circle cx="851.8" cy="68.5" r="1.4" fill="#1a60ec"/><circle cx="803.2" cy="66.1" r="1.6" fill="#1a60ec"/><circle cx="857.0" cy="48.0" r="1.1" fill="#1a60ec"/><circle cx="830.5" cy="63.2" r="1.3" fill="#48d0fa"/><circle cx="789.0" cy="53.2" r="1.5" fill="#48d0fa"/><circle cx="836.4" cy="80.1" r="1.1" fill="#1a60ec"/><circle cx="797.5" cy="66.4" r="1.5" fill="#48d0fa"/><circle cx="824.1" cy="48.5" r="1.5" fill="#48d0fa"/><circle cx="798.3" cy="65.8" r="1.2" fill="#48d0fa"/><circle cx="830.0" cy="77.2" r="1.7" fill="#48d0fa"/><circle cx="823.9" cy="62.9" r="1.3" fill="#48d0fa"/><circle cx="811.3" cy="84.8" r="1.0" fill="#48d0fa"/><circle cx="824.1" cy="72.4" r="1.8" fill="#1a60ec"/><circle cx="834.2" cy="77.3" r="1.1" fill="#48d0fa"/><circle cx="833.6" cy="46.4" r="1.6" fill="#1a60ec"/><circle cx="844.7" cy="88.9" r="1.4" fill="#1a60ec"/><circle cx="794.3" cy="48.6" r="0.9" fill="#48d0fa"/><circle cx="788.4" cy="79.8" r="1.3" fill="#1a60ec"/><circle cx="811.1" cy="57.8" r="1.7" fill="#48d0fa"/><circle cx="842.5" cy="48.1" r="1.2" fill="#1a60ec"/><circle cx="842.0" cy="84.9" r="0.9" fill="#1a60ec"/><circle cx="833.2" cy="45.1" r="1.1" fill="#1a60ec"/><circle cx="799.7" cy="60.0" r="1.2" fill="#48d0fa"/><circle cx="843.0" cy="65.4" r="1.3" fill="#1a60ec"/><circle cx="827.9" cy="88.1" r="1.1" fill="#1a60ec"/><circle cx="794.8" cy="68.4" r="1.2" fill="#1a60ec"/><circle cx="802.0" cy="56.7" r="1.1" fill="#1a60ec"/><circle cx="856.4" cy="76.9" r="1.1" fill="#48d0fa"/><circle cx="820.6" cy="49.3" r="1.5" fill="#48d0fa"/><circle cx="795.0" cy="88.7" r="1.4" fill="#48d0fa"/><circle cx="825.8" cy="73.1" r="1.6" fill="#48d0fa"/><circle cx="811.8" cy="56.2" r="1.2" fill="#1a60ec"/><circle cx="810.6" cy="91.5" r="1.2" fill="#48d0fa"/><circle cx="816.9" cy="73.1" r="1.2" fill="#1a60ec"/><circle cx="834.2" cy="77.4" r="1.6" fill="#48d0fa"/><circle cx="814.4" cy="55.9" r="1.0" fill="#48d0fa"/><circle cx="836.1" cy="86.2" r="1.0" fill="#48d0fa"/><circle cx="836.7" cy="61.5" r="1.8" fill="#1a60ec"/><circle cx="815.4" cy="48.5" r="1.5" fill="#48d0fa"/><circle cx="853.7" cy="49.0" r="1.0" fill="#48d0fa"/><circle cx="795.8" cy="50.0" r="1.6" fill="#48d0fa"/><circle cx="840.5" cy="54.5" r="1.3" fill="#48d0fa"/><circle cx="801.4" cy="56.2" r="1.4" fill="#1a60ec"/><circle cx="788.9" cy="70.4" r="1.3" fill="#48d0fa"/><circle cx="790.4" cy="62.3" r="1.5" fill="#48d0fa"/><circle cx="786.8" cy="72.4" r="1.0" fill="#1a60ec"/><circle cx="823.0" cy="75.0" r="1.7" fill="#1a60ec"/><circle cx="828.0" cy="57.2" r="1.5" fill="#1a60ec"/><circle cx="841.5" cy="46.3" r="1.3" fill="#1a60ec"/><circle cx="849.4" cy="70.8" r="1.4" fill="#48d0fa"/><circle cx="814.1" cy="56.2" r="1.0" fill="#1a60ec"/><circle cx="855.5" cy="55.4" r="1.4" fill="#48d0fa"/><circle cx="797.9" cy="54.0" r="1.4" fill="#1a60ec"/><circle cx="788.2" cy="86.7" r="1.0" fill="#48d0fa"/><circle cx="828.0" cy="62.0" r="1.2" fill="#1a60ec"/><circle cx="853.9" cy="63.6" r="1.0" fill="#48d0fa"/><circle cx="848.6" cy="59.9" r="1.1" fill="#1a60ec"/><circle cx="846.5" cy="51.4" r="1.5" fill="#1a60ec"/><circle cx="797.3" cy="86.2" r="1.7" fill="#48d0fa"/><circle cx="801.7" cy="86.8" r="1.7" fill="#1a60ec"/><circle cx="825.2" cy="82.6" r="1.4" fill="#1a60ec"/><circle cx="820.4" cy="53.7" r="1.8" fill="#1a60ec"/><circle cx="805.2" cy="89.9" r="1.2" fill="#48d0fa"/><circle cx="833.2" cy="75.9" r="1.2" fill="#48d0fa"/><circle cx="833.9" cy="51.6" r="1.7" fill="#1a60ec"/><circle cx="802.9" cy="47.5" r="1.5" fill="#48d0fa"/><circle cx="840.9" cy="91.4" r="1.5" fill="#48d0fa"/><circle cx="796.3" cy="55.5" r="1.6" fill="#1a60ec"/><circle cx="853.1" cy="71.5" r="1.0" fill="#1a60ec"/><circle cx="796.7" cy="56.2" r="1.8" fill="#1a60ec"/><circle cx="811.2" cy="48.6" r="1.2" fill="#1a60ec"/><circle cx="830.9" cy="81.6" r="1.8" fill="#48d0fa"/><circle cx="835.9" cy="87.8" r="1.2" fill="#48d0fa"/><circle cx="800.0" cy="80.4" r="1.2" fill="#1a60ec"/><circle cx="814.9" cy="60.1" r="1.2" fill="#48d0fa"/><circle cx="794.2" cy="61.6" r="1.4" fill="#1a60ec"/><circle cx="793.8" cy="57.2" r="1.0" fill="#48d0fa"/><circle cx="799.5" cy="63.6" r="1.4" fill="#1a60ec"/><circle cx="819.5" cy="75.1" r="1.4" fill="#1a60ec"/><circle cx="792.6" cy="88.9" r="1.0" fill="#1a60ec"/><circle cx="854.4" cy="68.2" r="1.1" fill="#1a60ec"/><circle cx="797.4" cy="71.3" r="1.4" fill="#1a60ec"/><circle cx="851.3" cy="84.2" r="1.4" fill="#1a60ec"/><circle cx="835.4" cy="87.4" r="1.8" fill="#48d0fa"/><circle cx="851.7" cy="76.1" r="1.7" fill="#48d0fa"/><circle cx="845.1" cy="62.6" r="1.7" fill="#48d0fa"/><circle cx="827.5" cy="61.9" r="1.5" fill="#1a60ec"/><circle cx="806.2" cy="55.0" r="1.7" fill="#1a60ec"/><circle cx="844.0" cy="54.5" r="1.2" fill="#1a60ec"/><circle cx="826.4" cy="48.4" r="1.6" fill="#1a60ec"/><circle cx="852.1" cy="46.4" r="1.5" fill="#48d0fa"/><circle cx="811.5" cy="84.0" r="1.5" fill="#1a60ec"/><circle cx="806.3" cy="76.5" r="1.8" fill="#48d0fa"/><circle cx="837.6" cy="59.9" r="1.6" fill="#1a60ec"/><circle cx="846.6" cy="70.0" r="1.4" fill="#1a60ec"/><circle cx="808.1" cy="87.6" r="1.1" fill="#48d0fa"/><circle cx="789.5" cy="53.9" r="1.5" fill="#48d0fa"/><circle cx="840.8" cy="74.4" r="1.2" fill="#48d0fa"/><circle cx="841.0" cy="81.6" r="1.8" fill="#1a60ec"/><circle cx="816.3" cy="56.8" r="1.5" fill="#1a60ec"/><circle cx="830.1" cy="88.3" r="1.3" fill="#1a60ec"/><circle cx="841.3" cy="58.9" r="1.8" fill="#48d0fa"/><circle cx="826.3" cy="78.6" r="1.6" fill="#1a60ec"/><circle cx="838.2" cy="91.7" r="1.4" fill="#1a60ec"/><circle cx="853.2" cy="64.8" r="1.6" fill="#48d0fa"/><circle cx="850.9" cy="91.1" r="1.1" fill="#1a60ec"/><circle cx="832.7" cy="78.8" r="1.7" fill="#48d0fa"/><circle cx="838.5" cy="78.3" r="1.2" fill="#1a60ec"/><circle cx="830.9" cy="64.0" r="1.0" fill="#48d0fa"/><circle cx="821.8" cy="58.3" r="1.6" fill="#48d0fa"/><circle cx="788.3" cy="75.5" r="1.8" fill="#48d0fa"/><circle cx="818.8" cy="77.8" r="1.0" fill="#1a60ec"/><circle cx="802.2" cy="88.2" r="1.1" fill="#48d0fa"/><circle cx="821.1" cy="58.7" r="1.5" fill="#1a60ec"/><circle cx="824.8" cy="86.0" r="0.9" fill="#1a60ec"/><circle cx="829.3" cy="74.7" r="1.6" fill="#1a60ec"/><circle cx="847.7" cy="91.2" r="1.0" fill="#1a60ec"/><circle cx="797.1" cy="55.1" r="1.8" fill="#48d0fa"/><circle cx="853.0" cy="89.6" r="1.0" fill="#1a60ec"/><circle cx="848.6" cy="79.6" r="1.8" fill="#48d0fa"/><circle cx="830.5" cy="73.5" r="1.3" fill="#48d0fa"/><circle cx="793.1" cy="91.0" r="1.1" fill="#48d0fa"/><circle cx="820.7" cy="47.5" r="1.8" fill="#48d0fa"/><circle cx="796.4" cy="64.5" r="1.6" fill="#1a60ec"/><circle cx="793.2" cy="70.1" r="1.2" fill="#48d0fa"/><circle cx="838.4" cy="86.6" r="1.5" fill="#1a60ec"/><circle cx="848.5" cy="55.1" r="1.3" fill="#48d0fa"/><circle cx="809.3" cy="76.3" r="1.6" fill="#1a60ec"/><circle cx="830.3" cy="83.7" r="1.8" fill="#1a60ec"/><circle cx="839.4" cy="46.2" r="1.2" fill="#48d0fa"/><circle cx="826.4" cy="44.9" r="1.6" fill="#1a60ec"/><circle cx="844.9" cy="66.6" r="1.1" fill="#48d0fa"/><circle cx="801.1" cy="92.0" r="1.7" fill="#1a60ec"/><circle cx="841.0" cy="87.5" r="1.3" fill="#48d0fa"/><circle cx="790.3" cy="58.6" r="1.3" fill="#48d0fa"/><circle cx="822.9" cy="64.1" r="1.8" fill="#1a60ec"/><circle cx="831.1" cy="72.0" r="1.3" fill="#48d0fa"/><circle cx="816.6" cy="66.9" r="1.6" fill="#48d0fa"/><circle cx="843.6" cy="88.4" r="1.0" fill="#1a60ec"/><circle cx="835.9" cy="76.1" r="1.4" fill="#1a60ec"/><circle cx="846.4" cy="55.4" r="1.6" fill="#1a60ec"/><circle cx="825.5" cy="90.6" r="1.1" fill="#48d0fa"/><circle cx="827.6" cy="83.6" r="1.1" fill="#1a60ec"/><circle cx="823.3" cy="53.7" r="1.3" fill="#48d0fa"/><circle cx="819.8" cy="88.7" r="1.3" fill="#48d0fa"/><circle cx="832.3" cy="63.4" r="1.0" fill="#48d0fa"/><circle cx="826.3" cy="52.2" r="0.9" fill="#48d0fa"/><circle cx="811.8" cy="73.8" r="1.1" fill="#48d0fa"/><circle cx="849.6" cy="90.7" r="1.4" fill="#1a60ec"/><circle cx="811.6" cy="88.9" r="1.7" fill="#1a60ec"/><circle cx="856.6" cy="48.6" r="1.4" fill="#1a60ec"/><circle cx="787.4" cy="64.0" r="1.6" fill="#48d0fa"/><circle cx="797.6" cy="85.7" r="1.3" fill="#48d0fa"/><circle cx="842.9" cy="55.9" r="1.0" fill="#48d0fa"/><circle cx="849.1" cy="53.0" r="1.6" fill="#1a60ec"/><circle cx="813.4" cy="91.5" r="1.5" fill="#1a60ec"/><circle cx="816.9" cy="51.3" r="0.9" fill="#48d0fa"/><circle cx="855.7" cy="71.9" r="1.3" fill="#1a60ec"/><circle cx="834.1" cy="79.5" r="1.3" fill="#1a60ec"/><circle cx="853.7" cy="83.7" r="1.0" fill="#1a60ec"/><circle cx="804.3" cy="80.5" r="1.1" fill="#1a60ec"/><circle cx="826.6" cy="55.9" r="1.8" fill="#1a60ec"/><circle cx="815.8" cy="69.8" r="1.5" fill="#1a60ec"/><circle cx="852.4" cy="70.2" r="1.7" fill="#1a60ec"/><circle cx="832.3" cy="78.9" r="1.1" fill="#48d0fa"/><circle cx="827.3" cy="87.8" r="1.3" fill="#1a60ec"/><circle cx="849.2" cy="56.4" r="1.3" fill="#1a60ec"/><circle cx="850.9" cy="69.1" r="1.2" fill="#1a60ec"/><circle cx="819.2" cy="88.6" r="1.5" fill="#1a60ec"/><circle cx="855.6" cy="86.2" r="1.8" fill="#48d0fa"/><circle cx="810.1" cy="48.3" r="1.2" fill="#1a60ec"/><circle cx="851.6" cy="55.2" r="1.2" fill="#1a60ec"/><circle cx="818.9" cy="88.4" r="1.2" fill="#1a60ec"/><circle cx="804.2" cy="54.4" r="1.5" fill="#1a60ec"/><circle cx="807.2" cy="61.2" r="1.0" fill="#48d0fa"/><circle cx="831.1" cy="65.3" r="1.4" fill="#1a60ec"/><circle cx="813.5" cy="61.1" r="1.7" fill="#1a60ec"/><circle cx="798.1" cy="65.7" r="1.1" fill="#1a60ec"/><circle cx="852.6" cy="67.0" r="1.1" fill="#1a60ec"/><circle cx="791.6" cy="69.5" r="1.1" fill="#48d0fa"/><circle cx="843.3" cy="69.0" r="1.1" fill="#1a60ec"/><circle cx="786.9" cy="60.7" r="1.5" fill="#1a60ec"/><circle cx="837.2" cy="57.2" r="1.1" fill="#1a60ec"/><circle cx="808.2" cy="89.5" r="1.0" fill="#1a60ec"/><circle cx="791.0" cy="68.7" r="1.4" fill="#1a60ec"/><circle cx="816.1" cy="72.2" r="1.0" fill="#1a60ec"/><circle cx="786.8" cy="46.3" r="1.7" fill="#1a60ec"/><circle cx="831.8" cy="73.5" r="1.1" fill="#1a60ec"/><circle cx="839.1" cy="83.7" r="1.8" fill="#1a60ec"/><circle cx="830.3" cy="78.2" r="1.2" fill="#48d0fa"/><circle cx="848.0" cy="81.0" r="1.3" fill="#1a60ec"/><circle cx="852.1" cy="59.3" r="1.2" fill="#1a60ec"/><circle cx="796.1" cy="88.5" r="1.3" fill="#1a60ec"/><circle cx="812.4" cy="57.2" r="1.0" fill="#48d0fa"/><circle cx="802.9" cy="61.6" r="1.1" fill="#48d0fa"/><circle cx="847.6" cy="59.9" r="1.7" fill="#1a60ec"/><circle cx="854.6" cy="51.2" r="1.2" fill="#1a60ec"/><circle cx="827.8" cy="80.1" r="1.5" fill="#48d0fa"/><circle cx="843.2" cy="85.2" r="1.3" fill="#1a60ec"/><circle cx="788.2" cy="65.6" r="0.9" fill="#48d0fa"/><circle cx="794.1" cy="59.5" r="1.2" fill="#1a60ec"/><circle cx="806.1" cy="54.5" r="1.2" fill="#1a60ec"/><circle cx="804.0" cy="67.1" r="1.8" fill="#1a60ec"/><circle cx="842.5" cy="61.5" r="1.0" fill="#48d0fa"/><circle cx="797.7" cy="62.9" r="1.3" fill="#1a60ec"/><circle cx="813.5" cy="88.5" r="1.6" fill="#48d0fa"/><circle cx="842.6" cy="67.9" r="1.4" fill="#1a60ec"/><circle cx="788.1" cy="91.2" r="0.9" fill="#1a60ec"/><circle cx="786.9" cy="63.6" r="1.2" fill="#48d0fa"/><circle cx="855.8" cy="61.9" r="1.7" fill="#1a60ec"/><circle cx="851.5" cy="84.5" r="1.7" fill="#1a60ec"/><circle cx="811.4" cy="55.4" r="1.6" fill="#1a60ec"/><circle cx="835.4" cy="81.7" r="1.3" fill="#48d0fa"/><circle cx="844.5" cy="48.9" r="1.6" fill="#1a60ec"/><circle cx="847.4" cy="75.6" r="1.1" fill="#48d0fa"/><circle cx="825.2" cy="88.4" r="1.5" fill="#1a60ec"/><circle cx="851.9" cy="72.7" r="1.6" fill="#1a60ec"/><circle cx="786.9" cy="86.8" r="0.9" fill="#48d0fa"/><circle cx="822.8" cy="57.0" r="1.0" fill="#48d0fa"/></g></g>
<g clip-path="url(#cl2)"><rect x="613.4629784856105" y="155.83039955294774" width="75.24895222129089" height="43.815590947191964" fill="#70c8ee"/><g filter="url(#sm2)"><circle cx="652.5" cy="181.9" r="2.8" fill="#5aa6ec"/><circle cx="672.8" cy="172.5" r="2.9" fill="#5aa6ec"/><circle cx="680.1" cy="180.0" r="3.4" fill="#5aa6ec"/><circle cx="662.0" cy="161.7" r="2.9" fill="#5aa6ec"/><circle cx="678.8" cy="185.5" r="1.9" fill="#92e2d6"/><circle cx="634.6" cy="184.7" r="2.8" fill="#5aa6ec"/><circle cx="644.0" cy="158.3" r="3.0" fill="#92e2d6"/><circle cx="623.9" cy="176.1" r="2.2" fill="#92e2d6"/><circle cx="668.6" cy="171.8" r="2.4" fill="#92e2d6"/><circle cx="654.8" cy="178.4" r="2.6" fill="#5aa6ec"/><circle cx="670.6" cy="189.5" r="2.6" fill="#5aa6ec"/><circle cx="663.5" cy="168.9" r="2.0" fill="#5aa6ec"/><circle cx="615.6" cy="183.5" r="2.2" fill="#92e2d6"/><circle cx="652.3" cy="161.2" r="3.6" fill="#5aa6ec"/><circle cx="679.9" cy="176.2" r="3.0" fill="#5aa6ec"/><circle cx="670.2" cy="166.9" r="3.2" fill="#5aa6ec"/><circle cx="632.2" cy="189.3" r="2.2" fill="#5aa6ec"/><circle cx="681.3" cy="161.8" r="1.8" fill="#92e2d6"/><circle cx="674.9" cy="180.5" r="2.2" fill="#5aa6ec"/><circle cx="663.2" cy="164.6" r="3.4" fill="#5aa6ec"/><circle cx="645.0" cy="183.7" r="2.6" fill="#5aa6ec"/><circle cx="641.9" cy="194.5" r="3.4" fill="#5aa6ec"/><circle cx="626.5" cy="188.9" r="2.0" fill="#92e2d6"/><circle cx="654.0" cy="159.1" r="1.9" fill="#5aa6ec"/><circle cx="630.0" cy="189.9" r="3.0" fill="#5aa6ec"/><circle cx="656.7" cy="162.6" r="3.2" fill="#92e2d6"/><circle cx="656.1" cy="162.0" r="2.4" fill="#5aa6ec"/><circle cx="678.7" cy="192.9" r="2.2" fill="#92e2d6"/><circle cx="624.6" cy="177.8" r="3.5" fill="#92e2d6"/><circle cx="643.9" cy="159.9" r="3.4" fill="#5aa6ec"/><circle cx="654.9" cy="184.9" r="2.9" fill="#5aa6ec"/><circle cx="621.9" cy="172.4" r="3.4" fill="#5aa6ec"/><circle cx="680.6" cy="177.8" r="3.3" fill="#92e2d6"/><circle cx="622.0" cy="181.3" r="2.7" fill="#92e2d6"/><circle cx="658.3" cy="175.6" r="2.8" fill="#5aa6ec"/><circle cx="619.5" cy="175.2" r="2.9" fill="#5aa6ec"/><circle cx="674.2" cy="189.4" r="1.9" fill="#5aa6ec"/><circle cx="675.9" cy="192.9" r="3.0" fill="#5aa6ec"/><circle cx="685.6" cy="190.7" r="2.7" fill="#5aa6ec"/><circle cx="685.8" cy="175.0" r="3.2" fill="#92e2d6"/><circle cx="632.3" cy="169.1" r="2.7" fill="#5aa6ec"/><circle cx="639.5" cy="179.3" r="2.5" fill="#92e2d6"/><circle cx="682.0" cy="163.0" r="2.5" fill="#5aa6ec"/><circle cx="646.4" cy="172.6" r="3.4" fill="#92e2d6"/><circle cx="669.7" cy="164.0" r="2.2" fill="#5aa6ec"/><circle cx="646.2" cy="187.1" r="3.4" fill="#92e2d6"/><circle cx="672.6" cy="179.3" r="2.3" fill="#92e2d6"/><circle cx="655.6" cy="190.7" r="3.3" fill="#92e2d6"/><circle cx="627.5" cy="188.4" r="1.8" fill="#5aa6ec"/><circle cx="636.6" cy="192.0" r="2.4" fill="#5aa6ec"/><circle cx="648.3" cy="189.5" r="3.4" fill="#92e2d6"/><circle cx="643.6" cy="173.7" r="3.2" fill="#92e2d6"/><circle cx="669.1" cy="193.5" r="2.9" fill="#92e2d6"/><circle cx="648.1" cy="188.7" r="2.0" fill="#5aa6ec"/><circle cx="674.9" cy="176.7" r="1.8" fill="#92e2d6"/><circle cx="633.5" cy="168.0" r="1.8" fill="#5aa6ec"/><circle cx="624.8" cy="196.2" r="2.7" fill="#5aa6ec"/><circle cx="647.0" cy="159.7" r="3.2" fill="#5aa6ec"/><circle cx="679.9" cy="197.5" r="3.5" fill="#92e2d6"/><circle cx="667.4" cy="172.2" r="3.3" fill="#92e2d6"/><circle cx="659.1" cy="166.0" r="2.0" fill="#92e2d6"/><circle cx="649.6" cy="183.1" r="2.8" fill="#5aa6ec"/><circle cx="618.7" cy="188.7" r="2.1" fill="#5aa6ec"/><circle cx="615.8" cy="181.7" r="2.4" fill="#92e2d6"/><circle cx="667.9" cy="186.7" r="3.4" fill="#92e2d6"/><circle cx="642.1" cy="193.7" r="3.0" fill="#92e2d6"/><circle cx="625.9" cy="167.1" r="3.5" fill="#5aa6ec"/><circle cx="671.0" cy="186.9" r="3.1" fill="#92e2d6"/><circle cx="677.7" cy="178.6" r="3.6" fill="#5aa6ec"/><circle cx="620.0" cy="189.0" r="2.9" fill="#5aa6ec"/><circle cx="666.4" cy="182.5" r="2.7" fill="#5aa6ec"/><circle cx="648.9" cy="169.1" r="2.0" fill="#5aa6ec"/><circle cx="627.5" cy="174.7" r="1.8" fill="#92e2d6"/><circle cx="620.6" cy="180.8" r="2.0" fill="#5aa6ec"/><circle cx="618.7" cy="175.6" r="2.5" fill="#5aa6ec"/><circle cx="643.3" cy="169.6" r="2.1" fill="#92e2d6"/><circle cx="639.4" cy="180.1" r="2.0" fill="#92e2d6"/><circle cx="643.6" cy="158.6" r="2.8" fill="#5aa6ec"/><circle cx="648.1" cy="165.3" r="2.7" fill="#5aa6ec"/><circle cx="665.1" cy="161.4" r="3.5" fill="#5aa6ec"/><circle cx="675.8" cy="187.0" r="2.7" fill="#92e2d6"/><circle cx="628.4" cy="185.1" r="2.3" fill="#5aa6ec"/><circle cx="651.7" cy="166.2" r="2.6" fill="#92e2d6"/><circle cx="679.4" cy="167.1" r="1.8" fill="#5aa6ec"/><circle cx="656.5" cy="177.4" r="2.5" fill="#5aa6ec"/><circle cx="660.2" cy="180.6" r="3.2" fill="#5aa6ec"/><circle cx="660.0" cy="168.3" r="2.5" fill="#92e2d6"/><circle cx="619.7" cy="190.4" r="3.1" fill="#92e2d6"/><circle cx="617.9" cy="189.0" r="3.2" fill="#92e2d6"/><circle cx="674.6" cy="184.9" r="2.1" fill="#92e2d6"/><circle cx="624.5" cy="195.2" r="2.0" fill="#92e2d6"/><circle cx="628.6" cy="197.3" r="3.2" fill="#5aa6ec"/><circle cx="645.2" cy="190.1" r="3.4" fill="#5aa6ec"/><circle cx="622.8" cy="165.4" r="3.2" fill="#5aa6ec"/><circle cx="664.3" cy="172.4" r="3.1" fill="#92e2d6"/><circle cx="636.8" cy="188.4" r="3.6" fill="#92e2d6"/><circle cx="621.3" cy="177.1" r="2.8" fill="#5aa6ec"/><circle cx="663.2" cy="167.3" r="2.5" fill="#92e2d6"/><circle cx="658.6" cy="183.6" r="2.3" fill="#92e2d6"/><circle cx="636.6" cy="182.1" r="2.6" fill="#92e2d6"/><circle cx="635.2" cy="189.1" r="2.1" fill="#92e2d6"/><circle cx="616.0" cy="187.2" r="2.4" fill="#5aa6ec"/><circle cx="615.6" cy="173.8" r="2.9" fill="#5aa6ec"/><circle cx="661.9" cy="163.9" r="3.6" fill="#5aa6ec"/><circle cx="681.1" cy="178.7" r="2.6" fill="#92e2d6"/><circle cx="635.9" cy="165.2" r="1.8" fill="#5aa6ec"/><circle cx="632.9" cy="183.6" r="2.4" fill="#5aa6ec"/><circle cx="653.5" cy="173.8" r="1.8" fill="#5aa6ec"/><circle cx="654.8" cy="188.4" r="2.8" fill="#5aa6ec"/><circle cx="621.8" cy="185.0" r="3.4" fill="#5aa6ec"/><circle cx="681.7" cy="189.0" r="3.5" fill="#92e2d6"/><circle cx="620.3" cy="163.4" r="2.8" fill="#5aa6ec"/><circle cx="682.0" cy="193.8" r="3.3" fill="#92e2d6"/><circle cx="664.4" cy="187.9" r="2.9" fill="#5aa6ec"/><circle cx="617.6" cy="163.5" r="2.6" fill="#5aa6ec"/><circle cx="619.5" cy="162.8" r="3.1" fill="#5aa6ec"/><circle cx="632.5" cy="157.9" r="3.1" fill="#5aa6ec"/><circle cx="659.4" cy="170.7" r="3.1" fill="#5aa6ec"/><circle cx="672.1" cy="158.4" r="3.2" fill="#92e2d6"/><circle cx="674.0" cy="175.8" r="2.4" fill="#5aa6ec"/><circle cx="683.8" cy="178.6" r="2.9" fill="#5aa6ec"/><circle cx="681.2" cy="175.7" r="2.9" fill="#5aa6ec"/><circle cx="625.7" cy="192.7" r="3.0" fill="#5aa6ec"/><circle cx="624.9" cy="178.1" r="3.1" fill="#5aa6ec"/><circle cx="634.2" cy="181.3" r="2.8" fill="#92e2d6"/><circle cx="677.6" cy="189.5" r="1.9" fill="#5aa6ec"/><circle cx="615.9" cy="171.7" r="3.1" fill="#92e2d6"/><circle cx="676.4" cy="177.0" r="3.0" fill="#92e2d6"/><circle cx="661.9" cy="180.7" r="2.7" fill="#5aa6ec"/><circle cx="638.4" cy="178.2" r="3.2" fill="#92e2d6"/><circle cx="654.8" cy="164.0" r="2.9" fill="#5aa6ec"/><circle cx="674.6" cy="169.5" r="2.3" fill="#5aa6ec"/><circle cx="650.8" cy="158.1" r="2.0" fill="#92e2d6"/><circle cx="637.8" cy="174.7" r="2.1" fill="#5aa6ec"/><circle cx="648.8" cy="183.0" r="2.5" fill="#5aa6ec"/><circle cx="662.6" cy="168.7" r="1.9" fill="#5aa6ec"/><circle cx="663.4" cy="188.2" r="2.7" fill="#92e2d6"/><circle cx="621.2" cy="186.7" r="3.3" fill="#92e2d6"/><circle cx="666.3" cy="180.1" r="2.7" fill="#5aa6ec"/><circle cx="686.0" cy="195.3" r="3.4" fill="#5aa6ec"/><circle cx="631.7" cy="174.8" r="2.9" fill="#5aa6ec"/><circle cx="618.4" cy="191.8" r="2.2" fill="#92e2d6"/><circle cx="631.8" cy="162.5" r="2.9" fill="#5aa6ec"/><circle cx="674.8" cy="158.3" r="1.9" fill="#92e2d6"/><circle cx="648.8" cy="176.9" r="3.4" fill="#5aa6ec"/><circle cx="669.8" cy="196.2" r="2.8" fill="#92e2d6"/><circle cx="629.7" cy="184.3" r="2.6" fill="#5aa6ec"/><circle cx="682.3" cy="179.6" r="2.7" fill="#5aa6ec"/><circle cx="665.6" cy="192.1" r="2.9" fill="#5aa6ec"/><circle cx="685.8" cy="170.5" r="3.5" fill="#5aa6ec"/><circle cx="619.6" cy="169.4" r="2.9" fill="#5aa6ec"/><circle cx="646.8" cy="181.8" r="2.6" fill="#5aa6ec"/><circle cx="669.3" cy="179.9" r="2.4" fill="#92e2d6"/><circle cx="679.1" cy="184.6" r="3.2" fill="#92e2d6"/><circle cx="655.7" cy="174.4" r="3.3" fill="#5aa6ec"/><circle cx="659.7" cy="175.5" r="3.1" fill="#92e2d6"/><circle cx="654.5" cy="169.8" r="2.8" fill="#92e2d6"/><circle cx="674.0" cy="191.3" r="3.0" fill="#5aa6ec"/><circle cx="619.6" cy="177.3" r="2.6" fill="#5aa6ec"/><circle cx="634.2" cy="192.9" r="3.6" fill="#5aa6ec"/><circle cx="629.2" cy="184.5" r="3.0" fill="#5aa6ec"/><circle cx="659.4" cy="190.7" r="2.1" fill="#5aa6ec"/><circle cx="665.0" cy="159.8" r="2.6" fill="#5aa6ec"/><circle cx="684.0" cy="188.7" r="3.5" fill="#5aa6ec"/><circle cx="661.7" cy="179.1" r="2.0" fill="#92e2d6"/></g></g>
<g clip-path="url(#cl3)"><rect x="742.2274378317966" y="146.05113160100586" width="57.08745459625595" height="71.75635652416878" fill="#3a74e6"/><g filter="url(#sm2)"><circle cx="769.7" cy="187.0" r="2.8" fill="#1e3cd4"/><circle cx="747.0" cy="160.0" r="3.0" fill="#1e3cd4"/><circle cx="776.9" cy="180.3" r="3.1" fill="#66c0f2"/><circle cx="767.4" cy="192.1" r="3.3" fill="#1e3cd4"/><circle cx="765.4" cy="208.8" r="2.2" fill="#66c0f2"/><circle cx="775.5" cy="163.9" r="2.9" fill="#1e3cd4"/><circle cx="784.7" cy="211.9" r="2.5" fill="#66c0f2"/><circle cx="759.8" cy="158.1" r="3.7" fill="#1e3cd4"/><circle cx="773.0" cy="169.6" r="3.9" fill="#1e3cd4"/><circle cx="790.1" cy="181.3" r="2.8" fill="#1e3cd4"/><circle cx="748.3" cy="157.4" r="2.4" fill="#1e3cd4"/><circle cx="788.0" cy="192.0" r="3.1" fill="#1e3cd4"/><circle cx="779.8" cy="198.4" r="3.7" fill="#1e3cd4"/><circle cx="783.3" cy="215.1" r="2.9" fill="#66c0f2"/><circle cx="764.1" cy="150.3" r="3.5" fill="#1e3cd4"/><circle cx="762.3" cy="157.9" r="3.8" fill="#66c0f2"/><circle cx="781.6" cy="205.8" r="2.3" fill="#1e3cd4"/><circle cx="758.2" cy="149.2" r="2.6" fill="#1e3cd4"/><circle cx="756.5" cy="184.5" r="3.1" fill="#66c0f2"/><circle cx="758.1" cy="157.4" r="4.2" fill="#1e3cd4"/><circle cx="749.0" cy="152.1" r="2.5" fill="#1e3cd4"/><circle cx="763.0" cy="148.9" r="3.4" fill="#1e3cd4"/><circle cx="786.2" cy="184.0" r="3.7" fill="#66c0f2"/><circle cx="776.6" cy="149.5" r="3.2" fill="#1e3cd4"/><circle cx="760.0" cy="207.9" r="2.1" fill="#1e3cd4"/><circle cx="796.0" cy="195.8" r="3.8" fill="#66c0f2"/><circle cx="771.8" cy="204.7" r="2.4" fill="#1e3cd4"/><circle cx="783.8" cy="197.6" r="3.3" fill="#1e3cd4"/><circle cx="778.6" cy="160.7" r="3.0" fill="#1e3cd4"/><circle cx="792.6" cy="173.4" r="2.6" fill="#1e3cd4"/><circle cx="791.4" cy="170.3" r="2.9" fill="#1e3cd4"/><circle cx="777.9" cy="195.2" r="2.6" fill="#1e3cd4"/><circle cx="747.4" cy="207.3" r="2.2" fill="#66c0f2"/><circle cx="747.2" cy="177.9" r="3.9" fill="#1e3cd4"/><circle cx="795.0" cy="191.4" r="4.1" fill="#1e3cd4"/><circle cx="794.3" cy="184.8" r="4.0" fill="#1e3cd4"/><circle cx="790.1" cy="157.5" r="3.6" fill="#1e3cd4"/><circle cx="766.1" cy="181.3" r="3.3" fill="#66c0f2"/><circle cx="745.3" cy="206.1" r="2.8" fill="#1e3cd4"/><circle cx="771.8" cy="183.3" r="2.5" fill="#66c0f2"/><circle cx="765.4" cy="212.4" r="2.9" fill="#1e3cd4"/><circle cx="789.4" cy="210.3" r="2.9" fill="#66c0f2"/><circle cx="791.9" cy="181.2" r="3.1" fill="#1e3cd4"/><circle cx="754.8" cy="208.5" r="3.7" fill="#66c0f2"/><circle cx="775.2" cy="211.9" r="3.0" fill="#1e3cd4"/><circle cx="775.9" cy="183.8" r="2.2" fill="#1e3cd4"/><circle cx="771.6" cy="186.9" r="3.5" fill="#1e3cd4"/><circle cx="750.7" cy="189.8" r="2.3" fill="#1e3cd4"/><circle cx="762.1" cy="158.4" r="3.2" fill="#66c0f2"/><circle cx="762.8" cy="189.7" r="3.5" fill="#1e3cd4"/><circle cx="774.9" cy="207.5" r="4.0" fill="#1e3cd4"/><circle cx="760.4" cy="210.4" r="2.2" fill="#66c0f2"/><circle cx="761.2" cy="204.7" r="2.3" fill="#1e3cd4"/><circle cx="767.7" cy="197.7" r="3.1" fill="#1e3cd4"/><circle cx="754.1" cy="151.2" r="2.6" fill="#66c0f2"/><circle cx="780.2" cy="166.3" r="2.3" fill="#1e3cd4"/><circle cx="780.0" cy="169.2" r="3.9" fill="#1e3cd4"/><circle cx="779.9" cy="212.8" r="3.0" fill="#66c0f2"/><circle cx="755.0" cy="187.7" r="2.4" fill="#1e3cd4"/><circle cx="755.7" cy="181.9" r="2.2" fill="#66c0f2"/><circle cx="754.8" cy="171.6" r="3.1" fill="#1e3cd4"/><circle cx="776.6" cy="213.4" r="3.4" fill="#66c0f2"/><circle cx="792.4" cy="167.8" r="2.7" fill="#66c0f2"/><circle cx="770.6" cy="207.6" r="3.0" fill="#1e3cd4"/><circle cx="750.8" cy="173.5" r="2.5" fill="#1e3cd4"/><circle cx="764.1" cy="160.2" r="2.5" fill="#1e3cd4"/><circle cx="783.1" cy="157.4" r="2.7" fill="#66c0f2"/><circle cx="792.2" cy="178.2" r="2.7" fill="#1e3cd4"/><circle cx="747.5" cy="174.0" r="2.4" fill="#66c0f2"/><circle cx="778.2" cy="196.8" r="3.1" fill="#1e3cd4"/><circle cx="764.4" cy="213.7" r="3.7" fill="#1e3cd4"/><circle cx="757.9" cy="177.1" r="3.3" fill="#66c0f2"/><circle cx="766.1" cy="161.2" r="3.5" fill="#1e3cd4"/><circle cx="768.1" cy="203.6" r="2.6" fill="#66c0f2"/><circle cx="754.7" cy="167.5" r="2.6" fill="#66c0f2"/><circle cx="749.8" cy="177.4" r="2.8" fill="#1e3cd4"/><circle cx="789.8" cy="207.9" r="2.5" fill="#66c0f2"/><circle cx="750.3" cy="182.6" r="4.2" fill="#66c0f2"/><circle cx="755.2" cy="171.0" r="3.8" fill="#66c0f2"/><circle cx="762.6" cy="182.1" r="4.2" fill="#1e3cd4"/><circle cx="783.2" cy="197.8" r="2.5" fill="#66c0f2"/><circle cx="794.9" cy="199.1" r="2.3" fill="#1e3cd4"/><circle cx="782.2" cy="176.5" r="3.2" fill="#1e3cd4"/><circle cx="791.4" cy="178.2" r="3.9" fill="#1e3cd4"/><circle cx="749.8" cy="195.5" r="3.8" fill="#1e3cd4"/><circle cx="754.5" cy="181.6" r="3.8" fill="#66c0f2"/><circle cx="754.0" cy="149.2" r="2.7" fill="#1e3cd4"/><circle cx="760.9" cy="179.3" r="3.9" fill="#66c0f2"/><circle cx="781.3" cy="161.7" r="2.4" fill="#1e3cd4"/><circle cx="780.1" cy="151.7" r="2.7" fill="#66c0f2"/><circle cx="766.1" cy="191.8" r="3.7" fill="#66c0f2"/><circle cx="792.2" cy="169.6" r="2.9" fill="#66c0f2"/><circle cx="791.8" cy="159.1" r="3.8" fill="#1e3cd4"/><circle cx="762.5" cy="157.5" r="2.2" fill="#1e3cd4"/><circle cx="755.3" cy="204.3" r="3.4" fill="#1e3cd4"/><circle cx="796.1" cy="149.0" r="3.5" fill="#1e3cd4"/><circle cx="790.9" cy="190.6" r="3.5" fill="#1e3cd4"/><circle cx="759.5" cy="206.6" r="3.6" fill="#1e3cd4"/><circle cx="760.3" cy="193.1" r="3.1" fill="#66c0f2"/><circle cx="791.8" cy="207.6" r="3.6" fill="#1e3cd4"/><circle cx="788.5" cy="187.1" r="3.2" fill="#66c0f2"/><circle cx="748.8" cy="213.6" r="4.1" fill="#66c0f2"/><circle cx="793.5" cy="157.4" r="3.8" fill="#1e3cd4"/><circle cx="760.2" cy="185.4" r="2.2" fill="#66c0f2"/><circle cx="744.3" cy="208.0" r="4.1" fill="#1e3cd4"/><circle cx="784.5" cy="215.1" r="3.3" fill="#1e3cd4"/><circle cx="744.4" cy="155.2" r="3.7" fill="#1e3cd4"/><circle cx="778.6" cy="186.9" r="2.4" fill="#66c0f2"/><circle cx="796.3" cy="203.0" r="3.4" fill="#66c0f2"/><circle cx="747.3" cy="158.3" r="2.4" fill="#1e3cd4"/><circle cx="769.0" cy="169.8" r="3.3" fill="#1e3cd4"/><circle cx="749.9" cy="197.9" r="2.6" fill="#66c0f2"/><circle cx="793.4" cy="148.8" r="2.5" fill="#66c0f2"/><circle cx="786.8" cy="163.1" r="3.7" fill="#1e3cd4"/><circle cx="782.1" cy="186.5" r="3.8" fill="#66c0f2"/><circle cx="763.9" cy="179.1" r="3.0" fill="#66c0f2"/><circle cx="775.8" cy="159.8" r="3.3" fill="#1e3cd4"/><circle cx="793.1" cy="152.4" r="3.4" fill="#66c0f2"/><circle cx="755.4" cy="154.5" r="2.9" fill="#66c0f2"/><circle cx="748.9" cy="215.4" r="2.3" fill="#1e3cd4"/><circle cx="759.0" cy="162.1" r="2.3" fill="#66c0f2"/><circle cx="779.6" cy="178.0" r="4.0" fill="#1e3cd4"/><circle cx="773.1" cy="167.2" r="3.5" fill="#66c0f2"/><circle cx="790.0" cy="174.2" r="3.7" fill="#66c0f2"/><circle cx="771.5" cy="157.9" r="2.2" fill="#66c0f2"/><circle cx="755.7" cy="149.2" r="2.3" fill="#1e3cd4"/><circle cx="785.6" cy="149.1" r="4.2" fill="#1e3cd4"/><circle cx="751.7" cy="213.3" r="3.4" fill="#1e3cd4"/><circle cx="755.0" cy="215.7" r="2.6" fill="#1e3cd4"/><circle cx="795.8" cy="196.4" r="2.1" fill="#1e3cd4"/><circle cx="772.9" cy="184.4" r="2.3" fill="#1e3cd4"/><circle cx="774.7" cy="184.1" r="2.7" fill="#66c0f2"/><circle cx="769.6" cy="196.8" r="3.2" fill="#66c0f2"/><circle cx="786.4" cy="196.8" r="2.7" fill="#66c0f2"/><circle cx="749.2" cy="165.1" r="2.2" fill="#1e3cd4"/><circle cx="774.7" cy="210.9" r="3.3" fill="#1e3cd4"/><circle cx="790.2" cy="190.6" r="2.5" fill="#66c0f2"/><circle cx="748.8" cy="154.1" r="3.6" fill="#66c0f2"/><circle cx="755.4" cy="197.6" r="3.5" fill="#66c0f2"/><circle cx="780.2" cy="163.5" r="2.9" fill="#66c0f2"/><circle cx="746.4" cy="200.9" r="3.4" fill="#1e3cd4"/><circle cx="747.2" cy="208.6" r="4.0" fill="#1e3cd4"/><circle cx="790.7" cy="156.2" r="3.0" fill="#1e3cd4"/><circle cx="780.2" cy="186.0" r="2.9" fill="#1e3cd4"/><circle cx="790.3" cy="206.4" r="2.9" fill="#1e3cd4"/><circle cx="792.5" cy="158.3" r="3.0" fill="#66c0f2"/><circle cx="795.4" cy="210.2" r="2.5" fill="#1e3cd4"/><circle cx="781.0" cy="162.3" r="4.1" fill="#1e3cd4"/><circle cx="767.5" cy="198.2" r="3.1" fill="#1e3cd4"/><circle cx="786.6" cy="199.0" r="3.6" fill="#1e3cd4"/><circle cx="765.2" cy="213.1" r="2.7" fill="#1e3cd4"/><circle cx="749.4" cy="209.5" r="3.8" fill="#66c0f2"/><circle cx="770.8" cy="170.3" r="4.1" fill="#1e3cd4"/><circle cx="774.2" cy="168.5" r="3.6" fill="#66c0f2"/><circle cx="769.2" cy="203.6" r="2.1" fill="#66c0f2"/><circle cx="774.3" cy="187.3" r="2.3" fill="#1e3cd4"/><circle cx="767.4" cy="201.3" r="2.4" fill="#66c0f2"/><circle cx="780.4" cy="200.2" r="4.1" fill="#1e3cd4"/><circle cx="754.6" cy="174.5" r="3.1" fill="#66c0f2"/><circle cx="769.4" cy="166.5" r="3.1" fill="#1e3cd4"/><circle cx="754.4" cy="155.8" r="4.0" fill="#66c0f2"/><circle cx="773.9" cy="188.3" r="2.1" fill="#1e3cd4"/><circle cx="759.6" cy="194.4" r="3.6" fill="#1e3cd4"/></g></g>
<g clip-path="url(#cl4)"><rect x="850.0363229952501" y="145.35261246158146" width="67.56524168762223" height="65.46968426934896" fill="#64b8f0"/><g filter="url(#sm2)"><circle cx="884.8" cy="178.6" r="3.0" fill="#84e0ea"/><circle cx="886.2" cy="166.7" r="2.0" fill="#3a72e2"/><circle cx="890.2" cy="202.5" r="3.0" fill="#84e0ea"/><circle cx="904.1" cy="159.7" r="3.1" fill="#84e0ea"/><circle cx="914.6" cy="181.5" r="2.7" fill="#84e0ea"/><circle cx="874.5" cy="181.1" r="2.3" fill="#84e0ea"/><circle cx="905.3" cy="182.2" r="2.9" fill="#84e0ea"/><circle cx="861.0" cy="178.5" r="2.7" fill="#84e0ea"/><circle cx="871.0" cy="174.5" r="3.1" fill="#3a72e2"/><circle cx="856.8" cy="184.4" r="3.4" fill="#84e0ea"/><circle cx="890.5" cy="158.5" r="2.3" fill="#3a72e2"/><circle cx="911.2" cy="199.7" r="2.6" fill="#3a72e2"/><circle cx="906.6" cy="161.8" r="2.7" fill="#3a72e2"/><circle cx="869.2" cy="178.8" r="1.9" fill="#84e0ea"/><circle cx="886.5" cy="163.9" r="3.2" fill="#3a72e2"/><circle cx="855.9" cy="201.3" r="2.8" fill="#84e0ea"/><circle cx="860.9" cy="169.6" r="2.9" fill="#84e0ea"/><circle cx="887.8" cy="195.4" r="2.2" fill="#84e0ea"/><circle cx="888.8" cy="170.5" r="2.0" fill="#3a72e2"/><circle cx="856.1" cy="201.6" r="2.4" fill="#84e0ea"/><circle cx="866.8" cy="203.6" r="2.8" fill="#3a72e2"/><circle cx="903.3" cy="207.0" r="1.9" fill="#84e0ea"/><circle cx="900.9" cy="204.7" r="2.5" fill="#3a72e2"/><circle cx="857.3" cy="185.4" r="2.7" fill="#84e0ea"/><circle cx="897.2" cy="187.2" r="2.6" fill="#84e0ea"/><circle cx="857.5" cy="160.1" r="3.4" fill="#84e0ea"/><circle cx="907.8" cy="168.8" r="2.1" fill="#3a72e2"/><circle cx="869.7" cy="165.1" r="2.4" fill="#3a72e2"/><circle cx="859.1" cy="152.6" r="2.8" fill="#3a72e2"/><circle cx="885.5" cy="158.5" r="3.1" fill="#3a72e2"/><circle cx="857.4" cy="174.3" r="3.6" fill="#3a72e2"/><circle cx="875.9" cy="156.4" r="3.2" fill="#84e0ea"/><circle cx="896.6" cy="178.4" r="3.0" fill="#3a72e2"/><circle cx="894.7" cy="207.3" r="3.1" fill="#84e0ea"/><circle cx="854.5" cy="170.9" r="3.1" fill="#84e0ea"/><circle cx="867.9" cy="202.7" r="2.8" fill="#84e0ea"/><circle cx="858.6" cy="202.5" r="3.2" fill="#3a72e2"/><circle cx="853.8" cy="195.9" r="2.3" fill="#84e0ea"/><circle cx="910.8" cy="174.0" r="3.4" fill="#3a72e2"/><circle cx="870.5" cy="174.9" r="2.8" fill="#84e0ea"/><circle cx="903.8" cy="197.6" r="3.2" fill="#3a72e2"/><circle cx="874.0" cy="166.7" r="3.1" fill="#84e0ea"/><circle cx="894.6" cy="197.5" r="3.2" fill="#3a72e2"/><circle cx="898.9" cy="191.0" r="2.3" fill="#84e0ea"/><circle cx="873.2" cy="180.6" r="2.9" fill="#3a72e2"/><circle cx="903.7" cy="196.8" r="1.9" fill="#84e0ea"/><circle cx="907.4" cy="157.7" r="2.6" fill="#84e0ea"/><circle cx="910.1" cy="153.6" r="3.3" fill="#84e0ea"/><circle cx="909.2" cy="182.3" r="2.4" fill="#3a72e2"/><circle cx="880.9" cy="170.3" r="2.0" fill="#84e0ea"/><circle cx="907.6" cy="203.8" r="2.3" fill="#3a72e2"/><circle cx="879.2" cy="147.9" r="2.4" fill="#84e0ea"/><circle cx="852.6" cy="167.0" r="2.7" fill="#84e0ea"/><circle cx="907.1" cy="160.4" r="2.9" fill="#3a72e2"/><circle cx="912.2" cy="174.4" r="2.2" fill="#84e0ea"/><circle cx="864.2" cy="183.2" r="3.4" fill="#84e0ea"/><circle cx="878.0" cy="161.2" r="3.0" fill="#3a72e2"/><circle cx="883.6" cy="203.8" r="2.8" fill="#3a72e2"/><circle cx="856.8" cy="163.1" r="1.9" fill="#84e0ea"/><circle cx="863.6" cy="168.6" r="2.7" fill="#84e0ea"/><circle cx="909.1" cy="148.2" r="1.8" fill="#84e0ea"/><circle cx="882.4" cy="201.0" r="3.5" fill="#3a72e2"/><circle cx="906.6" cy="168.3" r="3.0" fill="#3a72e2"/><circle cx="867.9" cy="177.2" r="3.5" fill="#84e0ea"/><circle cx="914.3" cy="190.9" r="3.2" fill="#84e0ea"/><circle cx="902.0" cy="207.9" r="3.5" fill="#84e0ea"/><circle cx="871.2" cy="180.5" r="2.9" fill="#84e0ea"/><circle cx="864.1" cy="176.5" r="3.5" fill="#84e0ea"/><circle cx="910.8" cy="204.5" r="3.4" fill="#84e0ea"/><circle cx="897.2" cy="195.9" r="2.2" fill="#84e0ea"/><circle cx="877.8" cy="153.7" r="3.0" fill="#84e0ea"/><circle cx="900.9" cy="195.2" r="3.4" fill="#84e0ea"/><circle cx="894.5" cy="164.8" r="3.1" fill="#84e0ea"/><circle cx="906.7" cy="198.2" r="2.6" fill="#84e0ea"/><circle cx="910.9" cy="188.6" r="3.3" fill="#3a72e2"/><circle cx="866.3" cy="183.9" r="2.4" fill="#84e0ea"/><circle cx="897.6" cy="154.1" r="3.0" fill="#3a72e2"/><circle cx="915.3" cy="171.7" r="3.4" fill="#3a72e2"/><circle cx="890.9" cy="149.8" r="3.5" fill="#84e0ea"/><circle cx="877.6" cy="176.4" r="2.8" fill="#3a72e2"/><circle cx="894.2" cy="199.9" r="3.2" fill="#84e0ea"/><circle cx="896.6" cy="182.7" r="3.2" fill="#84e0ea"/><circle cx="893.8" cy="190.2" r="3.1" fill="#84e0ea"/><circle cx="871.7" cy="170.3" r="2.5" fill="#84e0ea"/><circle cx="870.0" cy="184.4" r="3.3" fill="#84e0ea"/><circle cx="895.6" cy="175.6" r="1.9" fill="#84e0ea"/><circle cx="859.9" cy="195.4" r="1.9" fill="#84e0ea"/><circle cx="873.0" cy="177.1" r="1.9" fill="#3a72e2"/><circle cx="885.2" cy="195.5" r="3.3" fill="#3a72e2"/><circle cx="891.9" cy="150.6" r="2.7" fill="#84e0ea"/><circle cx="886.2" cy="152.5" r="2.1" fill="#3a72e2"/><circle cx="881.9" cy="170.4" r="2.0" fill="#84e0ea"/><circle cx="908.8" cy="175.9" r="2.1" fill="#84e0ea"/><circle cx="863.3" cy="164.9" r="2.8" fill="#84e0ea"/><circle cx="893.4" cy="202.0" r="2.9" fill="#84e0ea"/><circle cx="913.7" cy="188.5" r="2.6" fill="#84e0ea"/><circle cx="914.6" cy="199.4" r="3.4" fill="#84e0ea"/><circle cx="908.5" cy="190.7" r="3.1" fill="#84e0ea"/><circle cx="894.0" cy="155.6" r="3.3" fill="#3a72e2"/><circle cx="909.8" cy="149.2" r="2.4" fill="#3a72e2"/><circle cx="878.0" cy="192.0" r="2.5" fill="#84e0ea"/><circle cx="882.8" cy="188.3" r="2.3" fill="#3a72e2"/><circle cx="853.9" cy="182.9" r="2.7" fill="#84e0ea"/><circle cx="881.6" cy="170.1" r="3.0" fill="#3a72e2"/><circle cx="865.6" cy="148.6" r="3.4" fill="#3a72e2"/><circle cx="860.5" cy="196.6" r="3.0" fill="#3a72e2"/><circle cx="860.8" cy="179.4" r="3.1" fill="#84e0ea"/><circle cx="901.4" cy="199.1" r="3.6" fill="#84e0ea"/><circle cx="873.6" cy="186.0" r="3.0" fill="#84e0ea"/><circle cx="854.9" cy="195.3" r="3.3" fill="#84e0ea"/><circle cx="865.0" cy="166.4" r="2.0" fill="#3a72e2"/><circle cx="872.8" cy="176.6" r="3.2" fill="#3a72e2"/><circle cx="904.6" cy="205.2" r="2.8" fill="#84e0ea"/><circle cx="897.9" cy="201.4" r="3.3" fill="#3a72e2"/><circle cx="904.6" cy="188.5" r="3.2" fill="#84e0ea"/><circle cx="866.0" cy="186.5" r="2.9" fill="#3a72e2"/><circle cx="900.0" cy="167.4" r="3.2" fill="#84e0ea"/><circle cx="872.7" cy="156.2" r="3.4" fill="#3a72e2"/><circle cx="852.3" cy="169.4" r="2.7" fill="#84e0ea"/><circle cx="889.8" cy="187.8" r="2.3" fill="#84e0ea"/><circle cx="895.3" cy="160.9" r="2.7" fill="#84e0ea"/><circle cx="900.8" cy="173.3" r="3.5" fill="#84e0ea"/><circle cx="866.4" cy="169.6" r="2.6" fill="#84e0ea"/><circle cx="859.1" cy="162.1" r="3.2" fill="#84e0ea"/><circle cx="852.3" cy="197.0" r="2.7" fill="#3a72e2"/><circle cx="899.1" cy="173.2" r="2.6" fill="#3a72e2"/><circle cx="869.2" cy="178.1" r="2.4" fill="#3a72e2"/><circle cx="868.0" cy="169.7" r="1.9" fill="#84e0ea"/><circle cx="881.0" cy="192.9" r="3.1" fill="#84e0ea"/><circle cx="914.0" cy="189.1" r="3.1" fill="#3a72e2"/><circle cx="879.6" cy="174.1" r="2.3" fill="#3a72e2"/><circle cx="870.3" cy="206.5" r="2.7" fill="#3a72e2"/><circle cx="883.8" cy="175.5" r="3.1" fill="#84e0ea"/><circle cx="873.0" cy="196.9" r="3.5" fill="#84e0ea"/><circle cx="862.5" cy="160.6" r="3.3" fill="#84e0ea"/><circle cx="861.5" cy="202.8" r="3.0" fill="#84e0ea"/><circle cx="885.6" cy="171.3" r="2.7" fill="#84e0ea"/><circle cx="888.6" cy="166.8" r="2.0" fill="#3a72e2"/><circle cx="856.9" cy="147.5" r="2.7" fill="#3a72e2"/><circle cx="903.2" cy="148.5" r="3.0" fill="#3a72e2"/><circle cx="898.5" cy="202.4" r="1.9" fill="#84e0ea"/><circle cx="915.3" cy="205.2" r="3.1" fill="#84e0ea"/><circle cx="894.8" cy="191.4" r="3.0" fill="#84e0ea"/><circle cx="904.3" cy="204.1" r="2.3" fill="#3a72e2"/><circle cx="906.5" cy="198.2" r="2.9" fill="#3a72e2"/><circle cx="872.8" cy="208.8" r="3.4" fill="#84e0ea"/><circle cx="905.5" cy="182.1" r="2.8" fill="#84e0ea"/><circle cx="879.8" cy="180.4" r="2.0" fill="#3a72e2"/><circle cx="880.4" cy="199.4" r="3.1" fill="#3a72e2"/><circle cx="892.3" cy="169.6" r="3.2" fill="#3a72e2"/><circle cx="883.2" cy="202.8" r="2.5" fill="#3a72e2"/><circle cx="857.6" cy="168.6" r="3.3" fill="#3a72e2"/><circle cx="897.0" cy="175.5" r="2.4" fill="#84e0ea"/><circle cx="886.7" cy="157.3" r="2.0" fill="#3a72e2"/><circle cx="883.6" cy="206.9" r="1.9" fill="#84e0ea"/><circle cx="864.5" cy="161.4" r="2.7" fill="#3a72e2"/><circle cx="903.9" cy="155.0" r="2.7" fill="#84e0ea"/><circle cx="888.7" cy="175.5" r="3.6" fill="#84e0ea"/><circle cx="892.3" cy="194.4" r="3.4" fill="#3a72e2"/><circle cx="898.6" cy="157.4" r="2.5" fill="#84e0ea"/><circle cx="894.6" cy="168.7" r="3.2" fill="#84e0ea"/><circle cx="897.2" cy="165.0" r="2.3" fill="#3a72e2"/><circle cx="912.0" cy="167.0" r="3.1" fill="#3a72e2"/><circle cx="861.0" cy="154.0" r="3.5" fill="#84e0ea"/><circle cx="864.4" cy="178.1" r="3.3" fill="#3a72e2"/><circle cx="869.3" cy="158.0" r="2.5" fill="#3a72e2"/><circle cx="872.9" cy="171.5" r="3.0" fill="#84e0ea"/><circle cx="913.6" cy="193.1" r="2.5" fill="#3a72e2"/><circle cx="908.4" cy="166.2" r="3.5" fill="#84e0ea"/><circle cx="876.4" cy="148.2" r="1.9" fill="#84e0ea"/><circle cx="876.0" cy="175.2" r="2.5" fill="#84e0ea"/><circle cx="910.8" cy="171.3" r="3.3" fill="#3a72e2"/><circle cx="875.5" cy="201.0" r="2.8" fill="#84e0ea"/><circle cx="914.2" cy="171.9" r="1.9" fill="#84e0ea"/><circle cx="857.4" cy="194.6" r="3.0" fill="#3a72e2"/><circle cx="890.1" cy="177.6" r="1.9" fill="#3a72e2"/><circle cx="859.8" cy="175.7" r="3.5" fill="#84e0ea"/><circle cx="864.2" cy="192.6" r="3.3" fill="#84e0ea"/><circle cx="863.7" cy="155.6" r="1.9" fill="#84e0ea"/><circle cx="852.7" cy="198.6" r="1.8" fill="#84e0ea"/><circle cx="905.7" cy="196.4" r="3.3" fill="#84e0ea"/><circle cx="876.9" cy="149.3" r="2.8" fill="#84e0ea"/><circle cx="887.0" cy="205.5" r="3.4" fill="#84e0ea"/><circle cx="895.8" cy="177.6" r="2.2" fill="#3a72e2"/><circle cx="862.3" cy="201.0" r="3.0" fill="#84e0ea"/><circle cx="893.4" cy="152.9" r="2.7" fill="#84e0ea"/><circle cx="874.4" cy="193.3" r="2.2" fill="#3a72e2"/><circle cx="871.0" cy="198.8" r="2.5" fill="#3a72e2"/><circle cx="864.2" cy="190.4" r="2.3" fill="#84e0ea"/><circle cx="863.0" cy="196.9" r="2.6" fill="#3a72e2"/><circle cx="895.8" cy="153.5" r="2.7" fill="#3a72e2"/><circle cx="875.1" cy="203.6" r="3.6" fill="#3a72e2"/><circle cx="906.9" cy="177.0" r="3.2" fill="#84e0ea"/><circle cx="889.3" cy="183.4" r="2.1" fill="#3a72e2"/><circle cx="882.9" cy="185.1" r="1.9" fill="#3a72e2"/><circle cx="888.4" cy="151.6" r="2.1" fill="#84e0ea"/><circle cx="882.6" cy="158.6" r="3.2" fill="#3a72e2"/><circle cx="884.4" cy="186.0" r="1.9" fill="#3a72e2"/><circle cx="900.8" cy="204.1" r="3.1" fill="#84e0ea"/><circle cx="913.7" cy="207.6" r="2.9" fill="#84e0ea"/><circle cx="864.3" cy="149.6" r="2.6" fill="#3a72e2"/><circle cx="899.2" cy="177.5" r="2.7" fill="#84e0ea"/><circle cx="854.5" cy="161.9" r="3.1" fill="#3a72e2"/><circle cx="897.3" cy="206.7" r="2.2" fill="#84e0ea"/><circle cx="889.5" cy="165.9" r="3.4" fill="#84e0ea"/><circle cx="854.2" cy="203.3" r="2.9" fill="#84e0ea"/><circle cx="877.3" cy="162.7" r="2.2" fill="#3a72e2"/><circle cx="870.5" cy="170.1" r="1.9" fill="#3a72e2"/><circle cx="855.1" cy="177.9" r="3.1" fill="#3a72e2"/><circle cx="887.1" cy="188.7" r="3.4" fill="#3a72e2"/><circle cx="896.0" cy="208.6" r="2.5" fill="#3a72e2"/><circle cx="863.2" cy="149.4" r="3.6" fill="#3a72e2"/><circle cx="852.2" cy="201.9" r="3.1" fill="#84e0ea"/><circle cx="875.2" cy="199.7" r="3.1" fill="#3a72e2"/><circle cx="886.7" cy="169.7" r="3.3" fill="#84e0ea"/><circle cx="858.4" cy="197.2" r="3.5" fill="#3a72e2"/><circle cx="874.6" cy="192.4" r="1.9" fill="#84e0ea"/><circle cx="877.1" cy="182.5" r="2.1" fill="#3a72e2"/><circle cx="910.0" cy="207.1" r="3.4" fill="#3a72e2"/><circle cx="868.2" cy="183.4" r="1.9" fill="#3a72e2"/><circle cx="864.4" cy="159.3" r="3.4" fill="#3a72e2"/><circle cx="897.9" cy="171.4" r="3.6" fill="#84e0ea"/><circle cx="875.0" cy="190.3" r="2.5" fill="#84e0ea"/><circle cx="872.4" cy="154.3" r="2.6" fill="#84e0ea"/><circle cx="880.0" cy="148.5" r="2.9" fill="#3a72e2"/><circle cx="899.4" cy="179.0" r="2.7" fill="#3a72e2"/><circle cx="888.4" cy="187.7" r="2.1" fill="#3a72e2"/><circle cx="911.3" cy="187.2" r="1.8" fill="#3a72e2"/><circle cx="905.6" cy="204.1" r="3.2" fill="#84e0ea"/><circle cx="899.6" cy="199.9" r="2.6" fill="#3a72e2"/><circle cx="910.8" cy="200.3" r="2.9" fill="#84e0ea"/><circle cx="913.3" cy="156.8" r="2.4" fill="#3a72e2"/><circle cx="897.3" cy="162.7" r="2.5" fill="#3a72e2"/><circle cx="903.2" cy="154.5" r="3.0" fill="#3a72e2"/><circle cx="853.4" cy="186.2" r="2.1" fill="#84e0ea"/><circle cx="876.1" cy="164.1" r="3.0" fill="#3a72e2"/><circle cx="857.4" cy="208.1" r="3.2" fill="#84e0ea"/></g></g>
<line x1="740.6" y1="92.6" x2="746.5" y2="98.1" stroke="#fff" stroke-width="3"/>
<path d="M752.0,103.3 L741.6,101.2 L746.7,98.3 L749.2,93.0 Z" fill="#fff"/>
<line x1="856.5" y1="76.0" x2="865.8" y2="76.0" stroke="#fff" stroke-width="3"/>
<path d="M873.3,76.0 L864.3,81.6 L866.1,76.0 L864.3,70.4 Z" fill="#fff"/>
<line x1="646.9" y1="203.9" x2="643.6" y2="211.7" stroke="#fff" stroke-width="3"/>
<path d="M640.6,218.6 L639.0,208.1 L643.4,212.0 L649.3,212.5 Z" fill="#fff"/>
<line x1="767.3" y1="215.8" x2="763.8" y2="224.2" stroke="#fff" stroke-width="3"/>
<path d="M761.0,231.2 L759.2,220.7 L763.7,224.5 L769.6,225.0 Z" fill="#fff"/>
<line x1="854.8" y1="213.7" x2="849.3" y2="220.0" stroke="#fff" stroke-width="3"/>
<path d="M844.4,225.6 L846.1,215.1 L849.1,220.2 L854.5,222.5 Z" fill="#fff"/>
<rect x="742" y="117.19999999999999" width="20.100000000000023" height="2.8" fill="#fff"/>
<rect x="853.3" y="117.3" width="20.0" height="2.8" fill="#fff"/>
<rect x="676.9" y="230.1" width="27.300000000000068" height="2.8" fill="#fff"/>
<rect x="787.5" y="230.1" width="28.0" height="2.8" fill="#fff"/>
<rect x="903" y="230.1" width="24.899999999999977" height="2.8" fill="#fff"/>
<rect x="883.5" y="20.6" width="6.5" height="101.4" fill="url(#cbar)"/>
<text x="892.5" y="24" font-size="12.5">pN</text>
<text x="892.5" y="37" font-size="12.5">6</text>
<text x="892.5" y="56.3" font-size="12.5">4</text>
<text x="892.5" y="78.6" font-size="12.5">2</text>
<text x="892.5" y="100.6" font-size="12.5">0</text>
<path d="M613.5,299.9 V499.4 H912.8" fill="none" stroke="#000" stroke-width="1.1"/>
<line x1="610.0" y1="300.4" x2="613.5" y2="300.4" stroke="#000" stroke-width="1.1"/>
<text x="605.5" y="305.0" font-size="13" text-anchor="end">10</text>
<line x1="610.0" y1="340.2" x2="613.5" y2="340.2" stroke="#000" stroke-width="1.1"/>
<text x="605.5" y="344.8" font-size="13" text-anchor="end">15</text>
<line x1="610.0" y1="380.0" x2="613.5" y2="380.0" stroke="#000" stroke-width="1.1"/>
<text x="605.5" y="384.6" font-size="13" text-anchor="end">20</text>
<line x1="610.0" y1="419.79999999999995" x2="613.5" y2="419.79999999999995" stroke="#000" stroke-width="1.1"/>
<text x="605.5" y="424.4" font-size="13" text-anchor="end">25</text>
<line x1="610.0" y1="459.59999999999997" x2="613.5" y2="459.59999999999997" stroke="#000" stroke-width="1.1"/>
<text x="605.5" y="464.2" font-size="13" text-anchor="end">30</text>
<line x1="610.0" y1="499.4" x2="613.5" y2="499.4" stroke="#000" stroke-width="1.1"/>
<text x="605.5" y="504.0" font-size="13" text-anchor="end">35</text>
<line x1="613.5" y1="411.5" x2="912.8" y2="411.5" stroke="#000" stroke-width="0.8" stroke-dasharray="1.2,1.2"/>
<line x1="643.4" y1="499.4" x2="643.4" y2="502.9" stroke="#000" stroke-width="1.1"/>
<text x="643.4" y="517.8" font-size="13" text-anchor="middle">TS1</text>
<line x1="703.3" y1="499.4" x2="703.3" y2="502.9" stroke="#000" stroke-width="1.1"/>
<text x="703.3" y="517.8" font-size="13" text-anchor="middle">TS2</text>
<line x1="762.9" y1="499.4" x2="762.9" y2="502.9" stroke="#000" stroke-width="1.1"/>
<text x="762.9" y="517.8" font-size="13" text-anchor="middle">cTerm</text>
<line x1="822.6" y1="499.4" x2="822.6" y2="502.9" stroke="#000" stroke-width="1.1"/>
<text x="822.6" y="517.8" font-size="13" text-anchor="middle">TS3</text>
<line x1="882.5" y1="499.4" x2="882.5" y2="502.9" stroke="#000" stroke-width="1.1"/>
<text x="882.5" y="517.8" font-size="13" text-anchor="middle">cTerm</text>
<line x1="631.7" y1="524.6" x2="774.6" y2="524.6" stroke="#000" stroke-width="1.1"/>
<line x1="813.5" y1="524.6" x2="893.6" y2="524.6" stroke="#000" stroke-width="1.1"/>
<text x="703.3" y="540" font-size="13" text-anchor="middle">&#945;L</text>
<text x="853.5" y="540" font-size="13" text-anchor="middle">&#946;2</text>
<path d="M645.3,315.5 V301.3 H884.8 V315.7" fill="none" stroke="#000" stroke-width="1.1"/>
<line x1="703.3" y1="301.3" x2="703.3" y2="315.5" stroke="#000" stroke-width="1.1"/>
<line x1="762.9" y1="301.3" x2="762.9" y2="315.5" stroke="#000" stroke-width="1.1"/>
<line x1="822" y1="294" x2="822" y2="308" stroke="#000" stroke-width="1.1"/>
<text x="821.5" y="322.5" font-size="11.5" text-anchor="middle" letter-spacing="0.6">****</text>
<path d="M912.8,300.4 V411.9" fill="none" stroke="#000" stroke-width="1.1"/>
<path d="M912.8,418.2 V499.4" fill="none" stroke="#000" stroke-width="1.1"/>
<line x1="909.5" y1="411.9" x2="912.8" y2="411.9" stroke="#000" stroke-width="1.1"/>
<line x1="909.5" y1="418.2" x2="912.8" y2="418.2" stroke="#000" stroke-width="1.1"/>
<line x1="912.8" y1="317.1" x2="916" y2="317.1" stroke="#000" stroke-width="1.1"/>
<text x="920" y="321.70000000000005" font-size="13">4</text>
<line x1="912.8" y1="340.7" x2="916" y2="340.7" stroke="#000" stroke-width="1.1"/>
<text x="920" y="345.3" font-size="13">3</text>
<line x1="912.8" y1="364.6" x2="916" y2="364.6" stroke="#000" stroke-width="1.1"/>
<text x="920" y="369.20000000000005" font-size="13">2</text>
<line x1="912.8" y1="388.0" x2="916" y2="388.0" stroke="#000" stroke-width="1.1"/>
<text x="920" y="392.6" font-size="13">1</text>
<line x1="912.8" y1="329.3" x2="914.8" y2="329.3" stroke="#000" stroke-width="1"/>
<line x1="912.8" y1="352.6" x2="914.8" y2="352.6" stroke="#000" stroke-width="1"/>
<line x1="912.8" y1="376.1" x2="914.8" y2="376.1" stroke="#000" stroke-width="1"/>
<line x1="912.8" y1="399.1" x2="914.8" y2="399.1" stroke="#000" stroke-width="1"/>
<line x1="918.9" y1="415" x2="918.9" y2="450" stroke="#000" stroke-width="1.1"/>
<line x1="918.9" y1="469" x2="918.9" y2="497" stroke="#000" stroke-width="1.1"/>
<path d="M916.2,418 L918.9,411.5 L921.6,418 Z" fill="#000"/>
<path d="M916.2,494 L918.9,500.5 L921.6,494 Z" fill="#000"/>
<text x="919.5" y="464.8" font-size="13" text-anchor="middle">0</text>
<text transform="translate(581.8,397.3) rotate(-90)" font-size="12.9" text-anchor="middle">FRET efficiency (%)</text>
<text transform="translate(939.8,406.6) rotate(-90)" font-size="12.7" text-anchor="middle">Force (pN)</text>
<circle cx="640.1" cy="407.0" r="2.55" fill="#f6c3a4" stroke="#222" stroke-width="0.75"/>
<circle cx="650.0" cy="410.5" r="2.55" fill="#f6c3a4" stroke="#222" stroke-width="0.75"/>
<circle cx="646.4" cy="414.3" r="2.55" fill="#f6c3a4" stroke="#222" stroke-width="0.75"/>
<circle cx="640.1" cy="419.4" r="2.55" fill="#f6c3a4" stroke="#222" stroke-width="0.75"/>
<circle cx="650.0" cy="423.2" r="2.55" fill="#f6c3a4" stroke="#222" stroke-width="0.75"/>
<circle cx="633.7" cy="426.4" r="2.55" fill="#f6c3a4" stroke="#222" stroke-width="0.75"/>
<circle cx="643.5" cy="428.3" r="2.55" fill="#f6c3a4" stroke="#222" stroke-width="0.75"/>
<circle cx="636.7" cy="430.8" r="2.55" fill="#f6c3a4" stroke="#222" stroke-width="0.75"/>
<circle cx="650.0" cy="432.9" r="2.55" fill="#f6c3a4" stroke="#222" stroke-width="0.75"/>
<circle cx="643.5" cy="435.4" r="2.55" fill="#f6c3a4" stroke="#222" stroke-width="0.75"/>
<circle cx="633.7" cy="439.4" r="2.55" fill="#f6c3a4" stroke="#222" stroke-width="0.75"/>
<circle cx="640.1" cy="442.8" r="2.55" fill="#f6c3a4" stroke="#222" stroke-width="0.75"/>
<circle cx="646.4" cy="444.3" r="2.55" fill="#f6c3a4" stroke="#222" stroke-width="0.75"/>
<circle cx="653.2" cy="442.8" r="2.55" fill="#f6c3a4" stroke="#222" stroke-width="0.75"/>
<circle cx="636.7" cy="452.3" r="2.55" fill="#f6c3a4" stroke="#222" stroke-width="0.75"/>
<circle cx="643.5" cy="456.5" r="2.55" fill="#f6c3a4" stroke="#222" stroke-width="0.75"/>
<circle cx="650.0" cy="456.1" r="2.55" fill="#f6c3a4" stroke="#222" stroke-width="0.75"/>
<circle cx="703.3" cy="405.7" r="2.55" fill="#f6c3a4" stroke="#222" stroke-width="0.75"/>
<circle cx="699.9" cy="415.2" r="2.55" fill="#f6c3a4" stroke="#222" stroke-width="0.75"/>
<circle cx="706.5" cy="419.4" r="2.55" fill="#f6c3a4" stroke="#222" stroke-width="0.75"/>
<circle cx="719.8" cy="420.5" r="2.55" fill="#f6c3a4" stroke="#222" stroke-width="0.75"/>
<circle cx="686.9" cy="421.9" r="2.55" fill="#f6c3a4" stroke="#222" stroke-width="0.75"/>
<circle cx="693.4" cy="426.8" r="2.55" fill="#f6c3a4" stroke="#222" stroke-width="0.75"/>
<circle cx="699.9" cy="427.2" r="2.55" fill="#f6c3a4" stroke="#222" stroke-width="0.75"/>
<circle cx="706.5" cy="427.2" r="2.55" fill="#f6c3a4" stroke="#222" stroke-width="0.75"/>
<circle cx="713.2" cy="426.1" r="2.55" fill="#f6c3a4" stroke="#222" stroke-width="0.75"/>
<circle cx="703.3" cy="436.1" r="2.55" fill="#f6c3a4" stroke="#222" stroke-width="0.75"/>
<circle cx="696.4" cy="438.6" r="2.55" fill="#f6c3a4" stroke="#222" stroke-width="0.75"/>
<circle cx="709.8" cy="439.4" r="2.55" fill="#f6c3a4" stroke="#222" stroke-width="0.75"/>
<circle cx="703.3" cy="442.8" r="2.55" fill="#f6c3a4" stroke="#222" stroke-width="0.75"/>
<circle cx="696.4" cy="450.4" r="2.55" fill="#f6c3a4" stroke="#222" stroke-width="0.75"/>
<circle cx="703.3" cy="450.4" r="2.55" fill="#f6c3a4" stroke="#222" stroke-width="0.75"/>
<circle cx="709.8" cy="449.5" r="2.55" fill="#f6c3a4" stroke="#222" stroke-width="0.75"/>
<circle cx="699.9" cy="465.1" r="2.55" fill="#f6c3a4" stroke="#222" stroke-width="0.75"/>
<circle cx="706.5" cy="463.4" r="2.55" fill="#f6c3a4" stroke="#222" stroke-width="0.75"/>
<circle cx="762.9" cy="396.1" r="2.55" fill="#f6c3a4" stroke="#222" stroke-width="0.75"/>
<circle cx="762.9" cy="404.9" r="2.55" fill="#f6c3a4" stroke="#222" stroke-width="0.75"/>
<circle cx="759.4" cy="416.9" r="2.55" fill="#f6c3a4" stroke="#222" stroke-width="0.75"/>
<circle cx="766.2" cy="416.9" r="2.55" fill="#f6c3a4" stroke="#222" stroke-width="0.75"/>
<circle cx="759.4" cy="424.3" r="2.55" fill="#f6c3a4" stroke="#222" stroke-width="0.75"/>
<circle cx="766.2" cy="425.3" r="2.55" fill="#f6c3a4" stroke="#222" stroke-width="0.75"/>
<circle cx="762.9" cy="433.1" r="2.55" fill="#f6c3a4" stroke="#222" stroke-width="0.75"/>
<circle cx="769.2" cy="437.0" r="2.55" fill="#f6c3a4" stroke="#222" stroke-width="0.75"/>
<circle cx="756.5" cy="440.3" r="2.55" fill="#f6c3a4" stroke="#222" stroke-width="0.75"/>
<circle cx="762.9" cy="441.6" r="2.55" fill="#f6c3a4" stroke="#222" stroke-width="0.75"/>
<circle cx="766.2" cy="447.1" r="2.55" fill="#f6c3a4" stroke="#222" stroke-width="0.75"/>
<circle cx="759.4" cy="452.3" r="2.55" fill="#f6c3a4" stroke="#222" stroke-width="0.75"/>
<circle cx="759.4" cy="460.7" r="2.55" fill="#f6c3a4" stroke="#222" stroke-width="0.75"/>
<circle cx="766.2" cy="466.5" r="2.55" fill="#f6c3a4" stroke="#222" stroke-width="0.75"/>
<circle cx="762.9" cy="474.3" r="2.55" fill="#f6c3a4" stroke="#222" stroke-width="0.75"/>
<circle cx="822.7" cy="329.3" r="2.55" fill="#5cc8ef" stroke="#222" stroke-width="0.75"/>
<circle cx="822.7" cy="346.7" r="2.55" fill="#5cc8ef" stroke="#222" stroke-width="0.75"/>
<circle cx="819.4" cy="356.0" r="2.55" fill="#5cc8ef" stroke="#222" stroke-width="0.75"/>
<circle cx="825.9" cy="357.9" r="2.55" fill="#5cc8ef" stroke="#222" stroke-width="0.75"/>
<circle cx="822.7" cy="364.2" r="2.55" fill="#5cc8ef" stroke="#222" stroke-width="0.75"/>
<circle cx="829.1" cy="367.6" r="2.55" fill="#5cc8ef" stroke="#222" stroke-width="0.75"/>
<circle cx="816.4" cy="369.3" r="2.55" fill="#5cc8ef" stroke="#222" stroke-width="0.75"/>
<circle cx="822.7" cy="373.2" r="2.55" fill="#5cc8ef" stroke="#222" stroke-width="0.75"/>
<circle cx="809.6" cy="377.0" r="2.55" fill="#5cc8ef" stroke="#222" stroke-width="0.75"/>
<circle cx="816.4" cy="378.7" r="2.55" fill="#5cc8ef" stroke="#222" stroke-width="0.75"/>
<circle cx="829.1" cy="378.7" r="2.55" fill="#5cc8ef" stroke="#222" stroke-width="0.75"/>
<circle cx="835.6" cy="377.7" r="2.55" fill="#5cc8ef" stroke="#222" stroke-width="0.75"/>
<circle cx="805.3" cy="382.9" r="2.55" fill="#5cc8ef" stroke="#222" stroke-width="0.75"/>
<circle cx="810.4" cy="384.6" r="2.55" fill="#5cc8ef" stroke="#222" stroke-width="0.75"/>
<circle cx="815.5" cy="385.1" r="2.55" fill="#5cc8ef" stroke="#222" stroke-width="0.75"/>
<circle cx="820.3" cy="386.3" r="2.55" fill="#5cc8ef" stroke="#222" stroke-width="0.75"/>
<circle cx="822.7" cy="382.1" r="2.55" fill="#5cc8ef" stroke="#222" stroke-width="0.75"/>
<circle cx="830.3" cy="385.5" r="2.55" fill="#5cc8ef" stroke="#222" stroke-width="0.75"/>
<circle cx="835.1" cy="384.6" r="2.55" fill="#5cc8ef" stroke="#222" stroke-width="0.75"/>
<circle cx="840.2" cy="382.9" r="2.55" fill="#5cc8ef" stroke="#222" stroke-width="0.75"/>
<circle cx="825.4" cy="388.9" r="2.55" fill="#5cc8ef" stroke="#222" stroke-width="0.75"/>
<circle cx="822.7" cy="395.7" r="2.55" fill="#5cc8ef" stroke="#222" stroke-width="0.75"/>
<circle cx="819.4" cy="403.3" r="2.55" fill="#5cc8ef" stroke="#222" stroke-width="0.75"/>
<circle cx="829.1" cy="404.2" r="2.55" fill="#5cc8ef" stroke="#222" stroke-width="0.75"/>
<circle cx="819.4" cy="411.5" r="2.55" fill="#5cc8ef" stroke="#222" stroke-width="0.75"/>
<circle cx="825.9" cy="410.7" r="2.55" fill="#5cc8ef" stroke="#222" stroke-width="0.75"/>
<circle cx="822.7" cy="418.7" r="2.55" fill="#5cc8ef" stroke="#222" stroke-width="0.75"/>
<circle cx="822.6" cy="395.6" r="2.55" fill="#5cc8ef" stroke="#222" stroke-width="0.75"/>
<circle cx="819.3" cy="403.7" r="2.55" fill="#5cc8ef" stroke="#222" stroke-width="0.75"/>
<circle cx="829.4" cy="404.3" r="2.55" fill="#5cc8ef" stroke="#222" stroke-width="0.75"/>
<circle cx="822.6" cy="441.2" r="2.55" fill="#5cc8ef" stroke="#222" stroke-width="0.75"/>
<circle cx="882.5" cy="400.2" r="2.55" fill="#5cc8ef" stroke="#222" stroke-width="0.75"/>
<circle cx="879.2" cy="420.2" r="2.55" fill="#5cc8ef" stroke="#222" stroke-width="0.75"/>
<circle cx="885.8" cy="419.9" r="2.55" fill="#5cc8ef" stroke="#222" stroke-width="0.75"/>
<circle cx="876.1" cy="425.1" r="2.55" fill="#5cc8ef" stroke="#222" stroke-width="0.75"/>
<circle cx="889.1" cy="424.1" r="2.55" fill="#5cc8ef" stroke="#222" stroke-width="0.75"/>
<circle cx="882.5" cy="427.2" r="2.55" fill="#5cc8ef" stroke="#222" stroke-width="0.75"/>
<circle cx="869.3" cy="430.5" r="2.55" fill="#5cc8ef" stroke="#222" stroke-width="0.75"/>
<circle cx="876.1" cy="432.1" r="2.55" fill="#5cc8ef" stroke="#222" stroke-width="0.75"/>
<circle cx="895.5" cy="430.9" r="2.55" fill="#5cc8ef" stroke="#222" stroke-width="0.75"/>
<circle cx="882.5" cy="434.4" r="2.55" fill="#5cc8ef" stroke="#222" stroke-width="0.75"/>
<circle cx="889.1" cy="434.4" r="2.55" fill="#5cc8ef" stroke="#222" stroke-width="0.75"/>
<circle cx="882.5" cy="442.8" r="2.55" fill="#5cc8ef" stroke="#222" stroke-width="0.75"/>
<circle cx="872.8" cy="451.9" r="2.55" fill="#5cc8ef" stroke="#222" stroke-width="0.75"/>
<circle cx="879.2" cy="453.5" r="2.55" fill="#5cc8ef" stroke="#222" stroke-width="0.75"/>
<circle cx="885.8" cy="452.9" r="2.55" fill="#5cc8ef" stroke="#222" stroke-width="0.75"/>
<circle cx="892.6" cy="449.4" r="2.55" fill="#5cc8ef" stroke="#222" stroke-width="0.75"/>
<circle cx="879.2" cy="463.2" r="2.55" fill="#5cc8ef" stroke="#222" stroke-width="0.75"/>
<circle cx="885.8" cy="469.0" r="2.55" fill="#5cc8ef" stroke="#222" stroke-width="0.75"/>
<circle cx="882.5" cy="482.1" r="2.55" fill="#5cc8ef" stroke="#222" stroke-width="0.75"/>
<line x1="623.8" y1="432.7" x2="663.1" y2="432.7" stroke="#000" stroke-width="2.2"/>
<line x1="683.3" y1="431.6" x2="722.7" y2="431.6" stroke="#000" stroke-width="2.2"/>
<line x1="742.9" y1="436.8" x2="782.8" y2="436.8" stroke="#000" stroke-width="2.2"/>
<line x1="803.6" y1="383.3" x2="842.7" y2="383.3" stroke="#000" stroke-width="2.2"/>
<line x1="862.8" y1="434.1" x2="902.8" y2="434.1" stroke="#000" stroke-width="2.2"/>
<path d="M611.5,592.6999999999999 V782.3 H897.9 V592.6999999999999" fill="none" stroke="#000" stroke-width="1.1"/>
<line x1="608.0" y1="782.3" x2="611.5" y2="782.3" stroke="#000" stroke-width="1.1"/>
<text x="604" y="786.3" font-size="13" text-anchor="end">0</text>
<line x1="611.5" y1="782.3" x2="611.5" y2="785.8" stroke="#000" stroke-width="1.1"/>
<text x="611.5" y="803.2" font-size="13" text-anchor="middle">0</text>
<line x1="608.0" y1="719.0999999999999" x2="611.5" y2="719.0999999999999" stroke="#000" stroke-width="1.1"/>
<text x="604" y="723.0999999999999" font-size="13" text-anchor="end">5</text>
<line x1="706.5" y1="782.3" x2="706.5" y2="785.8" stroke="#000" stroke-width="1.1"/>
<text x="706.5" y="803.2" font-size="13" text-anchor="middle">5</text>
<line x1="608.0" y1="655.9" x2="611.5" y2="655.9" stroke="#000" stroke-width="1.1"/>
<text x="604" y="659.9" font-size="13" text-anchor="end">10</text>
<line x1="801.5" y1="782.3" x2="801.5" y2="785.8" stroke="#000" stroke-width="1.1"/>
<text x="801.5" y="803.2" font-size="13" text-anchor="middle">10</text>
<line x1="608.0" y1="592.6999999999999" x2="611.5" y2="592.6999999999999" stroke="#000" stroke-width="1.1"/>
<text x="604" y="596.6999999999999" font-size="13" text-anchor="end">15</text>
<line x1="896.5" y1="782.3" x2="896.5" y2="785.8" stroke="#000" stroke-width="1.1"/>
<text x="896.5" y="803.2" font-size="13" text-anchor="middle">15</text>
<line x1="897.9" y1="782.3" x2="901" y2="782.3" stroke="#000" stroke-width="1.1"/>
<text x="906" y="786.8" font-size="13">0.5</text>
<line x1="897.9" y1="763.4" x2="900" y2="763.4" stroke="#000" stroke-width="1"/>
<line x1="897.9" y1="744.4699999999999" x2="901" y2="744.4699999999999" stroke="#000" stroke-width="1.1"/>
<text x="906" y="748.9699999999999" font-size="13">0.7</text>
<line x1="897.9" y1="725.5699999999999" x2="900" y2="725.5699999999999" stroke="#000" stroke-width="1"/>
<line x1="897.9" y1="706.64" x2="901" y2="706.64" stroke="#000" stroke-width="1.1"/>
<text x="906" y="711.14" font-size="13">0.9</text>
<line x1="897.9" y1="687.74" x2="900" y2="687.74" stroke="#000" stroke-width="1"/>
<line x1="897.9" y1="668.81" x2="901" y2="668.81" stroke="#000" stroke-width="1.1"/>
<text x="906" y="673.31" font-size="13">1.1</text>
<line x1="897.9" y1="649.91" x2="900" y2="649.91" stroke="#000" stroke-width="1"/>
<line x1="897.9" y1="630.98" x2="901" y2="630.98" stroke="#000" stroke-width="1.1"/>
<text x="906" y="635.48" font-size="13">1.3</text>
<line x1="897.9" y1="612.08" x2="900" y2="612.08" stroke="#000" stroke-width="1"/>
<line x1="897.9" y1="593.15" x2="901" y2="593.15" stroke="#000" stroke-width="1.1"/>
<text x="906" y="597.65" font-size="13">1.5</text>
<text x="753.6" y="819.8" font-size="12.8" text-anchor="middle">Acquisition (n)</text>
<text transform="translate(581,685) rotate(-90)" font-size="13.5" text-anchor="middle">Fluorescence intensity (a.u.)</text>
<text transform="translate(944.8,686) rotate(-90)" font-size="13" text-anchor="middle">FRET ratio (FRET/mTFP)</text>
<path d="M630.5,752.2 L649.5,747.4 L668.5,745.5 L687.5,741.5 L706.5,739.5 L744.5,666.5 L763.5,667.8 L782.5,670.2 L801.5,670.2" fill="none" stroke="#8c8c8c" stroke-width="2.2" stroke-linejoin="round"/>
<path d="M630.5,736.4 L649.5,732.0 L668.5,730.0 L687.5,730.3 L706.5,730.3 L744.5,688.9 L763.5,690.9 L782.5,696.5 L801.5,698.1" fill="none" stroke="#8c8c8c" stroke-width="2.2" stroke-linejoin="round"/>
<path d="M630.5,705.8 L649.5,699.3 L668.5,696.2 L687.5,697.2 L706.5,698.0 L744.5,657.7 L763.5,655.0 L782.5,656.2 L801.5,655.0" fill="none" stroke="#8c8c8c" stroke-width="2.2" stroke-linejoin="round"/>
<path d="M630.5,604.6 L649.5,625.2 L668.5,632.3 L687.5,652.0 L706.5,664.1 L744.5,760.3 L763.5,763.5 L782.5,762.2 L801.5,758.7" fill="none" stroke="#000" stroke-width="2.4" stroke-linejoin="round"/>
<path d="M630.5,653.4 L649.5,670.3 L668.5,685.4 L687.5,684.8 L706.5,690.0 L744.5,761.1 L763.5,763.5 L782.5,763.5 L801.5,762.2" fill="none" stroke="#000" stroke-width="2.4" stroke-linejoin="round"/>
<path d="M630.5,676.3 L649.5,701.8 L668.5,715.1 L687.5,718.3 L706.5,718.8 L744.5,751.5 L763.5,758.3 L782.5,758.3 L801.5,755.5" fill="none" stroke="#000" stroke-width="2.4" stroke-linejoin="round"/>
<rect x="715.3" y="623.8" width="21.9" height="127.4" rx="8" fill="#5aa544" fill-opacity="0.72"/>
<circle cx="630.5" cy="752.2" r="3.1" fill="#f7ee00" stroke="#888" stroke-width="0.6"/>
<circle cx="649.5" cy="747.4" r="3.1" fill="#f7ee00" stroke="#888" stroke-width="0.6"/>
<circle cx="668.5" cy="745.5" r="3.1" fill="#f7ee00" stroke="#888" stroke-width="0.6"/>
<circle cx="687.5" cy="741.5" r="3.1" fill="#f7ee00" stroke="#888" stroke-width="0.6"/>
<circle cx="706.5" cy="739.5" r="3.1" fill="#f7ee00" stroke="#888" stroke-width="0.6"/>
<circle cx="744.5" cy="666.5" r="3.1" fill="#f7ee00" stroke="#888" stroke-width="0.6"/>
<circle cx="763.5" cy="667.8" r="3.1" fill="#f7ee00" stroke="#888" stroke-width="0.6"/>
<circle cx="782.5" cy="670.2" r="3.1" fill="#f7ee00" stroke="#888" stroke-width="0.6"/>
<circle cx="801.5" cy="670.2" r="3.1" fill="#f7ee00" stroke="#888" stroke-width="0.6"/>
<circle cx="630.5" cy="736.4" r="3.1" fill="#1ab8ee" stroke="#888" stroke-width="0.6"/>
<circle cx="649.5" cy="732.0" r="3.1" fill="#1ab8ee" stroke="#888" stroke-width="0.6"/>
<circle cx="668.5" cy="730.0" r="3.1" fill="#1ab8ee" stroke="#888" stroke-width="0.6"/>
<circle cx="687.5" cy="730.3" r="3.1" fill="#1ab8ee" stroke="#888" stroke-width="0.6"/>
<circle cx="706.5" cy="730.3" r="3.1" fill="#1ab8ee" stroke="#888" stroke-width="0.6"/>
<circle cx="744.5" cy="688.9" r="3.1" fill="#1ab8ee" stroke="#888" stroke-width="0.6"/>
<circle cx="763.5" cy="690.9" r="3.1" fill="#1ab8ee" stroke="#888" stroke-width="0.6"/>
<circle cx="782.5" cy="696.5" r="3.1" fill="#1ab8ee" stroke="#888" stroke-width="0.6"/>
<circle cx="801.5" cy="698.1" r="3.1" fill="#1ab8ee" stroke="#888" stroke-width="0.6"/>
<circle cx="630.5" cy="705.8" r="3.1" fill="#e8525e" stroke="#888" stroke-width="0.6"/>
<circle cx="649.5" cy="699.3" r="3.1" fill="#e8525e" stroke="#888" stroke-width="0.6"/>
<circle cx="668.5" cy="696.2" r="3.1" fill="#e8525e" stroke="#888" stroke-width="0.6"/>
<circle cx="687.5" cy="697.2" r="3.1" fill="#e8525e" stroke="#888" stroke-width="0.6"/>
<circle cx="706.5" cy="698.0" r="3.1" fill="#e8525e" stroke="#888" stroke-width="0.6"/>
<circle cx="744.5" cy="657.7" r="3.1" fill="#e8525e" stroke="#888" stroke-width="0.6"/>
<circle cx="763.5" cy="655.0" r="3.1" fill="#e8525e" stroke="#888" stroke-width="0.6"/>
<circle cx="782.5" cy="656.2" r="3.1" fill="#e8525e" stroke="#888" stroke-width="0.6"/>
<circle cx="801.5" cy="655.0" r="3.1" fill="#e8525e" stroke="#888" stroke-width="0.6"/>
<circle cx="630.5" cy="604.6" r="3.1" fill="#f7ee00" stroke="#888" stroke-width="0.6"/>
<circle cx="649.5" cy="625.2" r="3.1" fill="#f7ee00" stroke="#888" stroke-width="0.6"/>
<circle cx="668.5" cy="632.3" r="3.1" fill="#f7ee00" stroke="#888" stroke-width="0.6"/>
<circle cx="687.5" cy="652.0" r="3.1" fill="#f7ee00" stroke="#888" stroke-width="0.6"/>
<circle cx="706.5" cy="664.1" r="3.1" fill="#f7ee00" stroke="#888" stroke-width="0.6"/>
<circle cx="744.5" cy="760.3" r="3.1" fill="#f7ee00" stroke="#888" stroke-width="0.6"/>
<circle cx="763.5" cy="763.5" r="3.1" fill="#f7ee00" stroke="#888" stroke-width="0.6"/>
<circle cx="782.5" cy="762.2" r="3.1" fill="#f7ee00" stroke="#888" stroke-width="0.6"/>
<circle cx="801.5" cy="758.7" r="3.1" fill="#f7ee00" stroke="#888" stroke-width="0.6"/>
<circle cx="630.5" cy="653.4" r="3.1" fill="#1ab8ee" stroke="#888" stroke-width="0.6"/>
<circle cx="649.5" cy="670.3" r="3.1" fill="#1ab8ee" stroke="#888" stroke-width="0.6"/>
<circle cx="668.5" cy="685.4" r="3.1" fill="#1ab8ee" stroke="#888" stroke-width="0.6"/>
<circle cx="687.5" cy="684.8" r="3.1" fill="#1ab8ee" stroke="#888" stroke-width="0.6"/>
<circle cx="706.5" cy="690.0" r="3.1" fill="#1ab8ee" stroke="#888" stroke-width="0.6"/>
<circle cx="744.5" cy="761.1" r="3.1" fill="#1ab8ee" stroke="#888" stroke-width="0.6"/>
<circle cx="763.5" cy="763.5" r="3.1" fill="#1ab8ee" stroke="#888" stroke-width="0.6"/>
<circle cx="782.5" cy="763.5" r="3.1" fill="#1ab8ee" stroke="#888" stroke-width="0.6"/>
<circle cx="801.5" cy="762.2" r="3.1" fill="#1ab8ee" stroke="#888" stroke-width="0.6"/>
<circle cx="630.5" cy="676.3" r="3.1" fill="#e8525e" stroke="#888" stroke-width="0.6"/>
<circle cx="649.5" cy="701.8" r="3.1" fill="#e8525e" stroke="#888" stroke-width="0.6"/>
<circle cx="668.5" cy="715.1" r="3.1" fill="#e8525e" stroke="#888" stroke-width="0.6"/>
<circle cx="687.5" cy="718.3" r="3.1" fill="#e8525e" stroke="#888" stroke-width="0.6"/>
<circle cx="706.5" cy="718.8" r="3.1" fill="#e8525e" stroke="#888" stroke-width="0.6"/>
<circle cx="744.5" cy="751.5" r="3.1" fill="#e8525e" stroke="#888" stroke-width="0.6"/>
<circle cx="763.5" cy="758.3" r="3.1" fill="#e8525e" stroke="#888" stroke-width="0.6"/>
<circle cx="782.5" cy="758.3" r="3.1" fill="#e8525e" stroke="#888" stroke-width="0.6"/>
<circle cx="801.5" cy="755.5" r="3.1" fill="#e8525e" stroke="#888" stroke-width="0.6"/>
<rect x="720" y="577" width="12" height="75" fill="#fff"/>
<text transform="translate(730.8,614.5) rotate(-90)" font-size="12.5" text-anchor="middle" textLength="75" lengthAdjust="spacingAndGlyphs">BLEACHING</text>
<circle cx="824.4" cy="596.0" r="3.1" fill="#f7ee00" stroke="#888" stroke-width="0.6"/>
<text x="831.8" y="600.7" font-size="13.5">&#946;2-cTerm</text>
<circle cx="824.4" cy="610.2" r="3.1" fill="#1ab8ee" stroke="#888" stroke-width="0.6"/>
<text x="831.8" y="614.9000000000001" font-size="13.5">&#946;2-TS5</text>
<circle cx="824.4" cy="624.4" r="3.1" fill="#e8525e" stroke="#888" stroke-width="0.6"/>
<text x="831.8" y="629.1" font-size="13.5">&#946;2-TS3</text>
<path d="M806.5,652 H809.8 V701 H806.5" fill="none" stroke="#3b3b8a" stroke-width="1.2"/>
<path d="M806.5,749.5 H809.8 V767.7 H806.5" fill="none" stroke="#3b3b8a" stroke-width="1.2"/>
<text x="817" y="670.8" font-size="13">Donor</text>
<text x="817" y="686.2" font-size="13.3">intensity</text>
<text x="834.3" y="754" font-size="13" text-anchor="middle">FRET</text>
<text x="834.3" y="769" font-size="13" text-anchor="middle">ratio</text>
</svg></body></html>
